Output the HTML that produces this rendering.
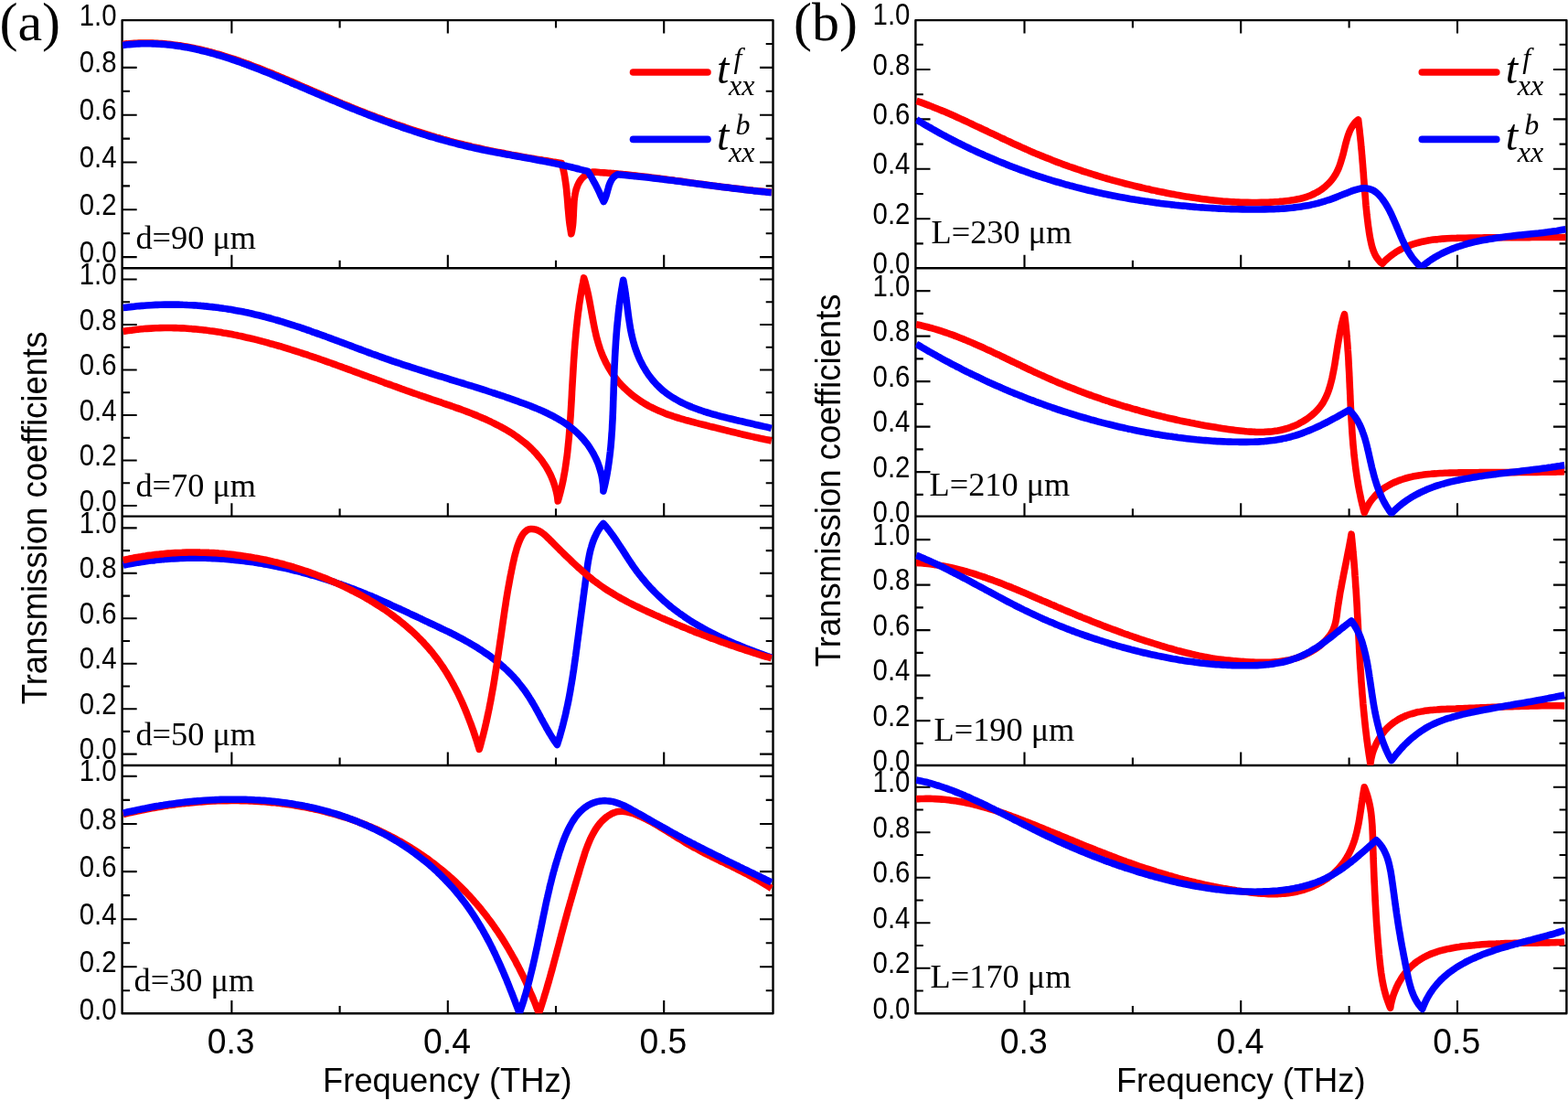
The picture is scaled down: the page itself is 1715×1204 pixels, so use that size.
<!DOCTYPE html>
<html lang="en">
<head>
<meta charset="utf-8">
<title>Transmission coefficients</title>
<style>
html,body{margin:0;padding:0;background:#fff;}
body{width:1715px;height:1204px;overflow:hidden;}
svg{display:block;}
.ax{fill:none;stroke:#000;stroke-width:2.4;stroke-linecap:butt;}
.tk{fill:none;stroke:#000;stroke-width:2.1;stroke-linecap:butt;}
.cv{fill:none;stroke-width:7.6;stroke-linejoin:round;stroke-linecap:butt;}
.r{stroke:#ff0000;}.b{stroke:#0000ff;}
.yt{font-family:"Liberation Sans", sans-serif;font-size:29.4px;text-anchor:end;fill:#000;}
.xt{font-family:"Liberation Sans", sans-serif;font-size:37.3px;text-anchor:middle;fill:#000;}
.ttl{font-family:"Liberation Sans", sans-serif;font-size:36.5px;text-anchor:middle;fill:#000;}
.lab{font-family:"Liberation Serif", serif;font-size:36.3px;fill:#000;}
.tag{font-family:"Liberation Serif", serif;font-size:60px;fill:#000;}
.lg{font-family:"Liberation Serif", serif;font-style:italic;fill:#000;}
</style>
</head>
<body>
<svg width="1715" height="1204" viewBox="0 0 1715 1204">
<rect x="0" y="0" width="1715" height="1204" fill="#fff"/>
<defs>
<clipPath id="ca1"><rect x="133.6" y="22.1" width="711.9" height="271.1"/></clipPath>
<clipPath id="ca2"><rect x="133.6" y="293.2" width="711.9" height="271.4"/></clipPath>
<clipPath id="ca3"><rect x="133.6" y="564.6" width="711.9" height="272.4"/></clipPath>
<clipPath id="ca4"><rect x="133.6" y="837" width="711.9" height="271.2"/></clipPath>
<clipPath id="cb1"><rect x="1001.4" y="22.1" width="712" height="271.1"/></clipPath>
<clipPath id="cb2"><rect x="1001.4" y="293.2" width="712" height="271.4"/></clipPath>
<clipPath id="cb3"><rect x="1001.4" y="564.6" width="712" height="272.4"/></clipPath>
<clipPath id="cb4"><rect x="1001.4" y="837" width="712" height="271.2"/></clipPath>
</defs>
<path class="ax" style="stroke-linejoin:round" d="M133.6 22.1H845.5V1108.3H133.6ZM133.6 293.2H845.5M133.6 564.6H845.5M133.6 837H845.5"/>
<g id="panel-a1">
<path class="tk" d="M133.6 48h8.4M845.5 48h-7.8M133.6 73.9h16.1M845.5 73.9h-14.5M133.6 99.8h8.4M845.5 99.8h-7.8M133.6 125.7h16.1M845.5 125.7h-14.5M133.6 151.6h8.4M845.5 151.6h-7.8M133.6 177.5h16.1M845.5 177.5h-14.5M133.6 203.4h8.4M845.5 203.4h-7.8M133.6 229.3h16.1M845.5 229.3h-14.5M133.6 255.2h8.4M845.5 255.2h-7.8M133.6 281.1h16.1M845.5 281.1h-14.5M253.4 293.2v-14.4M253.4 22.1v14.4M371.6 293.2v-8.4M371.6 22.1v8.4M489.8 293.2v-14.4M489.8 22.1v14.4M608 293.2v-8.4M608 22.1v8.4M726.2 293.2v-14.4M726.2 22.1v14.4"/>
<g clip-path="url(#ca1)">
<path class="cv r" d="M134.1 48.4C135.8 48.2 137.5 48 139.2 47.9C140.9 47.7 142.6 47.6 144.3 47.5C146 47.4 147.7 47.3 149.4 47.2C151 47.1 152.7 47.1 154.4 47C156.1 47 157.8 47 159.4 47C161.1 47 162.8 47 164.4 47C166.1 47.1 167.8 47.1 169.4 47.2C171.1 47.3 172.7 47.4 174.4 47.5C176 47.6 177.7 47.7 179.3 47.8C181 48 182.6 48.1 184.3 48.3C185.9 48.5 187.6 48.7 189.2 48.9C190.8 49.1 192.5 49.3 194.1 49.5C195.7 49.7 197.4 50 199 50.2C200.6 50.5 202.3 50.8 203.9 51.1C205.5 51.4 207.1 51.7 208.7 52C210.4 52.3 212 52.6 213.6 53C215.2 53.3 216.8 53.7 218.4 54C220.1 54.4 221.7 54.8 223.3 55.2C224.9 55.5 226.5 55.9 228.1 56.4C229.7 56.8 231.3 57.2 232.9 57.6C234.5 58.1 236.1 58.5 237.7 59C239.3 59.4 240.9 59.9 242.5 60.4C244.1 60.9 245.6 61.3 247.2 61.8C248.8 62.3 250.4 62.8 252 63.4C253.6 63.9 255.2 64.4 256.8 64.9C258.3 65.5 259.9 66 261.5 66.5C263.1 67.1 264.7 67.6 266.2 68.2C267.8 68.8 269.4 69.3 271 69.9C272.5 70.5 274.1 71.1 275.7 71.7C277.2 72.3 278.8 72.9 280.4 73.5C282 74.1 283.5 74.7 285.1 75.3C286.7 75.9 288.2 76.5 289.8 77.2C291.4 77.8 292.9 78.4 294.5 79.1C296 79.7 297.6 80.3 299.2 81C300.7 81.6 302.3 82.3 303.8 82.9C305.4 83.6 307 84.2 308.5 84.9C310.1 85.5 311.6 86.2 313.2 86.9C314.8 87.5 316.3 88.2 317.9 88.9C319.4 89.5 321 90.2 322.5 90.9C324.1 91.5 325.6 92.2 327.2 92.9C328.7 93.6 330.3 94.2 331.8 94.9C333.4 95.6 334.9 96.3 336.5 96.9C338.1 97.6 339.6 98.3 341.2 99C342.7 99.7 344.3 100.3 345.8 101C347.4 101.7 348.9 102.4 350.5 103C352 103.7 353.6 104.4 355.1 105C356.7 105.7 358.2 106.4 359.8 107C361.3 107.7 362.9 108.4 364.4 109C366 109.7 367.5 110.4 369.1 111C370.6 111.7 372.2 112.3 373.7 113C375.3 113.6 376.8 114.3 378.4 114.9C379.9 115.5 381.5 116.2 383 116.8C384.6 117.4 386.1 118.1 387.7 118.7C389.2 119.3 390.8 119.9 392.3 120.6C393.9 121.2 395.4 121.8 397 122.4C398.5 123 400.1 123.6 401.6 124.2C403.2 124.8 404.8 125.4 406.3 126C407.9 126.6 409.4 127.2 411 127.8C412.5 128.4 414.1 129 415.7 129.5C417.2 130.1 418.8 130.7 420.3 131.3C421.9 131.8 423.5 132.4 425 133C426.6 133.5 428.1 134.1 429.7 134.7C431.3 135.2 432.8 135.8 434.4 136.3C436 136.9 437.5 137.4 439.1 138C440.7 138.5 442.2 139 443.8 139.6C445.4 140.1 446.9 140.6 448.5 141.2C450.1 141.7 451.7 142.2 453.2 142.7C454.8 143.2 456.4 143.7 457.9 144.2C459.5 144.7 461.1 145.2 462.7 145.7C464.3 146.2 465.8 146.7 467.4 147.2C469 147.7 470.6 148.2 472.2 148.7C473.7 149.1 475.3 149.6 476.9 150.1C478.5 150.5 480.1 151 481.7 151.4C483.3 151.9 484.8 152.3 486.4 152.8C488 153.2 489.6 153.7 491.2 154.1C492.8 154.5 494.4 154.9 496 155.4C497.6 155.8 499.2 156.2 500.8 156.6C502.4 157 504 157.4 505.6 157.8C507.2 158.2 508.8 158.6 510.4 159C512 159.4 513.6 159.7 515.2 160.1C516.8 160.5 518.4 160.9 520.1 161.2C521.7 161.6 523.3 161.9 524.9 162.3C526.5 162.7 528.1 163 529.8 163.4C531.4 163.7 533 164.1 534.6 164.4C536.2 164.7 537.9 165.1 539.5 165.4C541.1 165.7 542.8 166.1 544.4 166.4C546 166.7 547.7 167 549.3 167.3C550.9 167.7 552.6 168 554.2 168.3C555.9 168.6 557.5 168.9 559.1 169.2C560.8 169.5 562.4 169.8 564.1 170.1C565.7 170.4 567.4 170.7 569 171C570.7 171.3 572.3 171.6 574 171.9C575.7 172.2 577.3 172.5 579 172.7C580.7 173 582.3 173.3 584 173.6C585.7 173.9 587.3 174.2 589 174.4C590.7 174.7 592.3 175 594 175.3C595.7 175.5 597.4 175.8 599.1 176.1C600.7 176.4 602.4 176.6 604.1 176.9C605.8 177.2 607.5 177.4 609.2 177.7C610.9 178 612.6 178.3 614.3 178.5C614.7 180.1 615.2 181.6 615.6 183.2C616 184.8 616.3 186.3 616.7 187.9C617 189.5 617.3 191.1 617.6 192.7C617.9 194.3 618.1 195.9 618.3 197.5C618.6 199.1 618.8 200.7 619 202.3C619.2 203.9 619.4 205.5 619.6 207.1C619.7 208.8 619.9 210.4 620 212C620.2 213.6 620.3 215.3 620.5 216.9C620.6 218.5 620.7 220.1 620.9 221.8C621 223.4 621.1 225 621.2 226.6C621.4 228.3 621.5 229.9 621.7 231.5C621.8 233.2 622 234.8 622.1 236.4C622.3 238 622.4 239.7 622.6 241.3C622.8 242.9 623 244.5 623.2 246.1C623.5 247.7 623.7 249.3 624 250.9C624.2 252.5 624.5 254.1 624.8 255.7C625.2 254.2 625.6 252.7 625.8 251C626.1 249.4 626.3 247.8 626.5 246.1C626.7 244.4 626.8 242.7 626.9 240.9C627 239.2 627.1 237.4 627.2 235.6C627.3 233.8 627.3 232 627.4 230.2C627.5 228.4 627.6 226.6 627.7 224.8C627.8 223 627.9 221.3 628 219.5C628.2 217.7 628.4 216 628.7 214.3C628.9 212.6 629.3 210.9 629.7 209.2C630 207.6 630.5 206 631.1 204.5C631.6 202.9 632.3 201.5 633 200.1C633.8 198.7 634.6 197.4 635.6 196.1C636.6 194.9 637.7 193.8 638.9 192.8C640.1 191.7 641.5 190.8 643.1 190C644.6 189.2 646.3 188.6 648.1 188C649.8 188.1 651.5 188.2 653.2 188.3C654.8 188.4 656.5 188.6 658.2 188.7C659.9 188.8 661.5 188.9 663.2 189C664.9 189.2 666.6 189.3 668.2 189.4C669.9 189.6 671.6 189.7 673.3 189.9C674.9 190 676.6 190.2 678.3 190.3C680 190.5 681.6 190.6 683.3 190.8C685 191 686.6 191.2 688.3 191.3C690 191.5 691.7 191.7 693.3 191.9C695 192 696.7 192.2 698.3 192.4C700 192.6 701.7 192.8 703.3 193C705 193.2 706.7 193.4 708.4 193.6C710 193.8 711.7 194 713.4 194.2C715 194.4 716.7 194.6 718.4 194.8C720 195 721.7 195.3 723.4 195.5C725.1 195.7 726.7 195.9 728.4 196.1C730.1 196.3 731.7 196.6 733.4 196.8C735.1 197 736.7 197.2 738.4 197.5C740.1 197.7 741.7 197.9 743.4 198.1C745.1 198.4 746.7 198.6 748.4 198.8C750.1 199 751.8 199.3 753.4 199.5C755.1 199.7 756.8 199.9 758.4 200.2C760.1 200.4 761.8 200.6 763.4 200.9C765.1 201.1 766.8 201.3 768.4 201.5C770.1 201.8 771.8 202 773.4 202.2C775.1 202.4 776.8 202.6 778.5 202.9C780.1 203.1 781.8 203.3 783.5 203.5C785.1 203.7 786.8 204 788.5 204.2C790.1 204.4 791.8 204.6 793.5 204.8C795.2 205 796.8 205.2 798.5 205.4C800.2 205.6 801.8 205.8 803.5 206C805.2 206.2 806.9 206.4 808.5 206.6C810.2 206.8 811.9 207 813.6 207.2C815.2 207.4 816.9 207.6 818.6 207.7C820.2 207.9 821.9 208.1 823.6 208.3C825.3 208.4 826.9 208.6 828.6 208.8C830.3 208.9 832 209.1 833.6 209.2C835.3 209.4 837 209.5 838.7 209.7C840.3 209.8 842 210 843.7 210.1"/>
<path class="cv b" d="M134.1 49.4C135.9 49.2 137.6 49 139.3 48.8C141 48.6 142.7 48.5 144.4 48.4C146.1 48.2 147.8 48.1 149.5 48C151.2 47.9 152.8 47.9 154.5 47.8C156.2 47.8 157.9 47.8 159.6 47.7C161.2 47.7 162.9 47.7 164.6 47.8C166.3 47.8 167.9 47.9 169.6 47.9C171.2 48 172.9 48.1 174.6 48.2C176.2 48.3 177.9 48.4 179.5 48.5C181.2 48.7 182.8 48.8 184.5 49C186.1 49.2 187.8 49.4 189.4 49.6C191 49.8 192.7 50 194.3 50.2C195.9 50.5 197.6 50.7 199.2 51C200.8 51.3 202.5 51.5 204.1 51.8C205.7 52.1 207.3 52.4 208.9 52.8C210.6 53.1 212.2 53.4 213.8 53.8C215.4 54.1 217 54.5 218.6 54.9C220.2 55.2 221.8 55.6 223.4 56C225 56.4 226.6 56.9 228.2 57.3C229.8 57.7 231.4 58.1 233 58.6C234.6 59 236.2 59.5 237.8 60C239.4 60.4 241 60.9 242.6 61.4C244.2 61.9 245.7 62.4 247.3 62.9C248.9 63.4 250.5 63.9 252.1 64.4C253.6 65 255.2 65.5 256.8 66C258.4 66.6 259.9 67.1 261.5 67.7C263.1 68.2 264.7 68.8 266.2 69.4C267.8 70 269.4 70.5 270.9 71.1C272.5 71.7 274.1 72.3 275.6 72.9C277.2 73.5 278.8 74.1 280.3 74.7C281.9 75.3 283.5 75.9 285 76.5C286.6 77.2 288.1 77.8 289.7 78.4C291.2 79 292.8 79.7 294.4 80.3C295.9 80.9 297.5 81.6 299 82.2C300.6 82.9 302.1 83.5 303.7 84.2C305.2 84.8 306.8 85.5 308.3 86.1C309.9 86.8 311.5 87.4 313 88.1C314.6 88.7 316.1 89.4 317.7 90.1C319.2 90.7 320.8 91.4 322.3 92.1C323.8 92.7 325.4 93.4 326.9 94C328.5 94.7 330 95.4 331.6 96C333.1 96.7 334.7 97.4 336.2 98C337.8 98.7 339.3 99.4 340.9 100C342.4 100.7 344 101.3 345.5 102C347.1 102.7 348.6 103.3 350.2 104C351.7 104.6 353.3 105.3 354.8 106C356.4 106.6 357.9 107.3 359.5 107.9C361 108.6 362.6 109.2 364.1 109.9C365.7 110.5 367.2 111.2 368.8 111.8C370.3 112.5 371.9 113.1 373.4 113.8C375 114.4 376.5 115 378.1 115.7C379.6 116.3 381.2 117 382.7 117.6C384.3 118.2 385.8 118.8 387.4 119.5C389 120.1 390.5 120.7 392.1 121.4C393.6 122 395.2 122.6 396.8 123.2C398.3 123.8 399.9 124.4 401.4 125C403 125.7 404.6 126.3 406.1 126.9C407.7 127.5 409.3 128.1 410.8 128.7C412.4 129.3 414 129.9 415.5 130.4C417.1 131 418.7 131.6 420.2 132.2C421.8 132.8 423.4 133.4 425 133.9C426.5 134.5 428.1 135.1 429.7 135.6C431.3 136.2 432.8 136.8 434.4 137.3C436 137.9 437.6 138.4 439.1 139C440.7 139.5 442.3 140.1 443.9 140.6C445.5 141.1 447 141.7 448.6 142.2C450.2 142.7 451.8 143.3 453.4 143.8C454.9 144.3 456.5 144.8 458.1 145.3C459.7 145.8 461.3 146.3 462.9 146.8C464.5 147.3 466.1 147.8 467.6 148.3C469.2 148.8 470.8 149.3 472.4 149.7C474 150.2 475.6 150.7 477.2 151.2C478.8 151.6 480.4 152.1 482 152.5C483.6 153 485.2 153.4 486.8 153.9C488.4 154.3 490 154.7 491.6 155.2C493.2 155.6 494.8 156 496.4 156.4C498 156.9 499.6 157.3 501.2 157.7C502.8 158.1 504.4 158.5 506 158.9C507.6 159.3 509.2 159.6 510.8 160C512.4 160.4 514 160.8 515.6 161.1C517.2 161.5 518.8 161.8 520.5 162.2C522.1 162.5 523.7 162.9 525.3 163.2C526.9 163.6 528.5 163.9 530.1 164.2C531.7 164.5 533.4 164.9 535 165.2C536.6 165.5 538.2 165.8 539.8 166.1C541.4 166.5 543.1 166.8 544.7 167.1C546.3 167.4 547.9 167.7 549.6 168C551.2 168.3 552.8 168.6 554.4 168.9C556 169.2 557.7 169.5 559.3 169.8C560.9 170.1 562.6 170.4 564.2 170.7C565.8 171 567.4 171.3 569.1 171.5C570.7 171.8 572.3 172.1 574 172.4C575.6 172.7 577.2 173 578.9 173.3C580.5 173.6 582.1 173.9 583.8 174.3C585.4 174.6 587 174.9 588.7 175.2C590.3 175.5 592 175.8 593.6 176.1C595.2 176.4 596.9 176.8 598.5 177.1C600.2 177.4 601.8 177.8 603.5 178.1C605.1 178.4 606.8 178.8 608.4 179.1C610 179.5 611.7 179.8 613.3 180.2C615 180.5 616.6 180.9 618.3 181.3C619.9 181.7 621.6 182 623.2 182.4C624.9 182.8 626.5 183.2 628.2 183.6C629.9 184 631.5 184.5 633.2 184.9C634.8 185.3 636.5 185.7 638.1 186.2C639.8 186.6 641.5 187.1 643.1 187.5C644.1 189 645 190.6 645.9 192.1C646.8 193.6 647.7 195.2 648.5 196.7C649.4 198.3 650.2 199.8 651.1 201.4C651.9 203 652.7 204.5 653.5 206.1C654.3 207.7 655 209.3 655.8 210.9C656.5 212.5 657.3 214.2 658 215.8C658.7 217.4 659.5 219 660.2 220.6C661 219.3 661.6 217.8 662.2 216.3C662.8 214.7 663.3 213.1 663.7 211.5C664.2 209.8 664.6 208.2 665.1 206.5C665.5 204.9 666 203.3 666.5 201.8C667.1 200.2 667.7 198.7 668.5 197.4C669.3 196 670.2 194.7 671.3 193.6C672.4 192.5 673.7 191.6 675.2 190.8C676.9 190.9 678.5 191.1 680.2 191.2C681.8 191.4 683.5 191.6 685.1 191.7C686.8 191.9 688.5 192 690.1 192.2C691.8 192.4 693.4 192.5 695.1 192.7C696.7 192.9 698.4 193.1 700 193.2C701.7 193.4 703.3 193.6 705 193.8C706.6 194 708.3 194.2 709.9 194.3C711.6 194.5 713.3 194.7 714.9 194.9C716.6 195.1 718.2 195.3 719.9 195.5C721.5 195.7 723.2 195.9 724.8 196.1C726.5 196.3 728.1 196.5 729.8 196.7C731.4 196.9 733.1 197.1 734.7 197.3C736.4 197.6 738 197.8 739.7 198C741.3 198.2 743 198.4 744.6 198.6C746.3 198.8 747.9 199 749.6 199.2C751.2 199.5 752.9 199.7 754.5 199.9C756.2 200.1 757.8 200.3 759.5 200.5C761.1 200.8 762.8 201 764.4 201.2C766.1 201.4 767.7 201.6 769.4 201.8C771 202 772.7 202.3 774.3 202.5C776 202.7 777.6 202.9 779.3 203.1C780.9 203.3 782.6 203.5 784.2 203.8C785.9 204 787.5 204.2 789.2 204.4C790.8 204.6 792.5 204.8 794.1 205C795.8 205.2 797.4 205.4 799.1 205.6C800.7 205.8 802.4 206 804 206.2C805.7 206.4 807.3 206.6 809 206.8C810.6 207 812.3 207.2 813.9 207.4C815.6 207.6 817.2 207.8 818.9 208C820.5 208.2 822.2 208.4 823.8 208.6C825.5 208.7 827.2 208.9 828.8 209.1C830.5 209.3 832.1 209.5 833.8 209.6C835.4 209.8 837.1 210 838.7 210.1C840.4 210.3 842 210.5 843.7 210.6"/>
</g>
<text class="yt" transform="translate(127.6 27.65) scale(1 1.1)">1.0</text>
<text class="yt" transform="translate(127.6 79.45) scale(1 1.1)">0.8</text>
<text class="yt" transform="translate(127.6 131.25) scale(1 1.1)">0.6</text>
<text class="yt" transform="translate(127.6 183.05) scale(1 1.1)">0.4</text>
<text class="yt" transform="translate(127.6 234.85) scale(1 1.1)">0.2</text>
<text class="yt" transform="translate(127.6 286.65) scale(1 1.1)">0.0</text>
<text class="lab" x="148.4" y="271.8">d=90 μm</text>
</g>
<g id="panel-a2">
<path class="tk" d="M133.6 305.5h16.1M845.5 305.5h-14.5M133.6 330.2h8.4M845.5 330.2h-7.8M133.6 355h16.1M845.5 355h-14.5M133.6 379.8h8.4M845.5 379.8h-7.8M133.6 404.5h16.1M845.5 404.5h-14.5M133.6 429.2h8.4M845.5 429.2h-7.8M133.6 454h16.1M845.5 454h-14.5M133.6 478.8h8.4M845.5 478.8h-7.8M133.6 503.5h16.1M845.5 503.5h-14.5M133.6 528.2h8.4M845.5 528.2h-7.8M133.6 553h16.1M845.5 553h-14.5M253.4 564.6v-14.4M371.6 564.6v-8.4M489.8 564.6v-14.4M608 564.6v-8.4M726.2 564.6v-14.4"/>
<g clip-path="url(#ca2)">
<path class="cv r" d="M134.7 362.4C136.4 362.1 138.1 361.9 139.8 361.6C141.5 361.4 143.2 361.1 144.9 360.9C146.6 360.7 148.3 360.5 150 360.3C151.6 360.1 153.3 360 155 359.8C156.7 359.7 158.4 359.5 160 359.4C161.7 359.3 163.4 359.2 165.1 359.1C166.7 359 168.4 358.9 170.1 358.8C171.7 358.7 173.4 358.7 175.1 358.6C176.7 358.6 178.4 358.6 180.1 358.5C181.7 358.5 183.4 358.5 185 358.5C186.7 358.5 188.3 358.6 190 358.6C191.6 358.6 193.3 358.7 194.9 358.7C196.6 358.8 198.2 358.9 199.9 358.9C201.5 359 203.2 359.1 204.8 359.2C206.5 359.3 208.1 359.4 209.7 359.6C211.4 359.7 213 359.8 214.6 360C216.3 360.2 217.9 360.3 219.5 360.5C221.2 360.7 222.8 360.8 224.4 361C226.1 361.2 227.7 361.4 229.3 361.7C230.9 361.9 232.6 362.1 234.2 362.3C235.8 362.6 237.4 362.8 239.1 363.1C240.7 363.3 242.3 363.6 243.9 363.9C245.5 364.1 247.1 364.4 248.8 364.7C250.4 365 252 365.3 253.6 365.6C255.2 365.9 256.8 366.3 258.4 366.6C260 366.9 261.6 367.3 263.2 367.6C264.9 367.9 266.5 368.3 268.1 368.7C269.7 369 271.3 369.4 272.9 369.8C274.5 370.1 276.1 370.5 277.7 370.9C279.3 371.3 280.9 371.7 282.5 372.1C284.1 372.5 285.7 372.9 287.3 373.4C288.9 373.8 290.5 374.2 292 374.6C293.6 375.1 295.2 375.5 296.8 376C298.4 376.4 300 376.9 301.6 377.3C303.2 377.8 304.8 378.2 306.4 378.7C308 379.2 309.5 379.6 311.1 380.1C312.7 380.6 314.3 381.1 315.9 381.6C317.5 382.1 319.1 382.6 320.6 383.1C322.2 383.6 323.8 384.1 325.4 384.6C327 385.1 328.6 385.6 330.1 386.1C331.7 386.7 333.3 387.2 334.9 387.7C336.5 388.2 338 388.8 339.6 389.3C341.2 389.8 342.8 390.4 344.4 390.9C345.9 391.4 347.5 392 349.1 392.5C350.7 393.1 352.3 393.6 353.8 394.2C355.4 394.7 357 395.3 358.6 395.9C360.1 396.4 361.7 397 363.3 397.5C364.9 398.1 366.4 398.7 368 399.2C369.6 399.8 371.2 400.4 372.7 400.9C374.3 401.5 375.9 402.1 377.5 402.7C379 403.2 380.6 403.8 382.2 404.4C383.8 405 385.3 405.5 386.9 406.1C388.5 406.7 390.1 407.3 391.6 407.8C393.2 408.4 394.8 409 396.4 409.6C397.9 410.2 399.5 410.7 401.1 411.3C402.7 411.9 404.2 412.5 405.8 413.1C407.4 413.6 409 414.2 410.5 414.8C412.1 415.4 413.7 415.9 415.2 416.5C416.8 417.1 418.4 417.7 420 418.3C421.5 418.8 423.1 419.4 424.7 420C426.3 420.5 427.8 421.1 429.4 421.7C431 422.3 432.6 422.8 434.1 423.4C435.7 424 437.3 424.5 438.8 425.1C440.4 425.6 442 426.2 443.5 426.8C445.1 427.3 446.7 427.9 448.3 428.4C449.8 429 451.4 429.5 453 430.1C454.5 430.6 456.1 431.2 457.7 431.7C459.2 432.3 460.8 432.8 462.4 433.4C463.9 433.9 465.5 434.4 467 435C468.6 435.5 470.2 436 471.7 436.6C473.3 437.1 474.8 437.6 476.4 438.1C478 438.7 479.5 439.2 481.1 439.7C482.6 440.2 484.2 440.8 485.7 441.3C487.3 441.8 488.8 442.4 490.4 442.9C491.9 443.4 493.5 444 495 444.5C496.6 445 498.1 445.6 499.7 446.1C501.2 446.7 502.8 447.2 504.3 447.8C505.9 448.4 507.4 448.9 508.9 449.5C510.5 450.1 512 450.7 513.6 451.3C515.1 451.9 516.6 452.5 518.2 453.1C519.7 453.7 521.2 454.3 522.8 455C524.3 455.6 525.8 456.3 527.3 456.9C528.9 457.6 530.4 458.3 531.9 458.9C533.4 459.6 534.9 460.3 536.5 461C538 461.8 539.5 462.5 541 463.2C542.4 464 543.9 464.7 545.4 465.5C546.9 466.3 548.3 467.1 549.8 467.9C551.3 468.7 552.7 469.5 554.1 470.3C555.6 471.2 557 472.1 558.4 472.9C559.8 473.8 561.2 474.7 562.5 475.6C563.9 476.5 565.3 477.5 566.6 478.4C567.9 479.4 569.2 480.4 570.5 481.4C571.8 482.4 573.1 483.4 574.4 484.4C575.6 485.5 576.8 486.5 578.1 487.6C579.3 488.7 580.4 489.8 581.6 491C582.8 492.1 583.9 493.3 585 494.4C586.1 495.6 587.2 496.8 588.2 498.1C589.3 499.3 590.3 500.5 591.3 501.8C592.3 503.1 593.3 504.4 594.2 505.8C595.1 507.1 596 508.4 596.9 509.8C597.8 511.2 598.6 512.6 599.4 514C600.2 515.5 600.9 516.9 601.7 518.4C602.4 519.9 603.1 521.4 603.7 523C604.3 524.5 605 526 605.5 527.6C606.1 529.2 606.6 530.8 607.1 532.5C607.6 534.1 608 535.8 608.4 537.5C608.8 539.2 609.2 540.9 609.5 542.6C609.8 544.4 610 546.2 610.2 548C610.7 546.4 611.2 544.8 611.6 543.1C612.1 541.5 612.5 539.9 612.9 538.3C613.3 536.7 613.7 535.1 614.1 533.4C614.5 531.8 614.9 530.2 615.2 528.6C615.6 526.9 615.9 525.3 616.2 523.7C616.5 522.1 616.8 520.4 617.1 518.8C617.4 517.2 617.7 515.5 618 513.9C618.2 512.2 618.5 510.6 618.7 509C619 507.3 619.2 505.7 619.4 504C619.7 502.4 619.9 500.7 620.1 499.1C620.3 497.4 620.5 495.8 620.7 494.1C620.9 492.5 621 490.8 621.2 489.1C621.4 487.5 621.5 485.8 621.7 484.2C621.9 482.5 622 480.8 622.2 479.2C622.3 477.5 622.5 475.8 622.6 474.2C622.7 472.5 622.9 470.8 623 469.2C623.1 467.5 623.3 465.8 623.4 464.2C623.5 462.5 623.6 460.8 623.7 459.2C623.9 457.5 624 455.8 624.1 454.1C624.2 452.5 624.3 450.8 624.4 449.1C624.5 447.4 624.6 445.7 624.7 444.1C624.8 442.4 624.9 440.7 625 439C625.1 437.4 625.2 435.7 625.3 434C625.4 432.3 625.5 430.6 625.5 429C625.6 427.3 625.7 425.6 625.8 423.9C625.9 422.2 626 420.6 626.1 418.9C626.2 417.2 626.3 415.5 626.4 413.8C626.5 412.1 626.6 410.5 626.7 408.8C626.8 407.1 626.9 405.4 627 403.7C627.1 402.1 627.2 400.4 627.3 398.7C627.4 397 627.5 395.3 627.6 393.7C627.7 392 627.9 390.3 628 388.6C628.1 386.9 628.2 385.3 628.3 383.6C628.5 381.9 628.6 380.2 628.7 378.5C628.9 376.9 629 375.2 629.1 373.5C629.3 371.8 629.4 370.2 629.6 368.5C629.7 366.8 629.9 365.2 630 363.5C630.2 361.8 630.4 360.1 630.5 358.5C630.7 356.8 630.9 355.1 631.1 353.5C631.2 351.8 631.4 350.1 631.6 348.5C631.8 346.8 632 345.1 632.2 343.5C632.4 341.8 632.6 340.2 632.9 338.5C633.1 336.8 633.3 335.2 633.5 333.5C633.8 331.9 634 330.2 634.3 328.6C634.5 326.9 634.8 325.3 635 323.6C635.3 322 635.6 320.3 635.9 318.7C636.1 317 636.4 315.4 636.7 313.8C637 312.1 637.3 310.5 637.7 308.8C638 307.2 638.3 305.6 638.6 303.9C639.1 305.5 639.6 307.1 640.1 308.7C640.5 310.3 640.9 311.9 641.3 313.5C641.7 315.1 642.1 316.8 642.5 318.4C642.9 320 643.2 321.7 643.6 323.3C643.9 324.9 644.2 326.6 644.6 328.2C644.9 329.9 645.2 331.5 645.5 333.2C645.8 334.8 646.1 336.5 646.4 338.1C646.7 339.8 647 341.4 647.3 343.1C647.6 344.7 647.9 346.4 648.2 348C648.5 349.6 648.8 351.3 649.1 352.9C649.4 354.6 649.7 356.2 650.1 357.8C650.4 359.5 650.7 361.1 651.1 362.7C651.5 364.3 651.8 365.9 652.2 367.6C652.6 369.2 653.1 370.8 653.5 372.3C653.9 373.9 654.4 375.5 654.9 377.1C655.4 378.7 655.9 380.2 656.4 381.8C657 383.3 657.5 384.8 658.1 386.4C658.7 387.9 659.4 389.4 660 390.9C660.7 392.4 661.4 393.9 662.1 395.3C662.8 396.8 663.6 398.3 664.4 399.7C665.1 401.1 666 402.5 666.8 403.9C667.6 405.3 668.5 406.7 669.4 408.1C670.3 409.4 671.3 410.8 672.3 412.1C673.2 413.4 674.2 414.7 675.3 416C676.3 417.3 677.4 418.5 678.5 419.7C679.6 421 680.8 422.2 681.9 423.4C683.1 424.5 684.3 425.7 685.5 426.8C686.8 428 688 429.1 689.3 430.1C690.6 431.2 691.9 432.3 693.2 433.3C694.5 434.3 695.9 435.3 697.2 436.2C698.6 437.2 699.9 438.1 701.3 439C702.7 439.9 704.1 440.8 705.5 441.6C707 442.5 708.4 443.3 709.8 444.1C711.3 444.8 712.7 445.6 714.2 446.3C715.7 447 717.2 447.7 718.7 448.4C720.1 449.1 721.6 449.7 723.2 450.3C724.7 451 726.2 451.6 727.7 452.2C729.3 452.8 730.8 453.3 732.4 453.9C733.9 454.4 735.5 455 737 455.5C738.6 456 740.2 456.5 741.8 457C743.4 457.5 745 457.9 746.5 458.4C748.1 458.9 749.8 459.3 751.4 459.8C753 460.2 754.6 460.7 756.2 461.1C757.8 461.5 759.5 461.9 761.1 462.4C762.7 462.8 764.3 463.2 766 463.6C767.6 464 769.3 464.4 770.9 464.8C772.5 465.2 774.2 465.6 775.8 466.1C777.5 466.5 779.1 466.9 780.8 467.3C782.4 467.7 784.1 468.1 785.7 468.5C787.4 468.9 789 469.4 790.7 469.8C792.3 470.2 794 470.6 795.6 471C797.3 471.4 798.9 471.8 800.6 472.2C802.2 472.6 803.9 473 805.5 473.4C807.1 473.8 808.8 474.2 810.4 474.6C812 475 813.7 475.4 815.3 475.8C816.9 476.1 818.5 476.5 820.1 476.9C821.8 477.3 823.4 477.6 825 478C826.6 478.3 828.2 478.7 829.8 479C831.3 479.4 832.9 479.7 834.5 480C836.1 480.4 837.6 480.7 839.2 481C840.8 481.3 842.3 481.6 843.8 481.9"/>
<path class="cv b" d="M134.7 336.6C136.4 336.4 138.1 336.2 139.8 335.9C141.5 335.7 143.2 335.5 144.9 335.4C146.6 335.2 148.3 335 150 334.8C151.7 334.7 153.4 334.5 155.1 334.4C156.8 334.3 158.4 334.1 160.1 334C161.8 333.9 163.5 333.8 165.2 333.7C166.8 333.6 168.5 333.5 170.2 333.4C171.9 333.4 173.5 333.3 175.2 333.2C176.9 333.2 178.5 333.2 180.2 333.1C181.9 333.1 183.5 333.1 185.2 333.1C186.9 333.1 188.5 333.1 190.2 333.1C191.8 333.1 193.5 333.1 195.2 333.1C196.8 333.2 198.5 333.2 200.1 333.3C201.8 333.3 203.4 333.4 205.1 333.5C206.7 333.5 208.4 333.6 210 333.7C211.6 333.8 213.3 333.9 214.9 334C216.6 334.2 218.2 334.3 219.8 334.4C221.5 334.6 223.1 334.7 224.8 334.9C226.4 335 228 335.2 229.6 335.4C231.3 335.6 232.9 335.7 234.5 335.9C236.2 336.1 237.8 336.3 239.4 336.6C241 336.8 242.7 337 244.3 337.3C245.9 337.5 247.5 337.7 249.1 338C250.8 338.3 252.4 338.5 254 338.8C255.6 339.1 257.2 339.4 258.8 339.7C260.5 340 262.1 340.3 263.7 340.6C265.3 340.9 266.9 341.2 268.5 341.6C270.1 341.9 271.7 342.2 273.3 342.6C274.9 342.9 276.6 343.3 278.2 343.7C279.8 344 281.4 344.4 283 344.8C284.6 345.2 286.2 345.6 287.8 346C289.4 346.4 291 346.9 292.6 347.3C294.2 347.7 295.8 348.1 297.4 348.6C299 349 300.6 349.5 302.1 350C303.7 350.4 305.3 350.9 306.9 351.4C308.5 351.8 310.1 352.3 311.7 352.8C313.3 353.3 314.9 353.8 316.5 354.3C318.1 354.8 319.6 355.3 321.2 355.8C322.8 356.4 324.4 356.9 326 357.4C327.6 357.9 329.2 358.5 330.8 359C332.3 359.5 333.9 360.1 335.5 360.6C337.1 361.2 338.7 361.7 340.3 362.3C341.8 362.8 343.4 363.4 345 364C346.6 364.5 348.2 365.1 349.7 365.7C351.3 366.2 352.9 366.8 354.5 367.4C356.1 368 357.6 368.5 359.2 369.1C360.8 369.7 362.4 370.3 363.9 370.9C365.5 371.4 367.1 372 368.7 372.6C370.3 373.2 371.8 373.8 373.4 374.4C375 375 376.6 375.6 378.1 376.1C379.7 376.7 381.3 377.3 382.9 377.9C384.4 378.5 386 379.1 387.6 379.7C389.2 380.3 390.7 380.9 392.3 381.5C393.9 382 395.5 382.6 397 383.2C398.6 383.8 400.2 384.4 401.7 385C403.3 385.5 404.9 386.1 406.5 386.7C408 387.3 409.6 387.8 411.2 388.4C412.8 389 414.3 389.5 415.9 390.1C417.5 390.7 419.1 391.2 420.6 391.8C422.2 392.3 423.8 392.9 425.4 393.4C426.9 394 428.5 394.5 430.1 395.1C431.7 395.6 433.2 396.2 434.8 396.7C436.4 397.2 438 397.7 439.5 398.3C441.1 398.8 442.7 399.3 444.3 399.8C445.8 400.3 447.4 400.9 449 401.4C450.6 401.9 452.1 402.4 453.7 402.9C455.3 403.4 456.9 403.9 458.4 404.4C460 404.9 461.6 405.4 463.2 405.9C464.8 406.4 466.3 406.9 467.9 407.4C469.5 407.9 471.1 408.3 472.6 408.8C474.2 409.3 475.8 409.8 477.4 410.3C479 410.8 480.5 411.3 482.1 411.7C483.7 412.2 485.3 412.7 486.8 413.2C488.4 413.7 490 414.2 491.6 414.7C493.2 415.1 494.7 415.6 496.3 416.1C497.9 416.6 499.5 417.1 501.1 417.6C502.6 418 504.2 418.5 505.8 419C507.4 419.5 509 420 510.5 420.5C512.1 421 513.7 421.5 515.3 421.9C516.9 422.4 518.5 422.9 520 423.4C521.6 423.9 523.2 424.4 524.8 424.9C526.4 425.4 527.9 425.9 529.5 426.4C531.1 426.9 532.7 427.4 534.3 428C535.9 428.5 537.4 429 539 429.5C540.6 430 542.2 430.5 543.8 431.1C545.4 431.6 546.9 432.1 548.5 432.7C550.1 433.2 551.7 433.7 553.3 434.3C554.9 434.8 556.4 435.3 558 435.9C559.6 436.4 561.2 437 562.8 437.6C564.4 438.1 566 438.7 567.5 439.3C569.1 439.8 570.7 440.4 572.3 441C573.9 441.6 575.5 442.2 577 442.8C578.6 443.4 580.2 444 581.7 444.6C583.3 445.2 584.9 445.8 586.4 446.5C588 447.1 589.5 447.8 591.1 448.5C592.6 449.1 594.1 449.8 595.6 450.5C597.1 451.2 598.6 451.9 600.1 452.7C601.6 453.4 603.1 454.1 604.6 454.9C606 455.7 607.5 456.5 608.9 457.3C610.3 458.1 611.7 458.9 613.1 459.8C614.5 460.6 615.9 461.5 617.3 462.4C618.6 463.3 619.9 464.2 621.3 465.2C622.6 466.1 623.9 467.1 625.1 468.1C626.4 469.1 627.6 470.1 628.9 471.2C630.1 472.3 631.3 473.3 632.4 474.5C633.6 475.6 634.7 476.7 635.8 477.9C636.9 479.1 638 480.3 639 481.5C640.1 482.8 641.1 484.1 642.1 485.3C643.1 486.6 644 488 644.9 489.3C645.8 490.7 646.7 492 647.5 493.5C648.4 494.9 649.2 496.3 649.9 497.7C650.7 499.2 651.4 500.7 652.1 502.2C652.8 503.7 653.4 505.2 654.1 506.8C654.7 508.3 655.2 509.9 655.7 511.5C656.2 513.1 656.7 514.7 657.1 516.4C657.6 518 658 519.7 658.3 521.4C658.6 523 658.9 524.8 659.1 526.5C659.4 528.2 659.6 530 659.7 531.7C659.8 533.5 659.9 535.3 659.9 537.1C660.3 535.5 660.7 533.9 661.1 532.3C661.5 530.7 661.8 529.1 662.2 527.5C662.5 525.9 662.8 524.3 663.2 522.7C663.5 521.1 663.8 519.5 664.1 517.9C664.3 516.3 664.6 514.7 664.9 513.1C665.1 511.5 665.4 509.8 665.6 508.2C665.9 506.6 666.1 505 666.3 503.4C666.5 501.7 666.7 500.1 666.9 498.5C667.1 496.9 667.3 495.3 667.5 493.6C667.6 492 667.8 490.4 668 488.7C668.1 487.1 668.3 485.5 668.4 483.9C668.5 482.2 668.7 480.6 668.8 479C668.9 477.3 669 475.7 669.1 474C669.3 472.4 669.4 470.8 669.5 469.1C669.6 467.5 669.6 465.8 669.7 464.2C669.8 462.6 669.9 460.9 670 459.3C670.1 457.6 670.1 456 670.2 454.3C670.3 452.7 670.3 451 670.4 449.4C670.5 447.7 670.5 446.1 670.6 444.4C670.6 442.8 670.7 441.1 670.7 439.5C670.8 437.8 670.9 436.2 670.9 434.5C671 432.9 671 431.2 671.1 429.6C671.1 427.9 671.2 426.3 671.2 424.6C671.3 423 671.3 421.3 671.4 419.6C671.4 418 671.5 416.3 671.6 414.7C671.6 413 671.7 411.4 671.7 409.7C671.8 408.1 671.9 406.4 671.9 404.8C672 403.1 672.1 401.4 672.1 399.8C672.2 398.1 672.3 396.5 672.4 394.8C672.5 393.2 672.5 391.5 672.6 389.9C672.7 388.2 672.8 386.6 672.9 384.9C673 383.3 673.1 381.6 673.2 379.9C673.3 378.3 673.4 376.6 673.5 375C673.6 373.3 673.7 371.7 673.9 370C674 368.4 674.1 366.7 674.2 365.1C674.4 363.4 674.5 361.8 674.6 360.2C674.8 358.5 674.9 356.9 675.1 355.2C675.2 353.6 675.4 351.9 675.6 350.3C675.7 348.6 675.9 347 676.1 345.4C676.2 343.7 676.4 342.1 676.6 340.5C676.8 338.8 677 337.2 677.2 335.5C677.4 333.9 677.6 332.3 677.8 330.6C678.1 329 678.3 327.4 678.5 325.8C678.7 324.1 679 322.5 679.2 320.9C679.5 319.3 679.7 317.6 680 316C680.3 314.4 680.6 312.8 680.8 311.1C681.1 309.5 681.4 307.9 681.7 306.3C682 307.9 682.3 309.5 682.6 311.1C682.9 312.7 683.2 314.4 683.4 316C683.7 317.6 683.9 319.3 684.2 320.9C684.4 322.6 684.6 324.2 684.8 325.9C685.1 327.6 685.3 329.2 685.5 330.9C685.7 332.6 685.9 334.2 686.1 335.9C686.3 337.6 686.6 339.3 686.8 340.9C687 342.6 687.2 344.3 687.4 346C687.7 347.7 687.9 349.3 688.2 351C688.4 352.7 688.7 354.3 689 356C689.2 357.7 689.5 359.3 689.8 361C690.2 362.6 690.5 364.3 690.8 365.9C691.2 367.5 691.6 369.2 692 370.8C692.4 372.4 692.8 374 693.3 375.6C693.7 377.2 694.2 378.8 694.7 380.3C695.2 381.9 695.8 383.5 696.4 385C696.9 386.6 697.6 388.1 698.2 389.6C698.8 391.1 699.5 392.6 700.2 394.1C700.9 395.5 701.6 397 702.4 398.4C703.1 399.9 703.9 401.3 704.8 402.7C705.6 404.1 706.4 405.5 707.3 406.8C708.2 408.2 709.1 409.5 710 410.8C711 412.1 712 413.4 713 414.6C714 415.9 715 417.1 716.1 418.3C717.2 419.5 718.3 420.6 719.4 421.8C720.5 422.9 721.7 424 722.9 425.1C724.1 426.2 725.3 427.2 726.6 428.2C727.8 429.2 729.1 430.2 730.4 431.1C731.8 432.1 733.1 433 734.5 433.9C735.9 434.8 737.3 435.6 738.7 436.4C740.1 437.3 741.6 438.1 743 438.8C744.5 439.6 746 440.4 747.5 441.1C749 441.8 750.5 442.5 752.1 443.2C753.6 443.9 755.2 444.5 756.8 445.2C758.3 445.8 759.9 446.4 761.5 447C763.1 447.6 764.7 448.2 766.3 448.7C767.9 449.3 769.6 449.8 771.2 450.3C772.8 450.8 774.4 451.3 776.1 451.8C777.7 452.3 779.4 452.8 781 453.3C782.6 453.7 784.3 454.2 785.9 454.6C787.5 455.1 789.2 455.5 790.8 455.9C792.4 456.3 794.1 456.7 795.7 457.1C797.3 457.5 799 457.9 800.6 458.3C802.2 458.7 803.8 459.1 805.5 459.5C807.1 459.8 808.7 460.2 810.3 460.6C812 460.9 813.6 461.3 815.2 461.7C816.8 462 818.4 462.4 820 462.8C821.6 463.1 823.2 463.5 824.8 463.9C826.4 464.2 828 464.6 829.6 465C831.2 465.3 832.8 465.7 834.4 466.1C836 466.5 837.6 466.8 839.1 467.2C840.7 467.6 842.3 468 843.8 468.4"/>
</g>
<text class="yt" transform="translate(127.6 311.05) scale(1 1.1)">1.0</text>
<text class="yt" transform="translate(127.6 360.55) scale(1 1.1)">0.8</text>
<text class="yt" transform="translate(127.6 410.05) scale(1 1.1)">0.6</text>
<text class="yt" transform="translate(127.6 459.55) scale(1 1.1)">0.4</text>
<text class="yt" transform="translate(127.6 509.05) scale(1 1.1)">0.2</text>
<text class="yt" transform="translate(127.6 558.55) scale(1 1.1)">0.0</text>
<text class="lab" x="148.4" y="542.7">d=70 μm</text>
</g>
<g id="panel-a3">
<path class="tk" d="M133.6 577.4h16.1M845.5 577.4h-14.5M133.6 602.1h8.4M845.5 602.1h-7.8M133.6 626.9h16.1M845.5 626.9h-14.5M133.6 651.6h8.4M845.5 651.6h-7.8M133.6 676.3h16.1M845.5 676.3h-14.5M133.6 701h8.4M845.5 701h-7.8M133.6 725.8h16.1M845.5 725.8h-14.5M133.6 750.5h8.4M845.5 750.5h-7.8M133.6 775.2h16.1M845.5 775.2h-14.5M133.6 799.9h8.4M845.5 799.9h-7.8M133.6 824.6h16.1M845.5 824.6h-14.5M253.4 837v-14.4M371.6 837v-8.4M489.8 837v-14.4M608 837v-8.4M726.2 837v-14.4"/>
<g clip-path="url(#ca3)">
<path class="cv b" d="M134.7 618.1C136.4 617.7 138.1 617.4 139.7 617.1C141.4 616.8 143.1 616.4 144.7 616.2C146.4 615.9 148.1 615.6 149.8 615.3C151.4 615 153.1 614.8 154.8 614.5C156.4 614.3 158.1 614 159.8 613.8C161.4 613.6 163.1 613.4 164.8 613.1C166.5 612.9 168.1 612.7 169.8 612.6C171.5 612.4 173.1 612.2 174.8 612C176.5 611.9 178.1 611.7 179.8 611.6C181.5 611.4 183.1 611.3 184.8 611.2C186.5 611.1 188.1 611 189.8 610.9C191.5 610.8 193.2 610.7 194.8 610.6C196.5 610.5 198.2 610.5 199.8 610.4C201.5 610.3 203.2 610.3 204.8 610.3C206.5 610.2 208.1 610.2 209.8 610.2C211.5 610.2 213.1 610.2 214.8 610.2C216.5 610.2 218.1 610.2 219.8 610.2C221.5 610.2 223.1 610.3 224.8 610.3C226.4 610.4 228.1 610.4 229.8 610.5C231.4 610.6 233.1 610.6 234.7 610.7C236.4 610.8 238.1 610.9 239.7 611C241.4 611.1 243 611.2 244.7 611.3C246.4 611.5 248 611.6 249.7 611.7C251.3 611.9 253 612 254.6 612.2C256.3 612.3 257.9 612.5 259.6 612.7C261.2 612.9 262.9 613.1 264.5 613.3C266.2 613.5 267.8 613.7 269.5 613.9C271.1 614.1 272.8 614.3 274.4 614.6C276.1 614.8 277.7 615 279.4 615.3C281 615.5 282.6 615.8 284.3 616.1C285.9 616.3 287.6 616.6 289.2 616.9C290.8 617.2 292.5 617.5 294.1 617.8C295.8 618.1 297.4 618.4 299 618.7C300.7 619 302.3 619.4 303.9 619.7C305.6 620.1 307.2 620.4 308.8 620.8C310.5 621.1 312.1 621.5 313.7 621.8C315.3 622.2 317 622.6 318.6 623C320.2 623.4 321.8 623.8 323.5 624.2C325.1 624.6 326.7 625 328.3 625.4C329.9 625.8 331.5 626.3 333.2 626.7C334.8 627.1 336.4 627.6 338 628C339.6 628.5 341.2 629 342.8 629.4C344.4 629.9 346.1 630.4 347.7 630.8C349.3 631.3 350.9 631.8 352.5 632.3C354.1 632.8 355.7 633.3 357.3 633.8C358.9 634.3 360.5 634.9 362.1 635.4C363.7 635.9 365.3 636.5 366.8 637C368.4 637.5 370 638.1 371.6 638.7C373.2 639.2 374.8 639.8 376.4 640.3C378 640.9 379.5 641.5 381.1 642.1C382.7 642.7 384.3 643.3 385.9 643.9C387.4 644.5 389 645.1 390.6 645.7C392.2 646.3 393.7 646.9 395.3 647.5C396.9 648.2 398.4 648.8 400 649.4C401.6 650.1 403.1 650.7 404.7 651.4C406.2 652 407.8 652.7 409.4 653.4C410.9 654 412.5 654.7 414 655.4C415.6 656 417.1 656.7 418.7 657.4C420.2 658.1 421.8 658.8 423.3 659.5C424.8 660.2 426.4 660.9 427.9 661.6C429.5 662.3 431 663 432.5 663.7C434.1 664.4 435.6 665.1 437.1 665.8C438.6 666.5 440.2 667.2 441.7 667.9C443.2 668.6 444.7 669.3 446.3 670C447.8 670.8 449.3 671.5 450.8 672.2C452.3 672.9 453.8 673.6 455.3 674.3C456.8 675 458.4 675.7 459.9 676.4C461.4 677.2 462.9 677.9 464.4 678.6C465.9 679.3 467.3 680 468.8 680.7C470.3 681.4 471.8 682.1 473.3 682.8C474.8 683.5 476.3 684.2 477.8 684.9C479.2 685.6 480.7 686.3 482.2 687C483.7 687.7 485.1 688.4 486.6 689.1C488.1 689.8 489.5 690.5 491 691.2C492.5 692 493.9 692.7 495.4 693.4C496.9 694.2 498.3 694.9 499.8 695.6C501.2 696.4 502.7 697.2 504.1 697.9C505.6 698.7 507 699.5 508.4 700.3C509.9 701.1 511.3 701.9 512.8 702.7C514.2 703.5 515.6 704.4 517 705.2C518.5 706.1 519.9 706.9 521.3 707.8C522.7 708.7 524.2 709.6 525.6 710.5C527 711.4 528.4 712.3 529.8 713.3C531.2 714.3 532.6 715.2 534 716.2C535.4 717.2 536.8 718.2 538.2 719.3C539.6 720.3 540.9 721.3 542.3 722.4C543.6 723.5 545 724.5 546.3 725.6C547.6 726.7 548.9 727.9 550.2 729C551.5 730.1 552.7 731.3 554 732.4C555.2 733.6 556.4 734.8 557.6 736C558.8 737.2 560 738.4 561.2 739.6C562.3 740.8 563.4 742.1 564.5 743.3C565.6 744.6 566.7 745.9 567.7 747.2C568.8 748.4 569.8 749.7 570.8 751.1C571.8 752.4 572.8 753.7 573.8 755C574.8 756.4 575.7 757.7 576.6 759.1C577.5 760.5 578.4 761.9 579.3 763.3C580.2 764.6 581.1 766.1 581.9 767.5C582.7 768.9 583.6 770.3 584.4 771.7C585.2 773.2 586 774.6 586.8 776C587.6 777.5 588.4 778.9 589.2 780.4C590 781.8 590.8 783.3 591.5 784.7C592.3 786.2 593.1 787.6 593.9 789.1C594.7 790.5 595.5 792 596.3 793.4C597.1 794.8 597.9 796.3 598.7 797.7C599.5 799.1 600.4 800.6 601.2 802C602.1 803.4 602.9 804.8 603.8 806.2C604.7 807.6 605.6 809 606.5 810.4C607.4 811.7 608.4 813.1 609.4 814.4C609.9 812.8 610.4 811.2 610.9 809.6C611.4 808 611.9 806.4 612.4 804.8C612.8 803.2 613.3 801.6 613.7 800C614.2 798.4 614.6 796.8 615.1 795.1C615.5 793.5 615.9 791.9 616.3 790.3C616.7 788.7 617.1 787.1 617.5 785.5C617.9 783.8 618.3 782.2 618.7 780.6C619 779 619.4 777.4 619.7 775.7C620.1 774.1 620.4 772.5 620.8 770.9C621.1 769.3 621.4 767.6 621.8 766C622.1 764.4 622.4 762.7 622.7 761.1C623 759.5 623.3 757.9 623.6 756.2C623.9 754.6 624.2 753 624.4 751.3C624.7 749.7 625 748.1 625.3 746.4C625.5 744.8 625.8 743.1 626.1 741.5C626.3 739.9 626.6 738.2 626.8 736.6C627.1 734.9 627.3 733.3 627.6 731.7C627.8 730 628 728.4 628.3 726.7C628.5 725.1 628.7 723.4 629 721.8C629.2 720.1 629.4 718.5 629.7 716.8C629.9 715.2 630.1 713.5 630.3 711.9C630.6 710.2 630.8 708.6 631 706.9C631.2 705.2 631.4 703.6 631.6 701.9C631.9 700.3 632.1 698.6 632.3 696.9C632.5 695.3 632.7 693.6 633 691.9C633.2 690.3 633.4 688.6 633.6 686.9C633.8 685.3 634 683.6 634.3 681.9C634.5 680.3 634.7 678.6 634.9 676.9C635.2 675.3 635.4 673.6 635.6 671.9C635.8 670.3 636 668.6 636.3 666.9C636.5 665.2 636.7 663.6 636.9 661.9C637.1 660.2 637.4 658.6 637.6 656.9C637.8 655.2 638 653.6 638.2 651.9C638.5 650.2 638.7 648.6 638.9 646.9C639.1 645.2 639.3 643.6 639.6 641.9C639.8 640.2 640 638.6 640.2 636.9C640.4 635.3 640.6 633.6 640.9 631.9C641.1 630.3 641.3 628.6 641.5 627C641.7 625.3 641.9 623.7 642.1 622C642.4 620.4 642.6 618.8 642.8 617.1C643.1 615.5 643.3 613.9 643.6 612.3C643.9 610.7 644.2 609.1 644.5 607.5C644.8 605.9 645.2 604.3 645.5 602.7C645.9 601.2 646.3 599.6 646.8 598.1C647.2 596.5 647.7 595 648.2 593.5C648.7 592 649.3 590.5 649.9 589C650.5 587.5 651.2 586.1 651.9 584.7C652.6 583.2 653.4 581.8 654.2 580.4C655 579 655.9 577.7 656.9 576.3C657.8 575 658.9 573.7 659.9 572.4C661 573.7 662.1 575 663.2 576.3C664.2 577.6 665.3 578.9 666.3 580.2C667.3 581.5 668.3 582.9 669.3 584.2C670.3 585.6 671.2 587 672.2 588.3C673.1 589.7 674.1 591.1 675 592.5C675.9 593.9 676.8 595.3 677.7 596.6C678.7 598 679.6 599.4 680.5 600.8C681.4 602.2 682.3 603.6 683.2 605C684.1 606.4 685 607.8 685.9 609.2C686.8 610.6 687.7 612 688.6 613.4C689.6 614.8 690.5 616.2 691.4 617.5C692.4 618.9 693.3 620.3 694.3 621.6C695.3 623 696.3 624.3 697.3 625.7C698.3 627 699.3 628.3 700.3 629.6C701.4 630.9 702.4 632.2 703.5 633.5C704.6 634.8 705.6 636.1 706.7 637.4C707.8 638.6 709 639.9 710.1 641.1C711.2 642.4 712.4 643.6 713.5 644.8C714.7 646 715.8 647.2 717 648.4C718.2 649.6 719.4 650.8 720.6 651.9C721.9 653.1 723.1 654.2 724.3 655.4C725.6 656.5 726.8 657.6 728.1 658.7C729.4 659.8 730.6 660.9 731.9 662C733.2 663.1 734.5 664.1 735.9 665.2C737.2 666.2 738.5 667.2 739.9 668.3C741.2 669.3 742.6 670.3 743.9 671.3C745.3 672.2 746.7 673.2 748.1 674.1C749.5 675.1 750.9 676 752.3 677C753.7 677.9 755.1 678.8 756.5 679.7C757.9 680.6 759.4 681.5 760.8 682.3C762.3 683.2 763.7 684.1 765.2 684.9C766.7 685.7 768.1 686.6 769.6 687.4C771.1 688.2 772.6 689 774.1 689.8C775.6 690.6 777.1 691.4 778.6 692.1C780.1 692.9 781.6 693.7 783.1 694.4C784.6 695.2 786.2 695.9 787.7 696.6C789.2 697.3 790.8 698.1 792.3 698.8C793.8 699.5 795.4 700.2 796.9 700.9C798.5 701.5 800 702.2 801.6 702.9C803.1 703.6 804.7 704.2 806.2 704.9C807.8 705.5 809.4 706.2 810.9 706.8C812.5 707.4 814.1 708.1 815.6 708.7C817.2 709.3 818.8 709.9 820.3 710.5C821.9 711.1 823.5 711.7 825 712.3C826.6 712.9 828.2 713.5 829.8 714.1C831.3 714.6 832.9 715.2 834.5 715.8C836 716.4 837.6 716.9 839.2 717.5C840.7 718 842.3 718.6 843.8 719.1"/>
<path class="cv r" d="M134.7 612.6C136.4 612.3 138 611.9 139.6 611.6C141.3 611.2 142.9 610.9 144.5 610.6C146.2 610.2 147.8 609.9 149.4 609.6C151.1 609.3 152.7 609 154.4 608.8C156 608.5 157.6 608.2 159.3 608C160.9 607.7 162.6 607.5 164.2 607.3C165.9 607.1 167.5 606.8 169.2 606.6C170.8 606.4 172.5 606.2 174.1 606.1C175.8 605.9 177.4 605.7 179.1 605.6C180.7 605.4 182.4 605.3 184 605.1C185.7 605 187.3 604.9 189 604.8C190.6 604.7 192.3 604.6 193.9 604.5C195.6 604.4 197.2 604.3 198.9 604.3C200.6 604.2 202.2 604.1 203.9 604.1C205.5 604.1 207.2 604 208.8 604C210.5 604 212.1 604 213.8 604C215.5 604 217.1 604 218.8 604.1C220.4 604.1 222.1 604.1 223.7 604.2C225.4 604.2 227 604.3 228.7 604.4C230.3 604.4 232 604.5 233.7 604.6C235.3 604.7 237 604.8 238.6 604.9C240.3 605.1 241.9 605.2 243.6 605.3C245.2 605.5 246.9 605.6 248.5 605.8C250.2 605.9 251.8 606.1 253.4 606.3C255.1 606.5 256.7 606.7 258.4 606.9C260 607.1 261.7 607.3 263.3 607.5C264.9 607.8 266.6 608 268.2 608.3C269.9 608.5 271.5 608.8 273.1 609C274.8 609.3 276.4 609.6 278 609.9C279.7 610.2 281.3 610.5 282.9 610.8C284.5 611.1 286.2 611.4 287.8 611.8C289.4 612.1 291 612.4 292.6 612.8C294.3 613.1 295.9 613.5 297.5 613.9C299.1 614.3 300.7 614.7 302.3 615C303.9 615.4 305.6 615.9 307.2 616.3C308.8 616.7 310.4 617.1 312 617.6C313.6 618 315.2 618.4 316.8 618.9C318.3 619.4 319.9 619.8 321.5 620.3C323.1 620.8 324.7 621.3 326.3 621.8C327.9 622.3 329.4 622.8 331 623.3C332.6 623.8 334.2 624.4 335.7 624.9C337.3 625.5 338.9 626 340.4 626.6C342 627.1 343.6 627.7 345.1 628.3C346.7 628.9 348.2 629.5 349.8 630.1C351.3 630.7 352.9 631.3 354.4 631.9C356 632.5 357.5 633.1 359 633.8C360.6 634.4 362.1 635.1 363.6 635.7C365.1 636.4 366.7 637.1 368.2 637.7C369.7 638.4 371.2 639.1 372.7 639.8C374.2 640.5 375.7 641.2 377.2 641.9C378.7 642.7 380.2 643.4 381.7 644.1C383.2 644.9 384.7 645.6 386.2 646.4C387.7 647.1 389.1 647.9 390.6 648.7C392.1 649.5 393.6 650.2 395 651C396.5 651.9 397.9 652.7 399.4 653.5C400.8 654.3 402.3 655.1 403.7 656C405.1 656.8 406.5 657.7 408 658.5C409.4 659.4 410.8 660.3 412.2 661.2C413.6 662.1 415 663 416.4 663.9C417.8 664.8 419.2 665.7 420.6 666.6C421.9 667.6 423.3 668.5 424.7 669.5C426 670.4 427.4 671.4 428.7 672.4C430.1 673.4 431.4 674.4 432.7 675.4C434 676.4 435.4 677.4 436.7 678.4C438 679.4 439.3 680.5 440.5 681.5C441.8 682.6 443.1 683.6 444.4 684.7C445.6 685.8 446.9 686.9 448.1 688C449.4 689.1 450.6 690.2 451.8 691.3C453 692.4 454.2 693.6 455.4 694.7C456.6 695.9 457.8 697 458.9 698.2C460.1 699.4 461.3 700.6 462.4 701.8C463.5 702.9 464.6 704.2 465.7 705.4C466.8 706.6 467.9 707.8 469 709.1C470.1 710.3 471.1 711.6 472.2 712.8C473.2 714.1 474.2 715.4 475.2 716.7C476.3 718 477.2 719.3 478.2 720.6C479.2 721.9 480.1 723.2 481.1 724.6C482 725.9 483 727.3 483.9 728.6C484.8 730 485.7 731.3 486.6 732.7C487.5 734.1 488.3 735.5 489.2 736.9C490 738.3 490.9 739.7 491.7 741.1C492.5 742.5 493.3 744 494.1 745.4C494.9 746.8 495.7 748.3 496.5 749.7C497.3 751.2 498 752.6 498.8 754.1C499.5 755.6 500.3 757.1 501 758.5C501.7 760 502.4 761.5 503.1 763C503.8 764.5 504.5 766 505.2 767.5C505.9 769 506.5 770.6 507.2 772.1C507.9 773.6 508.5 775.1 509.1 776.7C509.8 778.2 510.4 779.8 511 781.3C511.6 782.9 512.2 784.4 512.8 786C513.4 787.5 514 789.1 514.6 790.7C515.2 792.2 515.8 793.8 516.3 795.4C516.9 797 517.5 798.5 518 800.1C518.6 801.7 519.1 803.3 519.6 804.9C520.2 806.5 520.7 808.1 521.2 809.7C521.7 811.3 522.2 812.9 522.7 814.5C523.2 816.1 523.8 817.7 524.2 819.3C524.7 817.7 525.2 816.1 525.6 814.5C526 812.9 526.5 811.3 526.9 809.7C527.3 808.1 527.8 806.5 528.2 804.9C528.6 803.3 529 801.7 529.4 800C529.8 798.4 530.2 796.8 530.6 795.2C530.9 793.5 531.3 791.9 531.7 790.3C532.1 788.7 532.4 787 532.8 785.4C533.1 783.7 533.5 782.1 533.8 780.5C534.2 778.8 534.5 777.2 534.9 775.5C535.2 773.9 535.5 772.3 535.8 770.6C536.2 769 536.5 767.3 536.8 765.7C537.1 764 537.4 762.4 537.7 760.7C538 759.1 538.3 757.4 538.6 755.7C538.9 754.1 539.2 752.4 539.5 750.8C539.8 749.1 540 747.5 540.3 745.8C540.6 744.1 540.9 742.5 541.1 740.8C541.4 739.2 541.7 737.5 541.9 735.8C542.2 734.2 542.5 732.5 542.7 730.8C543 729.2 543.2 727.5 543.5 725.9C543.7 724.2 544 722.5 544.2 720.9C544.5 719.2 544.7 717.6 545 715.9C545.2 714.2 545.5 712.6 545.7 710.9C546 709.3 546.2 707.6 546.4 705.9C546.7 704.3 546.9 702.6 547.1 701C547.4 699.3 547.6 697.7 547.9 696C548.1 694.4 548.3 692.7 548.6 691.1C548.8 689.4 549 687.8 549.3 686.1C549.5 684.5 549.7 682.9 550 681.2C550.2 679.6 550.4 677.9 550.7 676.3C550.9 674.7 551.2 673 551.4 671.4C551.6 669.8 551.9 668.1 552.1 666.5C552.4 664.9 552.6 663.2 552.9 661.6C553.1 660 553.4 658.3 553.6 656.7C553.9 655 554.1 653.4 554.4 651.8C554.7 650.1 555 648.5 555.2 646.9C555.5 645.2 555.8 643.6 556.1 641.9C556.4 640.3 556.7 638.6 557 637C557.3 635.3 557.6 633.7 557.9 632C558.2 630.4 558.5 628.7 558.9 627C559.2 625.4 559.5 623.7 559.9 622C560.2 620.3 560.6 618.7 560.9 617C561.3 615.3 561.7 613.6 562.1 611.9C562.4 610.2 562.8 608.5 563.3 606.8C563.7 605.1 564.2 603.4 564.7 601.7C565.1 600 565.7 598.3 566.3 596.6C566.8 594.9 567.5 593.2 568.2 591.5C568.9 589.8 569.6 588.2 570.5 586.6C571.3 585.1 572.2 583.7 573.3 582.5C574.3 581.3 575.4 580.4 576.5 579.7C577.7 579.1 579 578.7 580.3 578.5C581.6 578.4 583 578.4 584.3 578.7C585.7 578.9 587 579.4 588.4 580C589.7 580.5 591 581.3 592.2 582.1C593.5 583 594.7 583.9 595.8 584.9C597 585.9 598.1 587 599.3 588.2C600.4 589.3 601.6 590.4 602.7 591.6C603.9 592.7 605 593.9 606.2 595.1C607.3 596.2 608.5 597.4 609.7 598.6C610.9 599.8 612.1 601 613.3 602.2C614.5 603.3 615.7 604.5 616.9 605.7C618.1 606.9 619.3 608.1 620.6 609.3C621.8 610.5 623.1 611.7 624.3 612.9C625.6 614.1 626.8 615.3 628.1 616.5C629.3 617.6 630.6 618.8 631.9 620C633.2 621.1 634.5 622.3 635.8 623.4C637.1 624.6 638.4 625.7 639.7 626.8C641 628 642.3 629.1 643.6 630.2C645 631.3 646.3 632.3 647.6 633.4C649 634.5 650.3 635.5 651.7 636.5C653 637.5 654.4 638.5 655.7 639.5C657.1 640.5 658.5 641.5 659.9 642.4C661.2 643.4 662.6 644.3 664 645.2C665.4 646.1 666.8 647 668.2 647.8C669.6 648.7 671 649.6 672.4 650.4C673.8 651.3 675.3 652.1 676.7 652.9C678.1 653.7 679.6 654.5 681 655.3C682.4 656.1 683.9 656.9 685.3 657.6C686.8 658.4 688.2 659.2 689.7 659.9C691.1 660.6 692.6 661.4 694.1 662.1C695.6 662.8 697 663.6 698.5 664.3C700 665 701.5 665.7 703 666.4C704.5 667.1 705.9 667.8 707.4 668.5C708.9 669.2 710.5 669.9 712 670.5C713.5 671.2 715 671.9 716.5 672.6C718 673.3 719.5 673.9 721.1 674.6C722.6 675.3 724.1 676 725.6 676.6C727.2 677.3 728.7 678 730.2 678.6C731.8 679.3 733.3 680 734.9 680.6C736.4 681.3 738 681.9 739.5 682.6C741.1 683.2 742.6 683.9 744.2 684.5C745.7 685.2 747.3 685.8 748.9 686.4C750.4 687.1 752 687.7 753.6 688.4C755.1 689 756.7 689.6 758.3 690.2C759.8 690.9 761.4 691.5 763 692.1C764.6 692.7 766.2 693.3 767.7 693.9C769.3 694.6 770.9 695.2 772.5 695.8C774.1 696.4 775.6 697 777.2 697.6C778.8 698.2 780.4 698.7 782 699.3C783.6 699.9 785.2 700.5 786.8 701.1C788.3 701.7 789.9 702.2 791.5 702.8C793.1 703.4 794.7 703.9 796.3 704.5C797.9 705.1 799.5 705.6 801.1 706.2C802.7 706.7 804.2 707.3 805.8 707.8C807.4 708.3 809 708.9 810.6 709.4C812.2 709.9 813.8 710.5 815.4 711C817 711.5 818.6 712 820.1 712.5C821.7 713.1 823.3 713.6 824.9 714.1C826.5 714.6 828.1 715.1 829.6 715.6C831.2 716.1 832.8 716.5 834.4 717C836 717.5 837.5 718 839.1 718.4C840.7 718.9 842.3 719.4 843.8 719.8"/>
</g>
<text class="yt" transform="translate(127.6 582.95) scale(1 1.1)">1.0</text>
<text class="yt" transform="translate(127.6 632.40) scale(1 1.1)">0.8</text>
<text class="yt" transform="translate(127.6 681.85) scale(1 1.1)">0.6</text>
<text class="yt" transform="translate(127.6 731.30) scale(1 1.1)">0.4</text>
<text class="yt" transform="translate(127.6 780.75) scale(1 1.1)">0.2</text>
<text class="yt" transform="translate(127.6 830.20) scale(1 1.1)">0.0</text>
<text class="lab" x="148.4" y="815.1">d=50 μm</text>
</g>
<g id="panel-a4">
<path class="tk" d="M133.6 848.9h16.1M845.5 848.9h-14.5M133.6 874.9h8.4M845.5 874.9h-7.8M133.6 901h16.1M845.5 901h-14.5M133.6 927h8.4M845.5 927h-7.8M133.6 953.1h16.1M845.5 953.1h-14.5M133.6 979.1h8.4M845.5 979.1h-7.8M133.6 1005.2h16.1M845.5 1005.2h-14.5M133.6 1031.2h8.4M845.5 1031.2h-7.8M133.6 1057.3h16.1M845.5 1057.3h-14.5M133.6 1083.3h8.4M845.5 1083.3h-7.8M253.4 1108.3v-14.4M371.6 1108.3v-8.4M489.8 1108.3v-14.4M608 1108.3v-8.4M726.2 1108.3v-14.4"/>
<g clip-path="url(#ca4)">
<path class="cv r" d="M134.7 890.6C136.3 890.2 137.9 889.8 139.5 889.4C141.1 889 142.7 888.7 144.3 888.3C145.9 887.9 147.5 887.6 149.1 887.2C150.7 886.9 152.3 886.5 153.9 886.2C155.5 885.9 157.2 885.5 158.8 885.2C160.4 884.9 162 884.6 163.7 884.3C165.3 883.9 166.9 883.6 168.5 883.4C170.2 883.1 171.8 882.8 173.4 882.5C175.1 882.2 176.7 882 178.3 881.7C180 881.4 181.6 881.2 183.3 880.9C184.9 880.7 186.6 880.4 188.2 880.2C189.9 880 191.5 879.8 193.2 879.6C194.8 879.3 196.5 879.1 198.1 878.9C199.8 878.7 201.4 878.5 203.1 878.4C204.8 878.2 206.4 878 208.1 877.9C209.7 877.7 211.4 877.5 213.1 877.4C214.7 877.2 216.4 877.1 218.1 877C219.7 876.8 221.4 876.7 223.1 876.6C224.7 876.5 226.4 876.4 228.1 876.3C229.7 876.2 231.4 876.1 233.1 876C234.8 876 236.4 875.9 238.1 875.8C239.8 875.8 241.4 875.7 243.1 875.7C244.8 875.6 246.5 875.6 248.1 875.6C249.8 875.5 251.5 875.5 253.2 875.5C254.8 875.5 256.5 875.5 258.2 875.5C259.9 875.5 261.5 875.6 263.2 875.6C264.9 875.6 266.6 875.7 268.2 875.7C269.9 875.8 271.6 875.8 273.2 875.9C274.9 876 276.6 876 278.3 876.1C279.9 876.2 281.6 876.3 283.3 876.4C284.9 876.5 286.6 876.6 288.3 876.8C289.9 876.9 291.6 877 293.3 877.2C294.9 877.3 296.6 877.5 298.3 877.6C299.9 877.8 301.6 878 303.2 878.1C304.9 878.3 306.6 878.5 308.2 878.7C309.9 878.9 311.5 879.2 313.2 879.4C314.8 879.6 316.5 879.8 318.1 880.1C319.8 880.3 321.4 880.6 323.1 880.9C324.7 881.1 326.4 881.4 328 881.7C329.6 882 331.3 882.3 332.9 882.6C334.5 882.9 336.2 883.2 337.8 883.5C339.4 883.9 341.1 884.2 342.7 884.5C344.3 884.9 345.9 885.3 347.6 885.6C349.2 886 350.8 886.4 352.4 886.8C354 887.2 355.6 887.6 357.2 888C358.9 888.4 360.5 888.8 362.1 889.3C363.7 889.7 365.3 890.1 366.9 890.6C368.5 891.1 370 891.5 371.6 892C373.2 892.5 374.8 893 376.4 893.5C378 894 379.5 894.5 381.1 895C382.7 895.6 384.2 896.1 385.8 896.6C387.4 897.2 388.9 897.8 390.5 898.3C392 898.9 393.6 899.5 395.1 900.1C396.7 900.7 398.2 901.3 399.8 901.9C401.3 902.5 402.8 903.2 404.4 903.8C405.9 904.4 407.4 905.1 409 905.8C410.5 906.4 412 907.1 413.5 907.8C415 908.5 416.5 909.2 418 909.9C419.5 910.6 421 911.3 422.5 912.1C424 912.8 425.5 913.5 426.9 914.3C428.4 915.1 429.9 915.8 431.4 916.6C432.8 917.4 434.3 918.2 435.7 919C437.2 919.8 438.6 920.6 440.1 921.4C441.5 922.3 442.9 923.1 444.4 924C445.8 924.8 447.2 925.7 448.6 926.5C450 927.4 451.4 928.3 452.8 929.2C454.2 930.1 455.6 931 457 931.9C458.4 932.8 459.8 933.7 461.1 934.7C462.5 935.6 463.9 936.5 465.2 937.5C466.6 938.5 467.9 939.4 469.3 940.4C470.6 941.4 471.9 942.4 473.2 943.4C474.6 944.4 475.9 945.4 477.2 946.4C478.5 947.4 479.8 948.4 481 949.5C482.3 950.5 483.6 951.6 484.9 952.6C486.1 953.7 487.4 954.7 488.7 955.8C489.9 956.9 491.1 958 492.4 959.1C493.6 960.2 494.8 961.3 496.1 962.4C497.3 963.5 498.5 964.7 499.7 965.8C500.9 966.9 502.1 968.1 503.2 969.2C504.4 970.4 505.6 971.6 506.7 972.7C507.9 973.9 509 975.1 510.2 976.3C511.3 977.5 512.5 978.7 513.6 979.9C514.7 981.1 515.8 982.3 516.9 983.5C518 984.8 519.1 986 520.2 987.3C521.3 988.5 522.3 989.8 523.4 991C524.5 992.3 525.5 993.6 526.6 994.9C527.6 996.1 528.6 997.4 529.7 998.7C530.7 1000 531.7 1001.3 532.7 1002.6C533.7 1004 534.7 1005.3 535.7 1006.6C536.7 1008 537.6 1009.3 538.6 1010.6C539.6 1012 540.5 1013.3 541.5 1014.7C542.4 1016.1 543.4 1017.4 544.3 1018.8C545.2 1020.2 546.1 1021.6 547.1 1023C548 1024.3 548.9 1025.7 549.8 1027.1C550.7 1028.5 551.5 1030 552.4 1031.4C553.3 1032.8 554.1 1034.2 555 1035.6C555.9 1037.1 556.7 1038.5 557.5 1040C558.4 1041.4 559.2 1042.8 560 1044.3C560.8 1045.7 561.7 1047.2 562.5 1048.7C563.3 1050.1 564.1 1051.6 564.8 1053.1C565.6 1054.6 566.4 1056 567.2 1057.5C567.9 1059 568.7 1060.5 569.4 1062C570.2 1063.5 570.9 1065 571.7 1066.5C572.4 1068 573.1 1069.5 573.8 1071C574.6 1072.5 575.3 1074.1 576 1075.6C576.7 1077.1 577.3 1078.6 578 1080.2C578.7 1081.7 579.4 1083.2 580 1084.8C580.7 1086.3 581.4 1087.9 582 1089.4C582.7 1090.9 583.3 1092.5 583.9 1094C584.6 1095.6 585.2 1097.2 585.8 1098.7C586.4 1100.3 587 1101.8 587.6 1103.4C588.2 1105 588.8 1106.5 589.4 1108.1C589.9 1106.6 590.5 1105 591 1103.5C591.5 1101.9 592 1100.4 592.5 1098.8C593 1097.2 593.5 1095.7 594 1094.1C594.5 1092.5 595 1090.9 595.4 1089.3C595.9 1087.8 596.4 1086.2 596.9 1084.6C597.4 1083 597.8 1081.4 598.3 1079.8C598.8 1078.2 599.2 1076.6 599.7 1075C600.2 1073.4 600.6 1071.8 601.1 1070.2C601.5 1068.5 602 1066.9 602.4 1065.3C602.9 1063.7 603.3 1062.1 603.8 1060.5C604.2 1058.9 604.7 1057.2 605.1 1055.6C605.5 1054 606 1052.4 606.4 1050.7C606.9 1049.1 607.3 1047.5 607.7 1045.9C608.2 1044.3 608.6 1042.6 609 1041C609.4 1039.4 609.9 1037.8 610.3 1036.2C610.7 1034.5 611.2 1032.9 611.6 1031.3C612 1029.7 612.4 1028.1 612.9 1026.5C613.3 1024.8 613.7 1023.2 614.1 1021.6C614.6 1020 615 1018.4 615.4 1016.8C615.9 1015.2 616.3 1013.6 616.7 1012C617.1 1010.4 617.6 1008.8 618 1007.2C618.4 1005.6 618.9 1004.1 619.3 1002.5C619.7 1000.9 620.2 999.3 620.6 997.7C621 996.2 621.5 994.6 621.9 993C622.3 991.5 622.8 989.9 623.2 988.4C623.7 986.8 624.1 985.2 624.6 983.7C625 982.1 625.5 980.6 625.9 979C626.4 977.4 626.8 975.9 627.3 974.3C627.7 972.7 628.2 971.2 628.6 969.6C629.1 968 629.6 966.4 630 964.9C630.5 963.3 631 961.7 631.4 960.1C631.9 958.5 632.4 956.9 632.9 955.3C633.4 953.7 633.8 952.1 634.3 950.4C634.8 948.8 635.3 947.2 635.8 945.5C636.3 943.9 636.8 942.2 637.3 940.6C637.8 938.9 638.3 937.2 638.9 935.6C639.4 933.9 639.9 932.3 640.5 930.6C641.1 929 641.7 927.3 642.3 925.7C642.9 924.1 643.5 922.5 644.2 920.9C644.9 919.3 645.5 917.8 646.3 916.2C647 914.7 647.8 913.2 648.6 911.7C649.4 910.3 650.2 908.8 651.1 907.4C652 906 652.9 904.7 653.9 903.3C654.8 902 655.9 900.7 656.9 899.5C658 898.3 659.1 897.2 660.3 896.1C661.5 895 662.7 894 663.9 893C665.2 892.1 666.5 891.3 667.8 890.6C669.1 889.8 670.5 889.2 671.9 888.7C673.2 888.2 674.7 887.8 676.1 887.6C677.6 887.4 679 887.3 680.5 887.3C682 887.3 683.5 887.5 685 887.7C686.6 888 688.1 888.3 689.6 888.8C691.2 889.2 692.7 889.7 694.3 890.3C695.8 890.9 697.4 891.5 698.9 892.2C700.5 892.9 702 893.6 703.5 894.3C705.1 895.1 706.6 895.8 708.1 896.6C709.6 897.4 711.1 898.2 712.6 899C714.1 899.8 715.5 900.7 717 901.5C718.5 902.3 719.9 903.2 721.4 904.1C722.9 904.9 724.3 905.8 725.8 906.7C727.2 907.6 728.7 908.5 730.1 909.4C731.6 910.3 733 911.2 734.4 912.1C735.9 913 737.3 913.9 738.8 914.8C740.2 915.7 741.6 916.6 743.1 917.4C744.5 918.3 745.9 919.2 747.4 920.1C748.8 920.9 750.3 921.8 751.7 922.6C753.2 923.5 754.6 924.3 756.1 925.1C757.5 925.9 759 926.7 760.4 927.5C761.9 928.3 763.4 929.1 764.8 929.9C766.3 930.6 767.7 931.4 769.2 932.2C770.7 932.9 772.1 933.7 773.6 934.4C775.1 935.2 776.6 935.9 778 936.6C779.5 937.4 781 938.1 782.4 938.8C783.9 939.5 785.4 940.2 786.9 941C788.3 941.7 789.8 942.4 791.3 943.1C792.8 943.8 794.3 944.6 795.7 945.3C797.2 946 798.7 946.7 800.2 947.4C801.6 948.2 803.1 948.9 804.6 949.6C806 950.3 807.5 951.1 809 951.8C810.5 952.6 811.9 953.3 813.4 954.1C814.9 954.8 816.3 955.6 817.8 956.4C819.3 957.1 820.7 957.9 822.2 958.7C823.6 959.5 825.1 960.3 826.6 961.1C828 961.9 829.5 962.7 830.9 963.6C832.4 964.4 833.8 965.3 835.2 966.1C836.7 967 838.1 967.9 839.6 968.8C841 969.7 842.4 970.6 843.8 971.5"/>
<path class="cv b" d="M134.7 889.2C136.3 888.8 137.9 888.4 139.5 888C141.1 887.7 142.7 887.3 144.3 887C145.9 886.6 147.5 886.2 149.2 885.9C150.8 885.6 152.4 885.2 154 884.9C155.6 884.6 157.2 884.2 158.9 883.9C160.5 883.6 162.1 883.3 163.8 883C165.4 882.7 167 882.4 168.7 882.1C170.3 881.8 171.9 881.5 173.6 881.3C175.2 881 176.9 880.7 178.5 880.5C180.1 880.2 181.8 879.9 183.4 879.7C185.1 879.5 186.7 879.2 188.4 879C190 878.8 191.7 878.5 193.4 878.3C195 878.1 196.7 877.9 198.3 877.7C200 877.5 201.7 877.3 203.3 877.1C205 876.9 206.7 876.8 208.3 876.6C210 876.4 211.7 876.3 213.3 876.1C215 876 216.7 875.8 218.3 875.7C220 875.6 221.7 875.4 223.4 875.3C225 875.2 226.7 875.1 228.4 875C230 874.9 231.7 874.8 233.4 874.7C235.1 874.6 236.7 874.6 238.4 874.5C240.1 874.4 241.8 874.4 243.5 874.3C245.1 874.3 246.8 874.3 248.5 874.2C250.2 874.2 251.8 874.2 253.5 874.2C255.2 874.2 256.9 874.2 258.5 874.2C260.2 874.2 261.9 874.2 263.6 874.2C265.3 874.3 266.9 874.3 268.6 874.3C270.3 874.4 272 874.5 273.6 874.5C275.3 874.6 277 874.7 278.6 874.8C280.3 874.8 282 874.9 283.7 875C285.3 875.2 287 875.3 288.7 875.4C290.3 875.5 292 875.7 293.7 875.8C295.3 876 297 876.1 298.7 876.3C300.3 876.5 302 876.6 303.6 876.8C305.3 877 307 877.2 308.6 877.4C310.3 877.7 311.9 877.9 313.6 878.1C315.2 878.3 316.9 878.6 318.5 878.8C320.2 879.1 321.8 879.4 323.4 879.7C325.1 879.9 326.7 880.2 328.4 880.5C330 880.8 331.6 881.1 333.3 881.5C334.9 881.8 336.5 882.1 338.2 882.5C339.8 882.8 341.4 883.2 343 883.5C344.7 883.9 346.3 884.3 347.9 884.7C349.5 885.1 351.1 885.5 352.7 885.9C354.3 886.3 355.9 886.8 357.5 887.2C359.1 887.6 360.7 888.1 362.3 888.6C363.9 889 365.5 889.5 367.1 890C368.7 890.5 370.3 891 371.9 891.5C373.4 892 375 892.5 376.6 893.1C378.2 893.6 379.7 894.2 381.3 894.8C382.9 895.3 384.4 895.9 386 896.5C387.5 897.1 389.1 897.7 390.6 898.3C392.2 898.9 393.7 899.6 395.2 900.2C396.8 900.8 398.3 901.5 399.8 902.2C401.4 902.8 402.9 903.5 404.4 904.2C405.9 904.9 407.4 905.6 408.9 906.4C410.4 907.1 411.9 907.8 413.4 908.6C414.9 909.3 416.4 910.1 417.9 910.9C419.4 911.6 420.9 912.4 422.3 913.2C423.8 914 425.3 914.8 426.7 915.7C428.2 916.5 429.6 917.3 431.1 918.2C432.5 919 433.9 919.9 435.4 920.8C436.8 921.7 438.2 922.6 439.6 923.5C441 924.4 442.4 925.3 443.8 926.2C445.2 927.1 446.6 928.1 447.9 929C449.3 930 450.7 930.9 452 931.9C453.4 932.9 454.7 933.9 456.1 934.9C457.4 935.9 458.7 936.9 460 937.9C461.3 938.9 462.6 940 463.9 941C465.2 942 466.5 943.1 467.8 944.2C469 945.2 470.3 946.3 471.5 947.4C472.8 948.5 474 949.6 475.2 950.7C476.4 951.8 477.7 952.9 478.9 954.1C480.1 955.2 481.2 956.4 482.4 957.5C483.6 958.7 484.8 959.8 485.9 961C487.1 962.2 488.2 963.4 489.3 964.6C490.5 965.8 491.6 967 492.7 968.2C493.8 969.4 494.9 970.7 496 971.9C497.1 973.2 498.2 974.4 499.2 975.7C500.3 976.9 501.3 978.2 502.4 979.5C503.4 980.8 504.4 982.1 505.4 983.4C506.4 984.7 507.4 986 508.4 987.3C509.4 988.6 510.4 990 511.4 991.3C512.3 992.6 513.3 994 514.2 995.3C515.1 996.7 516.1 998.1 517 999.5C517.9 1000.8 518.8 1002.2 519.7 1003.6C520.6 1005 521.5 1006.4 522.3 1007.8C523.2 1009.2 524.1 1010.7 524.9 1012.1C525.8 1013.5 526.6 1014.9 527.5 1016.4C528.3 1017.8 529.1 1019.3 529.9 1020.7C530.7 1022.2 531.5 1023.6 532.3 1025.1C533.1 1026.6 533.9 1028.1 534.7 1029.5C535.4 1031 536.2 1032.5 537 1034C537.7 1035.5 538.5 1037 539.2 1038.5C539.9 1040 540.7 1041.5 541.4 1043C542.1 1044.5 542.8 1046 543.5 1047.6C544.2 1049.1 544.9 1050.6 545.6 1052.1C546.3 1053.7 547 1055.2 547.7 1056.7C548.4 1058.3 549 1059.8 549.7 1061.3C550.4 1062.9 551 1064.4 551.7 1066C552.3 1067.5 553 1069.1 553.6 1070.6C554.3 1072.2 554.9 1073.7 555.5 1075.3C556.2 1076.9 556.8 1078.4 557.4 1080C558 1081.5 558.6 1083.1 559.3 1084.7C559.9 1086.2 560.5 1087.8 561.1 1089.3C561.7 1090.9 562.3 1092.5 562.9 1094C563.5 1095.6 564 1097.2 564.6 1098.7C565.2 1100.3 565.8 1101.9 566.4 1103.4C567 1105 567.5 1106.5 568.1 1108.1C568.7 1106.6 569.2 1105 569.7 1103.5C570.3 1101.9 570.8 1100.3 571.3 1098.8C571.8 1097.2 572.3 1095.6 572.8 1094C573.3 1092.4 573.7 1090.8 574.2 1089.2C574.7 1087.6 575.2 1086 575.6 1084.4C576.1 1082.8 576.5 1081.2 577 1079.6C577.4 1078 577.8 1076.4 578.3 1074.7C578.7 1073.1 579.1 1071.5 579.5 1069.8C579.9 1068.2 580.3 1066.6 580.7 1064.9C581.2 1063.3 581.5 1061.6 581.9 1060C582.3 1058.3 582.7 1056.7 583.1 1055C583.5 1053.4 583.8 1051.7 584.2 1050.1C584.6 1048.4 585 1046.8 585.3 1045.1C585.7 1043.5 586 1041.8 586.4 1040.1C586.8 1038.5 587.1 1036.8 587.5 1035.2C587.8 1033.5 588.2 1031.9 588.5 1030.2C588.8 1028.5 589.2 1026.9 589.5 1025.2C589.9 1023.6 590.2 1021.9 590.5 1020.3C590.9 1018.6 591.2 1017 591.6 1015.3C591.9 1013.7 592.2 1012.1 592.6 1010.4C592.9 1008.8 593.2 1007.1 593.6 1005.5C593.9 1003.9 594.2 1002.2 594.6 1000.6C594.9 999 595.2 997.4 595.6 995.8C595.9 994.1 596.3 992.5 596.6 990.9C596.9 989.3 597.3 987.7 597.6 986.1C598 984.5 598.3 982.9 598.7 981.3C599 979.8 599.4 978.2 599.8 976.6C600.1 975 600.5 973.4 600.9 971.8C601.2 970.2 601.6 968.6 602 967.1C602.4 965.5 602.8 963.9 603.2 962.3C603.6 960.7 604 959.1 604.4 957.5C604.8 955.9 605.3 954.3 605.7 952.7C606.2 951.1 606.6 949.5 607.1 947.8C607.5 946.2 608 944.6 608.5 943C609 941.3 609.4 939.7 610 938.1C610.5 936.4 611 934.7 611.5 933.1C612.1 931.4 612.6 929.7 613.2 928.1C613.7 926.4 614.3 924.7 614.9 923C615.5 921.3 616.1 919.7 616.8 918C617.4 916.3 618.1 914.7 618.8 913.1C619.5 911.4 620.2 909.8 620.9 908.3C621.7 906.7 622.5 905.1 623.3 903.6C624.1 902.1 624.9 900.6 625.8 899.1C626.6 897.7 627.6 896.3 628.5 895C629.4 893.6 630.4 892.3 631.4 891.1C632.5 889.8 633.5 888.6 634.6 887.5C635.7 886.4 636.9 885.4 638.1 884.4C639.3 883.4 640.5 882.5 641.8 881.7C643.1 880.8 644.4 880.1 645.8 879.4C647.1 878.7 648.5 878.2 650 877.7C651.4 877.2 652.9 876.7 654.3 876.4C655.8 876.1 657.3 875.9 658.9 875.8C660.4 875.6 661.9 875.6 663.5 875.7C665 875.7 666.6 875.9 668.2 876.2C669.8 876.4 671.3 876.8 672.9 877.3C674.5 877.8 676.1 878.3 677.7 879C679.3 879.6 680.9 880.3 682.4 881C684 881.8 685.6 882.6 687.2 883.4C688.8 884.2 690.3 885.1 691.9 886C693.4 886.8 695 887.7 696.5 888.6C698.1 889.4 699.6 890.3 701.1 891.1C702.6 892 704.1 892.9 705.6 893.7C707.1 894.6 708.6 895.4 710.1 896.2C711.6 897.1 713 897.9 714.5 898.8C716 899.6 717.4 900.4 718.9 901.2C720.4 902.1 721.8 902.9 723.3 903.7C724.7 904.5 726.2 905.3 727.6 906.1C729.1 907 730.5 907.8 731.9 908.6C733.4 909.4 734.8 910.2 736.3 911C737.7 911.8 739.2 912.6 740.6 913.4C742.1 914.1 743.5 914.9 745 915.7C746.4 916.5 747.9 917.3 749.4 918.1C750.8 918.8 752.3 919.6 753.8 920.4C755.3 921.2 756.7 921.9 758.2 922.7C759.7 923.5 761.2 924.2 762.6 925C764.1 925.7 765.6 926.5 767.1 927.3C768.6 928 770.1 928.8 771.6 929.5C773.1 930.3 774.6 931 776.1 931.8C777.6 932.5 779.1 933.3 780.6 934C782.1 934.8 783.6 935.5 785.1 936.3C786.6 937 788.1 937.7 789.6 938.5C791.1 939.2 792.6 940 794.1 940.7C795.6 941.4 797.1 942.2 798.6 942.9C800.1 943.7 801.7 944.4 803.2 945.1C804.7 945.9 806.2 946.6 807.7 947.3C809.2 948.1 810.7 948.8 812.2 949.5C813.7 950.3 815.3 951 816.8 951.7C818.3 952.4 819.8 953.2 821.3 953.9C822.8 954.6 824.3 955.4 825.8 956.1C827.3 956.8 828.8 957.6 830.3 958.3C831.8 959 833.4 959.8 834.9 960.5C836.4 961.2 837.9 962 839.4 962.7C840.9 963.4 842.4 964.2 843.8 964.9"/>
</g>
<text class="yt" transform="translate(127.6 854.45) scale(1 1.1)">1.0</text>
<text class="yt" transform="translate(127.6 906.55) scale(1 1.1)">0.8</text>
<text class="yt" transform="translate(127.6 958.65) scale(1 1.1)">0.6</text>
<text class="yt" transform="translate(127.6 1010.75) scale(1 1.1)">0.4</text>
<text class="yt" transform="translate(127.6 1062.85) scale(1 1.1)">0.2</text>
<text class="yt" transform="translate(127.6 1114.95) scale(1 1.1)">0.0</text>
<text class="lab" x="146.6" y="1084.3">d=30 μm</text>
</g>
<text class="xt" transform="translate(252.6 1151.6) scale(1 1.045)">0.3</text>
<text class="xt" transform="translate(489 1151.6) scale(1 1.045)">0.4</text>
<text class="xt" transform="translate(725.4 1151.6) scale(1 1.045)">0.5</text>
<text class="ttl" style="font-size:36.35px" transform="translate(489.4 1194.3) scale(1 1.035)">Frequency (THz)</text>
<text class="ttl" transform="translate(51.2 566.40) rotate(-90) scale(1 1.045)">Transmission coefficients</text>
<text class="tag" x="-0.5" y="44">(a)</text>
<path class="cv r" style="stroke-linecap:round" d="M692.5 79H774"/>
<text class="lg" x="784" y="91" font-size="48">t</text>
<text class="lg" x="802.5" y="73.5" font-size="32">f</text>
<text class="lg" x="797" y="104" font-size="32">xx</text>
<path class="cv b" style="stroke-linecap:round" d="M692.5 152.4H774"/>
<text class="lg" x="784" y="164.4" font-size="48">t</text>
<text class="lg" x="804.5" y="146.9" font-size="32">b</text>
<text class="lg" x="797" y="177.4" font-size="32">xx</text>
<path class="ax" style="stroke-linejoin:round" d="M1001.4 22.1H1713.4V1108.3H1001.4ZM1001.4 293.2H1713.4M1001.4 564.6H1713.4M1001.4 837H1713.4"/>
<g id="panel-b1">
<path class="tk" d="M1001.4 48.8h8.4M1713.4 48.8h-7.8M1001.4 76h16.1M1713.4 76h-14.5M1001.4 103.2h8.4M1713.4 103.2h-7.8M1001.4 130.4h16.1M1713.4 130.4h-14.5M1001.4 157.6h8.4M1713.4 157.6h-7.8M1001.4 184.8h16.1M1713.4 184.8h-14.5M1001.4 212h8.4M1713.4 212h-7.8M1001.4 239.2h16.1M1713.4 239.2h-14.5M1001.4 266.4h8.4M1713.4 266.4h-7.8M1120.5 293.2v-14.4M1120.5 22.1v14.4M1238.9 293.2v-8.4M1238.9 22.1v8.4M1357.2 293.2v-14.4M1357.2 22.1v14.4M1475.6 293.2v-8.4M1475.6 22.1v8.4M1594 293.2v-14.4M1594 22.1v14.4"/>
<g clip-path="url(#cb1)">
<path class="cv r" d="M1002.4 110.3C1003.9 110.8 1005.5 111.4 1007 111.9C1008.6 112.5 1010.1 113 1011.6 113.6C1013.2 114.2 1014.7 114.8 1016.2 115.4C1017.8 115.9 1019.3 116.5 1020.8 117.2C1022.4 117.8 1023.9 118.4 1025.4 119C1026.9 119.6 1028.5 120.3 1030 120.9C1031.5 121.5 1033.1 122.2 1034.6 122.8C1036.1 123.5 1037.7 124.2 1039.2 124.8C1040.7 125.5 1042.3 126.2 1043.8 126.8C1045.3 127.5 1046.8 128.2 1048.4 128.9C1049.9 129.6 1051.4 130.3 1053 131C1054.5 131.7 1056 132.4 1057.6 133.1C1059.1 133.8 1060.6 134.5 1062.2 135.2C1063.7 135.9 1065.2 136.7 1066.7 137.4C1068.3 138.1 1069.8 138.8 1071.3 139.5C1072.9 140.3 1074.4 141 1075.9 141.7C1077.5 142.4 1079 143.2 1080.5 143.9C1082.1 144.6 1083.6 145.3 1085.1 146.1C1086.7 146.8 1088.2 147.5 1089.7 148.2C1091.3 149 1092.8 149.7 1094.3 150.4C1095.9 151.1 1097.4 151.9 1099 152.6C1100.5 153.3 1102 154 1103.6 154.7C1105.1 155.5 1106.6 156.2 1108.2 156.9C1109.7 157.6 1111.3 158.3 1112.8 159C1114.3 159.7 1115.9 160.4 1117.4 161.1C1119 161.8 1120.5 162.5 1122 163.1C1123.6 163.8 1125.1 164.5 1126.7 165.2C1128.2 165.8 1129.8 166.5 1131.3 167.2C1132.9 167.8 1134.4 168.5 1136 169.1C1137.5 169.8 1139.1 170.4 1140.6 171C1142.2 171.7 1143.7 172.3 1145.3 172.9C1146.8 173.5 1148.4 174.2 1149.9 174.8C1151.5 175.4 1153 176 1154.6 176.6C1156.1 177.2 1157.7 177.7 1159.3 178.3C1160.8 178.9 1162.4 179.5 1163.9 180.1C1165.5 180.6 1167.1 181.2 1168.6 181.8C1170.2 182.3 1171.8 182.9 1173.3 183.4C1174.9 184 1176.5 184.5 1178 185C1179.6 185.6 1181.2 186.1 1182.7 186.6C1184.3 187.2 1185.9 187.7 1187.5 188.2C1189 188.7 1190.6 189.2 1192.2 189.7C1193.8 190.2 1195.4 190.7 1196.9 191.2C1198.5 191.7 1200.1 192.2 1201.7 192.6C1203.3 193.1 1204.9 193.6 1206.5 194.1C1208 194.5 1209.6 195 1211.2 195.5C1212.8 195.9 1214.4 196.4 1216 196.8C1217.6 197.3 1219.2 197.7 1220.8 198.1C1222.4 198.6 1224 199 1225.6 199.4C1227.2 199.9 1228.8 200.3 1230.4 200.7C1232 201.1 1233.6 201.5 1235.2 201.9C1236.9 202.3 1238.5 202.7 1240.1 203.1C1241.7 203.5 1243.3 203.9 1244.9 204.3C1246.5 204.7 1248.2 205.1 1249.8 205.4C1251.4 205.8 1253 206.2 1254.7 206.6C1256.3 206.9 1257.9 207.3 1259.6 207.7C1261.2 208 1262.8 208.4 1264.5 208.7C1266.1 209.1 1267.7 209.4 1269.4 209.7C1271 210.1 1272.7 210.4 1274.3 210.7C1276 211.1 1277.6 211.4 1279.3 211.7C1280.9 212 1282.6 212.3 1284.2 212.6C1285.9 213 1287.5 213.3 1289.2 213.5C1290.8 213.8 1292.5 214.1 1294.1 214.4C1295.8 214.7 1297.5 215 1299.1 215.2C1300.8 215.5 1302.4 215.8 1304.1 216C1305.8 216.3 1307.4 216.5 1309.1 216.7C1310.8 217 1312.4 217.2 1314.1 217.4C1315.8 217.7 1317.5 217.9 1319.1 218.1C1320.8 218.3 1322.5 218.5 1324.1 218.7C1325.8 218.9 1327.5 219.1 1329.2 219.2C1330.8 219.4 1332.5 219.6 1334.2 219.7C1335.9 219.9 1337.5 220 1339.2 220.2C1340.9 220.3 1342.6 220.4 1344.3 220.5C1345.9 220.6 1347.6 220.8 1349.3 220.9C1351 221 1352.7 221 1354.3 221.1C1356 221.2 1357.7 221.3 1359.4 221.3C1361.1 221.4 1362.7 221.4 1364.4 221.4C1366.1 221.5 1367.8 221.5 1369.4 221.5C1371.1 221.5 1372.8 221.5 1374.5 221.5C1376.2 221.5 1377.8 221.5 1379.5 221.4C1381.2 221.4 1382.9 221.4 1384.5 221.3C1386.2 221.2 1387.9 221.2 1389.6 221.1C1391.3 221 1392.9 220.9 1394.6 220.8C1396.3 220.7 1397.9 220.6 1399.6 220.4C1401.3 220.3 1403 220.2 1404.6 220C1406.3 219.8 1408 219.6 1409.6 219.4C1411.3 219.2 1412.9 219 1414.6 218.7C1416.2 218.5 1417.9 218.2 1419.5 217.8C1421.1 217.5 1422.7 217.1 1424.3 216.7C1425.9 216.3 1427.5 215.8 1429 215.3C1430.6 214.8 1432.1 214.2 1433.7 213.6C1435.2 212.9 1436.7 212.2 1438.1 211.5C1439.6 210.7 1441.1 209.9 1442.5 209.1C1443.9 208.2 1445.2 207.3 1446.6 206.3C1447.9 205.3 1449.2 204.3 1450.4 203.2C1451.7 202.1 1452.9 201 1454 199.8C1455.1 198.6 1456.2 197.3 1457.2 196C1458.2 194.7 1459.2 193.3 1460 191.9C1460.9 190.5 1461.7 189.1 1462.4 187.6C1463.2 186.1 1463.9 184.5 1464.5 183C1465.1 181.4 1465.7 179.8 1466.2 178.2C1466.7 176.5 1467.2 174.9 1467.7 173.2C1468.2 171.6 1468.6 169.9 1469.1 168.3C1469.5 166.6 1469.9 164.9 1470.3 163.3C1470.7 161.6 1471.1 160 1471.5 158.3C1472 156.7 1472.4 155.1 1472.8 153.6C1473.3 152 1473.7 150.4 1474.2 148.9C1474.7 147.4 1475.3 146 1475.8 144.6C1476.4 143.2 1477 141.8 1477.7 140.5C1478.4 139.2 1479.1 138 1479.9 136.9C1480.7 135.7 1481.6 134.6 1482.5 133.6C1483.4 132.6 1484.5 131.7 1485.6 130.9C1485.8 132.5 1486 134.2 1486.2 135.9C1486.4 137.5 1486.6 139.2 1486.8 140.8C1487 142.5 1487.2 144.1 1487.3 145.8C1487.5 147.4 1487.7 149 1487.9 150.7C1488 152.3 1488.2 154 1488.4 155.6C1488.5 157.2 1488.7 158.9 1488.8 160.5C1489 162.2 1489.1 163.8 1489.3 165.4C1489.4 167.1 1489.5 168.7 1489.7 170.3C1489.8 172 1490 173.6 1490.1 175.2C1490.2 176.9 1490.4 178.5 1490.5 180.1C1490.6 181.8 1490.7 183.4 1490.9 185C1491 186.7 1491.1 188.3 1491.3 189.9C1491.4 191.6 1491.5 193.2 1491.6 194.9C1491.8 196.5 1491.9 198.1 1492 199.8C1492.1 201.4 1492.3 203.1 1492.4 204.7C1492.5 206.4 1492.7 208 1492.8 209.7C1492.9 211.3 1493.1 213 1493.2 214.6C1493.3 216.3 1493.5 218 1493.6 219.6C1493.7 221.3 1493.9 223 1494 224.6C1494.2 226.3 1494.3 228 1494.5 229.6C1494.7 231.3 1494.8 233 1495 234.6C1495.2 236.3 1495.4 238 1495.6 239.6C1495.8 241.3 1496 242.9 1496.2 244.6C1496.4 246.3 1496.6 247.9 1496.9 249.6C1497.1 251.2 1497.3 252.8 1497.6 254.5C1497.9 256.1 1498.1 257.8 1498.4 259.4C1498.7 261 1499 262.6 1499.4 264.2C1499.7 265.8 1500.1 267.4 1500.5 268.9C1500.9 270.5 1501.4 272 1501.9 273.5C1502.4 274.9 1503 276.4 1503.6 277.7C1504.3 279.1 1505 280.4 1505.8 281.7C1506.6 282.9 1507.6 284.1 1508.6 285.2C1509.6 286.4 1510.7 287.4 1511.9 288.3C1513.1 287 1514.3 285.8 1515.5 284.6C1516.7 283.5 1518 282.3 1519.2 281.3C1520.5 280.2 1521.8 279.2 1523.1 278.3C1524.4 277.3 1525.8 276.4 1527.1 275.5C1528.5 274.7 1529.9 273.9 1531.3 273.1C1532.7 272.3 1534.1 271.6 1535.6 270.9C1537 270.3 1538.5 269.6 1539.9 269.1C1541.4 268.5 1542.9 267.9 1544.4 267.4C1545.9 266.9 1547.5 266.4 1549 266C1550.5 265.5 1552.1 265.1 1553.7 264.7C1555.2 264.4 1556.8 264 1558.4 263.7C1560 263.4 1561.6 263.1 1563.2 262.8C1564.8 262.6 1566.5 262.4 1568.1 262.1C1569.7 261.9 1571.4 261.7 1573 261.6C1574.7 261.4 1576.3 261.3 1578 261.1C1579.6 261 1581.3 260.9 1583 260.8C1584.6 260.7 1586.3 260.6 1588 260.5C1589.7 260.5 1591.4 260.4 1593.1 260.4C1594.7 260.3 1596.4 260.3 1598.1 260.2C1599.8 260.2 1601.5 260.2 1603.2 260.2C1604.9 260.1 1606.5 260.1 1608.2 260.1C1609.9 260.1 1611.6 260 1613.3 260C1614.9 260 1616.6 260 1618.3 260C1619.9 260 1621.6 259.9 1623.3 259.9C1624.9 259.9 1626.6 259.9 1628.3 259.9C1629.9 259.9 1631.6 259.8 1633.3 259.8C1634.9 259.8 1636.6 259.8 1638.2 259.8C1639.9 259.8 1641.5 259.7 1643.2 259.7C1644.8 259.7 1646.5 259.7 1648.2 259.7C1649.8 259.7 1651.5 259.7 1653.1 259.7C1654.8 259.7 1656.4 259.6 1658 259.6C1659.7 259.6 1661.3 259.6 1663 259.6C1664.6 259.6 1666.3 259.6 1667.9 259.6C1669.6 259.6 1671.2 259.6 1672.9 259.6C1674.5 259.6 1676.2 259.5 1677.8 259.5C1679.5 259.5 1681.1 259.5 1682.8 259.5C1684.4 259.5 1686 259.5 1687.7 259.5C1689.3 259.5 1691 259.5 1692.6 259.5C1694.3 259.5 1695.9 259.5 1697.6 259.5C1699.2 259.5 1700.9 259.5 1702.6 259.5C1704.2 259.5 1705.9 259.5 1707.5 259.5C1709.2 259.5 1710.8 259.5 1712.5 259.5"/>
<path class="cv b" d="M1002.4 130.9C1003.8 131.7 1005.3 132.6 1006.7 133.4C1008.1 134.3 1009.5 135.1 1011 136C1012.4 136.8 1013.8 137.7 1015.3 138.5C1016.7 139.3 1018.2 140.1 1019.6 141C1021 141.8 1022.5 142.6 1023.9 143.4C1025.4 144.2 1026.8 145 1028.3 145.8C1029.8 146.6 1031.2 147.4 1032.7 148.2C1034.2 149 1035.6 149.7 1037.1 150.5C1038.6 151.3 1040 152.1 1041.5 152.8C1043 153.6 1044.5 154.4 1045.9 155.1C1047.4 155.9 1048.9 156.6 1050.4 157.3C1051.9 158.1 1053.4 158.8 1054.9 159.6C1056.4 160.3 1057.9 161 1059.4 161.7C1060.9 162.4 1062.4 163.2 1063.9 163.9C1065.4 164.6 1066.9 165.3 1068.4 166C1069.9 166.7 1071.4 167.4 1072.9 168C1074.4 168.7 1076 169.4 1077.5 170.1C1079 170.8 1080.5 171.4 1082.1 172.1C1083.6 172.7 1085.1 173.4 1086.6 174C1088.2 174.7 1089.7 175.3 1091.2 176C1092.8 176.6 1094.3 177.3 1095.9 177.9C1097.4 178.5 1098.9 179.1 1100.5 179.7C1102 180.4 1103.6 181 1105.1 181.6C1106.7 182.2 1108.2 182.8 1109.8 183.4C1111.4 183.9 1112.9 184.5 1114.5 185.1C1116 185.7 1117.6 186.3 1119.2 186.8C1120.7 187.4 1122.3 188 1123.9 188.5C1125.4 189.1 1127 189.6 1128.6 190.2C1130.1 190.7 1131.7 191.2 1133.3 191.8C1134.9 192.3 1136.4 192.8 1138 193.3C1139.6 193.8 1141.2 194.4 1142.8 194.9C1144.3 195.4 1145.9 195.9 1147.5 196.4C1149.1 196.9 1150.7 197.3 1152.3 197.8C1153.9 198.3 1155.5 198.8 1157.1 199.2C1158.7 199.7 1160.3 200.2 1161.9 200.6C1163.5 201.1 1165.1 201.5 1166.7 202C1168.3 202.4 1169.9 202.9 1171.5 203.3C1173.1 203.7 1174.7 204.2 1176.3 204.6C1177.9 205 1179.5 205.4 1181.1 205.8C1182.7 206.2 1184.3 206.6 1186 207C1187.6 207.4 1189.2 207.8 1190.8 208.2C1192.4 208.6 1194 208.9 1195.7 209.3C1197.3 209.7 1198.9 210.1 1200.5 210.4C1202.1 210.8 1203.8 211.1 1205.4 211.5C1207 211.8 1208.6 212.2 1210.3 212.5C1211.9 212.9 1213.5 213.2 1215.2 213.5C1216.8 213.8 1218.4 214.2 1220.1 214.5C1221.7 214.8 1223.3 215.1 1225 215.4C1226.6 215.7 1228.2 216 1229.9 216.3C1231.5 216.6 1233.1 216.9 1234.8 217.2C1236.4 217.5 1238 217.7 1239.7 218C1241.3 218.3 1243 218.6 1244.6 218.8C1246.2 219.1 1247.9 219.3 1249.5 219.6C1251.2 219.8 1252.8 220.1 1254.5 220.3C1256.1 220.6 1257.8 220.8 1259.4 221C1261 221.3 1262.7 221.5 1264.3 221.7C1266 221.9 1267.6 222.2 1269.3 222.4C1270.9 222.6 1272.6 222.8 1274.2 223C1275.9 223.2 1277.5 223.4 1279.2 223.6C1280.8 223.8 1282.5 223.9 1284.1 224.1C1285.8 224.3 1287.4 224.5 1289.1 224.6C1290.8 224.8 1292.4 225 1294.1 225.1C1295.7 225.3 1297.4 225.5 1299 225.6C1300.7 225.8 1302.3 225.9 1304 226.1C1305.6 226.2 1307.3 226.3 1308.9 226.5C1310.6 226.6 1312.3 226.7 1313.9 226.9C1315.6 227 1317.2 227.1 1318.9 227.2C1320.5 227.3 1322.2 227.4 1323.9 227.5C1325.5 227.6 1327.2 227.7 1328.8 227.8C1330.5 227.9 1332.1 228 1333.8 228.1C1335.4 228.2 1337.1 228.2 1338.8 228.3C1340.4 228.4 1342.1 228.5 1343.7 228.5C1345.4 228.6 1347 228.6 1348.7 228.7C1350.4 228.7 1352 228.8 1353.7 228.8C1355.3 228.9 1357 228.9 1358.6 228.9C1360.3 229 1362 229 1363.6 229C1365.3 229 1366.9 229 1368.6 229C1370.2 229 1371.9 229 1373.6 229C1375.2 229 1376.9 229 1378.5 229C1380.2 229 1381.8 229 1383.5 228.9C1385.1 228.9 1386.8 228.9 1388.5 228.8C1390.1 228.8 1391.8 228.7 1393.4 228.7C1395.1 228.6 1396.7 228.5 1398.4 228.4C1400 228.3 1401.7 228.2 1403.3 228.1C1405 228 1406.6 227.9 1408.3 227.7C1410 227.6 1411.6 227.4 1413.3 227.2C1414.9 227.1 1416.6 226.9 1418.2 226.6C1419.9 226.4 1421.5 226.2 1423.2 225.9C1424.8 225.7 1426.5 225.4 1428.1 225.1C1429.8 224.8 1431.4 224.5 1433.1 224.2C1434.7 223.8 1436.4 223.5 1438 223.1C1439.6 222.7 1441.3 222.3 1442.9 221.8C1444.6 221.4 1446.2 220.9 1447.9 220.4C1449.5 219.9 1451.2 219.4 1452.8 218.8C1454.4 218.3 1456.1 217.7 1457.7 217.1C1459.4 216.5 1461 215.9 1462.6 215.2C1464.3 214.6 1465.9 213.9 1467.5 213.3C1469.1 212.7 1470.7 212 1472.3 211.4C1473.9 210.7 1475.4 210.1 1477 209.5C1478.5 208.9 1480.1 208.4 1481.6 207.9C1483.1 207.4 1484.6 207 1486.1 206.6C1487.5 206.3 1489 206 1490.4 205.9C1491.8 205.8 1493.2 205.8 1494.5 205.9C1495.9 206.1 1497.2 206.3 1498.5 206.8C1499.8 207.2 1501 207.7 1502.3 208.4C1503.5 209.1 1504.7 210 1505.8 210.9C1507 211.9 1508.1 213 1509.2 214.2C1510.3 215.4 1511.3 216.7 1512.3 218.1C1513.3 219.4 1514.3 220.9 1515.2 222.3C1516.1 223.8 1517 225.3 1517.9 226.8C1518.7 228.3 1519.5 229.9 1520.3 231.4C1521.1 232.9 1521.9 234.5 1522.6 236.1C1523.3 237.6 1524 239.2 1524.7 240.8C1525.4 242.3 1526.1 243.9 1526.7 245.5C1527.4 247.1 1528.1 248.6 1528.7 250.2C1529.4 251.8 1530 253.3 1530.7 254.9C1531.3 256.4 1532 258 1532.6 259.5C1533.3 261.1 1534 262.6 1534.7 264.1C1535.4 265.6 1536.1 267.1 1536.9 268.6C1537.6 270 1538.4 271.5 1539.2 272.9C1540 274.4 1540.8 275.8 1541.7 277.1C1542.6 278.5 1543.5 279.9 1544.4 281.2C1545.4 282.5 1546.4 283.8 1547.5 285C1548.5 286.3 1549.6 287.5 1550.8 288.7C1552 289.9 1553.2 291 1554.5 292.1C1555.9 291 1557.2 289.9 1558.6 288.9C1559.9 287.8 1561.3 286.8 1562.7 285.8C1564.1 284.9 1565.5 283.9 1566.9 283C1568.3 282.1 1569.7 281.2 1571.2 280.4C1572.6 279.6 1574.1 278.8 1575.5 278C1577 277.2 1578.5 276.5 1580 275.8C1581.5 275.1 1583 274.4 1584.5 273.7C1586 273.1 1587.5 272.5 1589 271.9C1590.6 271.3 1592.1 270.7 1593.7 270.1C1595.2 269.6 1596.8 269.1 1598.4 268.6C1599.9 268.1 1601.5 267.6 1603.1 267.1C1604.7 266.7 1606.3 266.2 1607.9 265.8C1609.5 265.4 1611.1 265 1612.8 264.6C1614.4 264.3 1616 263.9 1617.6 263.6C1619.3 263.2 1620.9 262.9 1622.6 262.6C1624.2 262.3 1625.9 262 1627.5 261.7C1629.2 261.4 1630.8 261.1 1632.5 260.9C1634.1 260.6 1635.8 260.4 1637.5 260.1C1639.2 259.9 1640.8 259.7 1642.5 259.4C1644.2 259.2 1645.9 259 1647.5 258.8C1649.2 258.6 1650.9 258.4 1652.6 258.2C1654.3 258 1656 257.8 1657.6 257.6C1659.3 257.5 1661 257.3 1662.7 257.1C1664.4 256.9 1666.1 256.8 1667.8 256.6C1669.4 256.4 1671.1 256.2 1672.8 256C1674.5 255.9 1676.2 255.7 1677.9 255.5C1679.5 255.3 1681.2 255.1 1682.9 255C1684.5 254.8 1686.2 254.6 1687.9 254.4C1689.5 254.2 1691.2 254 1692.9 253.8C1694.5 253.5 1696.2 253.3 1697.8 253.1C1699.5 252.9 1701.1 252.6 1702.8 252.4C1704.4 252.1 1706 251.9 1707.6 251.6C1709.3 251.3 1710.9 251 1712.5 250.7"/>
</g>
<text class="yt" transform="translate(995.4 27.15) scale(1 1.1)">1.0</text>
<text class="yt" transform="translate(995.4 81.55) scale(1 1.1)">0.8</text>
<text class="yt" transform="translate(995.4 135.95) scale(1 1.1)">0.6</text>
<text class="yt" transform="translate(995.4 190.35) scale(1 1.1)">0.4</text>
<text class="yt" transform="translate(995.4 244.75) scale(1 1.1)">0.2</text>
<text class="yt" transform="translate(995.4 299.15) scale(1 1.1)">0.0</text>
<text class="lab" x="1018.5" y="266.4">L=230 μm</text>
</g>
<g id="panel-b2">
<path class="tk" d="M1001.4 318.1h16.1M1713.4 318.1h-14.5M1001.4 342.9h8.4M1713.4 342.9h-7.8M1001.4 367.6h16.1M1713.4 367.6h-14.5M1001.4 392.4h8.4M1713.4 392.4h-7.8M1001.4 417.1h16.1M1713.4 417.1h-14.5M1001.4 441.9h8.4M1713.4 441.9h-7.8M1001.4 466.6h16.1M1713.4 466.6h-14.5M1001.4 491.4h8.4M1713.4 491.4h-7.8M1001.4 516.1h16.1M1713.4 516.1h-14.5M1001.4 540.9h8.4M1713.4 540.9h-7.8M1120.5 564.6v-14.4M1238.9 564.6v-8.4M1357.2 564.6v-14.4M1475.6 564.6v-8.4M1594 564.6v-14.4"/>
<g clip-path="url(#cb2)">
<path class="cv r" d="M1002.1 354.8C1003.7 355.1 1005.3 355.5 1006.9 355.8C1008.5 356.2 1010.1 356.6 1011.7 357C1013.3 357.3 1014.9 357.8 1016.5 358.2C1018.1 358.6 1019.7 359 1021.2 359.5C1022.8 360 1024.4 360.4 1026 360.9C1027.6 361.4 1029.1 361.9 1030.7 362.4C1032.3 362.9 1033.9 363.5 1035.4 364C1037 364.5 1038.6 365.1 1040.1 365.7C1041.7 366.2 1043.3 366.8 1044.8 367.4C1046.4 368 1047.9 368.6 1049.5 369.2C1051 369.8 1052.6 370.4 1054.2 371.1C1055.7 371.7 1057.3 372.3 1058.8 373C1060.4 373.6 1061.9 374.3 1063.4 374.9C1065 375.6 1066.5 376.3 1068.1 377C1069.6 377.6 1071.2 378.3 1072.7 379C1074.2 379.7 1075.8 380.4 1077.3 381.1C1078.9 381.8 1080.4 382.5 1081.9 383.2C1083.5 384 1085 384.7 1086.5 385.4C1088.1 386.1 1089.6 386.8 1091.1 387.6C1092.7 388.3 1094.2 389 1095.7 389.8C1097.2 390.5 1098.8 391.2 1100.3 392C1101.8 392.7 1103.4 393.4 1104.9 394.2C1106.4 394.9 1107.9 395.6 1109.5 396.4C1111 397.1 1112.5 397.8 1114 398.6C1115.6 399.3 1117.1 400 1118.6 400.8C1120.1 401.5 1121.7 402.2 1123.2 403C1124.7 403.7 1126.2 404.4 1127.8 405.1C1129.3 405.8 1130.8 406.5 1132.3 407.3C1133.9 408 1135.4 408.7 1136.9 409.4C1138.4 410.1 1140 410.8 1141.5 411.4C1143 412.1 1144.5 412.8 1146.1 413.5C1147.6 414.1 1149.1 414.8 1150.6 415.5C1152.2 416.1 1153.7 416.8 1155.2 417.4C1156.8 418.1 1158.3 418.7 1159.8 419.4C1161.3 420 1162.9 420.6 1164.4 421.3C1165.9 421.9 1167.5 422.5 1169 423.1C1170.5 423.7 1172.1 424.3 1173.6 424.9C1175.2 425.5 1176.7 426.1 1178.2 426.7C1179.8 427.3 1181.3 427.9 1182.9 428.5C1184.4 429.1 1186 429.6 1187.5 430.2C1189 430.8 1190.6 431.3 1192.1 431.9C1193.7 432.5 1195.2 433 1196.8 433.6C1198.4 434.1 1199.9 434.6 1201.5 435.2C1203 435.7 1204.6 436.3 1206.1 436.8C1207.7 437.3 1209.3 437.8 1210.8 438.3C1212.4 438.9 1214 439.4 1215.5 439.9C1217.1 440.4 1218.7 440.9 1220.2 441.4C1221.8 441.9 1223.4 442.4 1225 442.9C1226.6 443.3 1228.1 443.8 1229.7 444.3C1231.3 444.8 1232.9 445.2 1234.5 445.7C1236.1 446.2 1237.7 446.6 1239.3 447.1C1240.9 447.5 1242.5 448 1244.1 448.4C1245.7 448.9 1247.3 449.3 1248.9 449.8C1250.5 450.2 1252.1 450.6 1253.7 451.1C1255.3 451.5 1257 451.9 1258.6 452.4C1260.2 452.8 1261.8 453.2 1263.4 453.6C1265.1 454 1266.7 454.4 1268.3 454.8C1270 455.2 1271.6 455.6 1273.3 456C1274.9 456.4 1276.6 456.8 1278.2 457.2C1279.9 457.6 1281.5 457.9 1283.2 458.3C1284.8 458.7 1286.5 459.1 1288.1 459.4C1289.8 459.8 1291.5 460.2 1293.1 460.5C1294.8 460.9 1296.5 461.2 1298.1 461.6C1299.8 461.9 1301.5 462.2 1303.1 462.6C1304.8 462.9 1306.5 463.2 1308.2 463.6C1309.8 463.9 1311.5 464.2 1313.2 464.5C1314.9 464.8 1316.5 465.1 1318.2 465.4C1319.9 465.7 1321.6 466 1323.2 466.3C1324.9 466.6 1326.6 466.9 1328.3 467.1C1329.9 467.4 1331.6 467.7 1333.3 467.9C1335 468.2 1336.6 468.5 1338.3 468.7C1340 469 1341.6 469.2 1343.3 469.4C1345 469.7 1346.7 469.9 1348.3 470.1C1350 470.3 1351.6 470.5 1353.3 470.7C1355 470.9 1356.6 471.1 1358.3 471.3C1359.9 471.5 1361.6 471.6 1363.2 471.8C1364.9 471.9 1366.5 472 1368.2 472.1C1369.8 472.2 1371.5 472.3 1373.1 472.4C1374.7 472.4 1376.4 472.5 1378 472.5C1379.6 472.5 1381.3 472.4 1382.9 472.4C1384.5 472.3 1386.1 472.3 1387.7 472.1C1389.3 472 1390.9 471.9 1392.5 471.7C1394.1 471.5 1395.7 471.2 1397.3 471C1398.9 470.7 1400.5 470.4 1402.1 470C1403.6 469.7 1405.2 469.2 1406.8 468.8C1408.3 468.3 1409.9 467.8 1411.4 467.3C1413 466.7 1414.5 466.1 1416.1 465.5C1417.6 464.8 1419.1 464.1 1420.7 463.3C1422.2 462.6 1423.7 461.7 1425.1 460.9C1426.6 460 1428.1 459.1 1429.5 458.1C1430.9 457.2 1432.2 456.2 1433.6 455.1C1434.9 454.1 1436.2 453 1437.4 451.8C1438.7 450.7 1439.8 449.5 1441 448.3C1442.1 447.1 1443.1 445.8 1444.1 444.5C1445.1 443.2 1446 441.9 1446.9 440.6C1447.7 439.2 1448.5 437.8 1449.2 436.4C1449.9 435 1450.6 433.6 1451.2 432.1C1451.9 430.6 1452.5 429.1 1453 427.6C1453.5 426.1 1454 424.5 1454.5 423C1455 421.4 1455.4 419.8 1455.8 418.2C1456.2 416.6 1456.6 415 1457 413.3C1457.3 411.7 1457.7 410.1 1458 408.4C1458.3 406.7 1458.7 405.1 1459 403.4C1459.3 401.7 1459.6 400 1459.9 398.3C1460.2 396.6 1460.4 394.9 1460.7 393.2C1461 391.5 1461.3 389.8 1461.5 388C1461.8 386.3 1462.1 384.6 1462.3 382.9C1462.6 381.2 1462.9 379.5 1463.1 377.8C1463.4 376.1 1463.7 374.4 1464 372.7C1464.3 371 1464.6 369.3 1464.9 367.6C1465.2 366 1465.5 364.3 1465.8 362.7C1466.1 361 1466.5 359.4 1466.8 357.7C1467.2 356.1 1467.5 354.5 1467.9 352.9C1468.3 351.4 1468.7 349.8 1469.1 348.3C1469.6 346.7 1470 345.2 1470.5 343.7C1470.7 345.3 1470.9 347 1471.1 348.6C1471.3 350.2 1471.5 351.9 1471.7 353.5C1471.9 355.1 1472 356.8 1472.2 358.4C1472.4 360 1472.5 361.7 1472.7 363.3C1472.8 365 1473 366.6 1473.1 368.2C1473.3 369.9 1473.4 371.5 1473.5 373.2C1473.7 374.8 1473.8 376.5 1473.9 378.1C1474 379.8 1474.1 381.4 1474.2 383.1C1474.4 384.7 1474.5 386.4 1474.6 388C1474.7 389.7 1474.8 391.3 1474.9 393C1475 394.6 1475.1 396.3 1475.1 397.9C1475.2 399.6 1475.3 401.2 1475.4 402.9C1475.5 404.6 1475.6 406.2 1475.7 407.9C1475.7 409.5 1475.8 411.2 1475.9 412.8C1476 414.5 1476 416.2 1476.1 417.8C1476.2 419.5 1476.3 421.1 1476.3 422.8C1476.4 424.5 1476.5 426.1 1476.6 427.8C1476.6 429.4 1476.7 431.1 1476.8 432.8C1476.9 434.4 1476.9 436.1 1477 437.7C1477.1 439.4 1477.2 441.1 1477.2 442.7C1477.3 444.4 1477.4 446.1 1477.5 447.7C1477.6 449.4 1477.7 451 1477.7 452.7C1477.8 454.4 1477.9 456 1478 457.7C1478.1 459.3 1478.2 461 1478.3 462.6C1478.4 464.3 1478.5 466 1478.6 467.6C1478.7 469.3 1478.8 470.9 1478.9 472.6C1479 474.2 1479.2 475.9 1479.3 477.5C1479.4 479.2 1479.5 480.9 1479.7 482.5C1479.8 484.2 1479.9 485.8 1480.1 487.5C1480.2 489.1 1480.4 490.8 1480.6 492.4C1480.7 494.1 1480.9 495.7 1481 497.4C1481.2 499 1481.4 500.6 1481.6 502.3C1481.8 503.9 1482 505.6 1482.2 507.2C1482.4 508.9 1482.6 510.5 1482.8 512.1C1483 513.8 1483.2 515.4 1483.5 517C1483.7 518.7 1483.9 520.3 1484.2 521.9C1484.4 523.6 1484.7 525.2 1485 526.8C1485.2 528.5 1485.5 530.1 1485.8 531.7C1486.1 533.3 1486.4 535 1486.7 536.6C1487 538.2 1487.4 539.8 1487.7 541.4C1488 543.1 1488.4 544.7 1488.7 546.3C1489.1 547.9 1489.5 549.5 1489.8 551.1C1490.2 552.7 1490.6 554.3 1491 555.9C1491.4 557.5 1491.8 559.1 1492.3 560.7C1493 559 1493.7 557.4 1494.6 555.8C1495.4 554.2 1496.2 552.7 1497.1 551.2C1498.1 549.7 1499 548.3 1500 547C1501 545.7 1502.1 544.4 1503.2 543.2C1504.2 542 1505.4 540.8 1506.5 539.7C1507.7 538.6 1508.9 537.5 1510.2 536.5C1511.4 535.5 1512.7 534.6 1514 533.7C1515.3 532.8 1516.6 532 1518 531.2C1519.4 530.4 1520.8 529.6 1522.2 528.9C1523.6 528.2 1525.1 527.5 1526.6 526.9C1528 526.3 1529.5 525.7 1531.1 525.1C1532.6 524.6 1534.1 524.1 1535.7 523.6C1537.2 523.1 1538.8 522.7 1540.4 522.3C1542 521.9 1543.6 521.5 1545.2 521.1C1546.8 520.8 1548.4 520.5 1550.1 520.2C1551.7 519.9 1553.3 519.6 1555 519.4C1556.7 519.2 1558.3 519 1560 518.8C1561.7 518.6 1563.4 518.4 1565 518.3C1566.7 518.1 1568.4 518 1570.1 517.9C1571.8 517.7 1573.5 517.6 1575.2 517.5C1576.9 517.5 1578.7 517.4 1580.4 517.3C1582.1 517.2 1583.8 517.2 1585.5 517.1C1587.2 517.1 1588.9 517.1 1590.6 517C1592.3 517 1594 516.9 1595.7 516.9C1597.4 516.9 1599.1 516.9 1600.8 516.8C1602.5 516.8 1604.2 516.8 1605.9 516.8C1607.6 516.7 1609.3 516.7 1611 516.7C1612.7 516.7 1614.4 516.7 1616.1 516.7C1617.7 516.7 1619.4 516.6 1621.1 516.6C1622.8 516.6 1624.5 516.6 1626.1 516.6C1627.8 516.6 1629.5 516.6 1631.1 516.6C1632.8 516.6 1634.5 516.6 1636.2 516.6C1637.8 516.6 1639.5 516.6 1641.2 516.6C1642.8 516.6 1644.5 516.6 1646.2 516.6C1647.8 516.6 1649.5 516.6 1651.2 516.6C1652.8 516.6 1654.5 516.6 1656.2 516.6C1657.8 516.6 1659.5 516.6 1661.1 516.5C1662.8 516.5 1664.5 516.5 1666.1 516.5C1667.8 516.5 1669.5 516.5 1671.1 516.5C1672.8 516.5 1674.4 516.5 1676.1 516.5C1677.8 516.4 1679.4 516.4 1681.1 516.4C1682.8 516.4 1684.4 516.4 1686.1 516.3C1687.8 516.3 1689.4 516.3 1691.1 516.3C1692.8 516.2 1694.4 516.2 1696.1 516.2C1697.8 516.1 1699.5 516.1 1701.1 516.1C1702.8 516 1704.5 516 1706.2 515.9C1707.8 515.9 1709.5 515.8 1711.2 515.8"/>
<path class="cv b" d="M1002.1 376.1C1003.5 377 1005 377.8 1006.4 378.7C1007.9 379.5 1009.3 380.4 1010.8 381.2C1012.2 382.1 1013.7 382.9 1015.1 383.8C1016.6 384.6 1018 385.4 1019.5 386.2C1021 387.1 1022.4 387.9 1023.9 388.7C1025.3 389.5 1026.8 390.3 1028.3 391.1C1029.7 392 1031.2 392.8 1032.7 393.6C1034.1 394.3 1035.6 395.1 1037.1 395.9C1038.6 396.7 1040 397.5 1041.5 398.3C1043 399.1 1044.5 399.8 1046 400.6C1047.4 401.4 1048.9 402.1 1050.4 402.9C1051.9 403.7 1053.4 404.4 1054.9 405.2C1056.4 405.9 1057.9 406.7 1059.4 407.4C1060.9 408.1 1062.4 408.9 1063.9 409.6C1065.3 410.3 1066.9 411.1 1068.4 411.8C1069.9 412.5 1071.4 413.2 1072.9 413.9C1074.4 414.7 1075.9 415.4 1077.4 416.1C1078.9 416.8 1080.4 417.5 1081.9 418.2C1083.5 418.9 1085 419.5 1086.5 420.2C1088 420.9 1089.5 421.6 1091.1 422.3C1092.6 422.9 1094.1 423.6 1095.6 424.3C1097.2 424.9 1098.7 425.6 1100.2 426.2C1101.8 426.9 1103.3 427.5 1104.8 428.2C1106.4 428.8 1107.9 429.5 1109.4 430.1C1111 430.7 1112.5 431.4 1114.1 432C1115.6 432.6 1117.2 433.2 1118.7 433.8C1120.3 434.4 1121.8 435.1 1123.4 435.7C1124.9 436.3 1126.5 436.9 1128 437.5C1129.6 438 1131.1 438.6 1132.7 439.2C1134.3 439.8 1135.8 440.4 1137.4 440.9C1139 441.5 1140.5 442.1 1142.1 442.6C1143.7 443.2 1145.2 443.8 1146.8 444.3C1148.4 444.9 1150 445.4 1151.5 446C1153.1 446.5 1154.7 447 1156.3 447.6C1157.8 448.1 1159.4 448.6 1161 449.1C1162.6 449.7 1164.2 450.2 1165.8 450.7C1167.4 451.2 1169 451.7 1170.5 452.2C1172.1 452.7 1173.7 453.2 1175.3 453.7C1176.9 454.2 1178.5 454.6 1180.1 455.1C1181.7 455.6 1183.3 456.1 1184.9 456.5C1186.5 457 1188.2 457.5 1189.8 457.9C1191.4 458.4 1193 458.8 1194.6 459.3C1196.2 459.7 1197.8 460.2 1199.4 460.6C1201.1 461 1202.7 461.4 1204.3 461.9C1205.9 462.3 1207.5 462.7 1209.2 463.1C1210.8 463.5 1212.4 463.9 1214 464.3C1215.7 464.7 1217.3 465.1 1218.9 465.5C1220.6 465.9 1222.2 466.3 1223.8 466.7C1225.5 467.1 1227.1 467.4 1228.8 467.8C1230.4 468.2 1232.1 468.5 1233.7 468.9C1235.3 469.2 1237 469.6 1238.6 469.9C1240.3 470.3 1241.9 470.6 1243.6 471C1245.2 471.3 1246.9 471.6 1248.6 471.9C1250.2 472.3 1251.9 472.6 1253.5 472.9C1255.2 473.2 1256.8 473.5 1258.5 473.8C1260.2 474.1 1261.8 474.4 1263.5 474.7C1265.2 475 1266.8 475.2 1268.5 475.5C1270.1 475.8 1271.8 476 1273.5 476.3C1275.1 476.6 1276.8 476.8 1278.5 477.1C1280.2 477.3 1281.8 477.5 1283.5 477.8C1285.2 478 1286.8 478.2 1288.5 478.5C1290.2 478.7 1291.8 478.9 1293.5 479.1C1295.2 479.3 1296.9 479.5 1298.5 479.7C1300.2 479.9 1301.9 480.1 1303.5 480.2C1305.2 480.4 1306.9 480.6 1308.5 480.8C1310.2 480.9 1311.9 481.1 1313.5 481.2C1315.2 481.4 1316.9 481.5 1318.6 481.6C1320.2 481.8 1321.9 481.9 1323.6 482C1325.2 482.1 1326.9 482.3 1328.5 482.4C1330.2 482.5 1331.9 482.6 1333.5 482.6C1335.2 482.7 1336.9 482.8 1338.5 482.9C1340.2 483 1341.8 483 1343.5 483.1C1345.1 483.1 1346.8 483.2 1348.5 483.2C1350.1 483.3 1351.8 483.3 1353.4 483.3C1355.1 483.3 1356.7 483.4 1358.4 483.4C1360 483.4 1361.6 483.4 1363.3 483.4C1364.9 483.3 1366.6 483.3 1368.2 483.3C1369.8 483.2 1371.5 483.2 1373.1 483.1C1374.7 483.1 1376.4 483 1378 482.9C1379.6 482.8 1381.3 482.7 1382.9 482.6C1384.5 482.4 1386.1 482.3 1387.7 482.1C1389.4 481.9 1391 481.7 1392.6 481.5C1394.2 481.3 1395.8 481 1397.4 480.8C1399 480.5 1400.6 480.2 1402.2 479.9C1403.8 479.6 1405.4 479.2 1407 478.9C1408.6 478.5 1410.2 478.1 1411.8 477.7C1413.3 477.2 1414.9 476.8 1416.5 476.3C1418.1 475.8 1419.7 475.3 1421.2 474.8C1422.8 474.3 1424.4 473.7 1425.9 473.1C1427.5 472.6 1429 472 1430.6 471.3C1432.1 470.7 1433.7 470.1 1435.2 469.4C1436.8 468.7 1438.3 468 1439.9 467.3C1441.4 466.6 1442.9 465.9 1444.4 465.2C1446 464.4 1447.5 463.7 1449 462.9C1450.5 462.1 1452 461.4 1453.5 460.6C1455 459.8 1456.5 459 1458 458.2C1459.5 457.4 1461 456.6 1462.5 455.8C1464 454.9 1465.5 454.1 1466.9 453.3C1468.4 452.5 1469.9 451.6 1471.3 450.8C1472.8 450 1474.3 449.1 1475.7 448.3C1476.9 449.5 1478 450.7 1479 451.9C1480.1 453.2 1481.1 454.4 1482 455.7C1482.9 457 1483.8 458.4 1484.6 459.8C1485.4 461.1 1486.1 462.5 1486.9 463.9C1487.6 465.4 1488.2 466.8 1488.9 468.3C1489.5 469.8 1490.1 471.2 1490.6 472.8C1491.2 474.3 1491.7 475.8 1492.2 477.4C1492.7 478.9 1493.2 480.5 1493.6 482.1C1494 483.6 1494.5 485.2 1494.9 486.8C1495.3 488.4 1495.7 490.1 1496 491.7C1496.4 493.3 1496.8 494.9 1497.2 496.6C1497.5 498.2 1497.9 499.8 1498.3 501.5C1498.6 503.1 1499 504.8 1499.4 506.4C1499.8 508.1 1500.2 509.7 1500.5 511.3C1500.9 513 1501.4 514.6 1501.8 516.2C1502.2 517.9 1502.6 519.5 1503.1 521.1C1503.5 522.7 1504 524.3 1504.5 525.9C1505 527.5 1505.5 529.1 1506 530.7C1506.6 532.3 1507.1 533.8 1507.7 535.4C1508.3 536.9 1508.9 538.5 1509.6 540C1510.2 541.5 1510.9 543 1511.6 544.5C1512.3 546 1513 547.5 1513.8 548.9C1514.6 550.4 1515.4 551.8 1516.2 553.2C1517.1 554.7 1518 556 1518.9 557.4C1519.9 558.8 1520.8 560.1 1521.9 561.4C1523.1 560.2 1524.3 559 1525.6 557.8C1526.8 556.6 1528.1 555.4 1529.4 554.3C1530.6 553.2 1531.9 552.2 1533.3 551.1C1534.6 550.1 1535.9 549.1 1537.3 548.1C1538.6 547.2 1540 546.3 1541.4 545.4C1542.8 544.5 1544.2 543.6 1545.6 542.8C1547 542 1548.4 541.2 1549.9 540.4C1551.3 539.6 1552.8 538.9 1554.2 538.2C1555.7 537.5 1557.2 536.8 1558.7 536.2C1560.2 535.5 1561.7 534.9 1563.2 534.3C1564.7 533.7 1566.2 533.1 1567.8 532.5C1569.3 532 1570.9 531.5 1572.4 530.9C1574 530.4 1575.6 530 1577.1 529.5C1578.7 529 1580.3 528.6 1581.9 528.1C1583.5 527.7 1585.1 527.3 1586.7 526.9C1588.3 526.5 1589.9 526.1 1591.6 525.8C1593.2 525.4 1594.8 525.1 1596.5 524.7C1598.1 524.4 1599.7 524.1 1601.4 523.8C1603 523.4 1604.7 523.1 1606.4 522.9C1608 522.6 1609.7 522.3 1611.3 522C1613 521.7 1614.7 521.5 1616.3 521.2C1618 521 1619.7 520.7 1621.4 520.5C1623 520.2 1624.7 520 1626.4 519.8C1628.1 519.5 1629.8 519.3 1631.4 519.1C1633.1 518.9 1634.8 518.6 1636.5 518.4C1638.2 518.2 1639.9 518 1641.6 517.8C1643.2 517.6 1644.9 517.4 1646.6 517.2C1648.3 517 1650 516.8 1651.7 516.6C1653.4 516.4 1655 516.2 1656.7 516C1658.4 515.8 1660.1 515.6 1661.8 515.4C1663.5 515.2 1665.1 515 1666.8 514.8C1668.5 514.6 1670.2 514.4 1671.8 514.2C1673.5 514 1675.2 513.8 1676.8 513.6C1678.5 513.4 1680.2 513.2 1681.8 513C1683.5 512.8 1685.1 512.5 1686.8 512.3C1688.4 512.1 1690.1 511.9 1691.7 511.7C1693.4 511.4 1695 511.2 1696.7 511C1698.3 510.7 1699.9 510.5 1701.5 510.2C1703.2 510 1704.8 509.7 1706.4 509.5C1708 509.2 1709.6 508.9 1711.2 508.7"/>
</g>
<text class="yt" transform="translate(995.4 323.65) scale(1 1.1)">1.0</text>
<text class="yt" transform="translate(995.4 373.15) scale(1 1.1)">0.8</text>
<text class="yt" transform="translate(995.4 422.65) scale(1 1.1)">0.6</text>
<text class="yt" transform="translate(995.4 472.15) scale(1 1.1)">0.4</text>
<text class="yt" transform="translate(995.4 521.65) scale(1 1.1)">0.2</text>
<text class="yt" transform="translate(995.4 571.15) scale(1 1.1)">0.0</text>
<text class="lab" x="1016.5" y="541.6">L=210 μm</text>
</g>
<g id="panel-b3">
<path class="tk" d="M1001.4 590.1h16.1M1713.4 590.1h-14.5M1001.4 614.9h8.4M1713.4 614.9h-7.8M1001.4 639.6h16.1M1713.4 639.6h-14.5M1001.4 664.4h8.4M1713.4 664.4h-7.8M1001.4 689.1h16.1M1713.4 689.1h-14.5M1001.4 713.9h8.4M1713.4 713.9h-7.8M1001.4 738.6h16.1M1713.4 738.6h-14.5M1001.4 763.4h8.4M1713.4 763.4h-7.8M1001.4 788.1h16.1M1713.4 788.1h-14.5M1001.4 812.9h8.4M1713.4 812.9h-7.8M1120.5 837v-14.4M1238.9 837v-8.4M1357.2 837v-14.4M1475.6 837v-8.4M1594 837v-14.4"/>
<g clip-path="url(#cb3)">
<path class="cv r" d="M1002.1 615.5C1003.8 615.5 1005.4 615.7 1007.1 615.8C1008.8 615.9 1010.4 616.1 1012.1 616.2C1013.8 616.4 1015.4 616.6 1017.1 616.8C1018.7 617 1020.3 617.2 1022 617.4C1023.6 617.7 1025.3 617.9 1026.9 618.2C1028.5 618.5 1030.2 618.8 1031.8 619.1C1033.4 619.4 1035 619.7 1036.7 620C1038.3 620.4 1039.9 620.7 1041.5 621.1C1043.1 621.4 1044.7 621.8 1046.3 622.2C1047.9 622.6 1049.5 623 1051.1 623.4C1052.7 623.9 1054.3 624.3 1055.9 624.7C1057.5 625.2 1059.1 625.6 1060.7 626.1C1062.3 626.6 1063.9 627.1 1065.4 627.5C1067 628 1068.6 628.5 1070.2 629.1C1071.8 629.6 1073.3 630.1 1074.9 630.6C1076.5 631.2 1078 631.7 1079.6 632.3C1081.2 632.8 1082.7 633.4 1084.3 633.9C1085.9 634.5 1087.4 635.1 1089 635.7C1090.5 636.2 1092.1 636.8 1093.7 637.4C1095.2 638 1096.8 638.6 1098.3 639.2C1099.9 639.9 1101.4 640.5 1103 641.1C1104.5 641.7 1106 642.3 1107.6 643C1109.1 643.6 1110.7 644.2 1112.2 644.9C1113.8 645.5 1115.3 646.2 1116.8 646.8C1118.4 647.5 1119.9 648.1 1121.5 648.8C1123 649.4 1124.5 650.1 1126.1 650.7C1127.6 651.4 1129.1 652 1130.7 652.7C1132.2 653.4 1133.7 654 1135.3 654.7C1136.8 655.3 1138.3 656 1139.8 656.7C1141.4 657.3 1142.9 658 1144.4 658.6C1146 659.3 1147.5 660 1149 660.6C1150.5 661.3 1152.1 661.9 1153.6 662.6C1155.1 663.2 1156.6 663.9 1158.2 664.5C1159.7 665.2 1161.2 665.8 1162.8 666.5C1164.3 667.1 1165.8 667.8 1167.3 668.4C1168.9 669 1170.4 669.7 1171.9 670.3C1173.4 670.9 1175 671.6 1176.5 672.2C1178 672.8 1179.6 673.5 1181.1 674.1C1182.6 674.7 1184.1 675.4 1185.7 676C1187.2 676.6 1188.7 677.2 1190.3 677.8C1191.8 678.4 1193.3 679.1 1194.9 679.7C1196.4 680.3 1197.9 680.9 1199.5 681.5C1201 682.1 1202.6 682.7 1204.1 683.3C1205.6 683.9 1207.2 684.5 1208.7 685.1C1210.3 685.7 1211.8 686.3 1213.3 686.8C1214.9 687.4 1216.4 688 1218 688.6C1219.5 689.2 1221.1 689.7 1222.6 690.3C1224.2 690.9 1225.7 691.4 1227.3 692C1228.8 692.6 1230.4 693.1 1232 693.7C1233.5 694.2 1235.1 694.8 1236.6 695.3C1238.2 695.9 1239.8 696.4 1241.3 697C1242.9 697.5 1244.5 698 1246 698.6C1247.6 699.1 1249.2 699.6 1250.8 700.1C1252.3 700.7 1253.9 701.2 1255.5 701.7C1257.1 702.2 1258.7 702.7 1260.3 703.2C1261.8 703.7 1263.4 704.2 1265 704.7C1266.6 705.2 1268.2 705.7 1269.8 706.2C1271.4 706.6 1273 707.1 1274.6 707.6C1276.2 708.1 1277.9 708.5 1279.5 709C1281.1 709.4 1282.7 709.9 1284.3 710.4C1285.9 710.8 1287.6 711.3 1289.2 711.7C1290.8 712.1 1292.4 712.6 1294.1 713C1295.7 713.4 1297.3 713.8 1299 714.2C1300.6 714.6 1302.3 715 1303.9 715.4C1305.5 715.8 1307.2 716.2 1308.8 716.6C1310.5 716.9 1312.1 717.3 1313.8 717.6C1315.4 718 1317.1 718.3 1318.7 718.6C1320.4 718.9 1322 719.2 1323.7 719.5C1325.4 719.8 1327 720 1328.7 720.3C1330.3 720.5 1332 720.8 1333.6 721C1335.3 721.2 1337 721.4 1338.6 721.6C1340.3 721.8 1341.9 722 1343.6 722.1C1345.2 722.3 1346.9 722.4 1348.5 722.6C1350.2 722.7 1351.9 722.9 1353.5 723C1355.2 723.1 1356.8 723.2 1358.5 723.4C1360.1 723.5 1361.8 723.6 1363.4 723.7C1365.1 723.8 1366.7 723.9 1368.3 724C1370 724.1 1371.6 724.1 1373.3 724.2C1374.9 724.3 1376.5 724.3 1378.2 724.3C1379.8 724.4 1381.4 724.4 1383 724.4C1384.7 724.4 1386.3 724.4 1387.9 724.3C1389.5 724.3 1391.1 724.2 1392.7 724.1C1394.3 724 1396 723.8 1397.6 723.7C1399.2 723.5 1400.8 723.3 1402.3 723.1C1403.9 722.9 1405.5 722.6 1407.1 722.3C1408.7 722 1410.3 721.7 1411.8 721.3C1413.4 720.9 1415 720.5 1416.5 720C1418.1 719.6 1419.6 719.1 1421.2 718.5C1422.7 718 1424.3 717.3 1425.8 716.7C1427.4 716 1428.9 715.3 1430.4 714.5C1431.9 713.8 1433.4 712.9 1434.9 712.1C1436.4 711.2 1437.9 710.3 1439.3 709.3C1440.7 708.3 1442.1 707.3 1443.5 706.3C1444.8 705.2 1446.1 704.1 1447.3 702.9C1448.6 701.8 1449.8 700.6 1450.9 699.3C1452 698.1 1453.1 696.8 1454 695.5C1455 694.2 1455.9 692.8 1456.7 691.4C1457.5 690 1458.2 688.6 1458.7 687.1C1459.3 685.7 1459.8 684.2 1460.2 682.7C1460.7 681.1 1461 679.6 1461.3 678C1461.6 676.4 1461.8 674.9 1462.1 673.2C1462.3 671.6 1462.5 670 1462.7 668.3C1462.9 666.7 1463.1 665 1463.4 663.4C1463.6 661.7 1463.9 660 1464.2 658.3C1464.4 656.6 1464.7 655 1465 653.3C1465.3 651.6 1465.5 649.9 1465.8 648.2C1466.1 646.5 1466.4 644.8 1466.8 643.2C1467.1 641.5 1467.4 639.8 1467.7 638.1C1468 636.4 1468.3 634.8 1468.7 633.1C1469 631.4 1469.3 629.7 1469.6 628.1C1470 626.4 1470.3 624.7 1470.6 623.1C1471 621.4 1471.3 619.8 1471.6 618.1C1472 616.5 1472.3 614.8 1472.6 613.2C1472.9 611.5 1473.3 609.9 1473.6 608.3C1473.9 606.6 1474.2 605 1474.5 603.4C1474.9 601.8 1475.2 600.1 1475.5 598.5C1475.8 596.9 1476.1 595.3 1476.4 593.7C1476.7 592.1 1477 590.5 1477.3 588.9C1477.5 587.4 1477.8 585.8 1478.1 584.2C1478.3 585.9 1478.4 587.6 1478.6 589.2C1478.8 590.9 1478.9 592.6 1479.1 594.2C1479.3 595.9 1479.4 597.6 1479.6 599.2C1479.7 600.9 1479.9 602.6 1480 604.3C1480.2 605.9 1480.3 607.6 1480.5 609.3C1480.6 610.9 1480.8 612.6 1480.9 614.3C1481 616 1481.2 617.6 1481.3 619.3C1481.4 621 1481.6 622.7 1481.7 624.3C1481.8 626 1481.9 627.7 1482 629.4C1482.2 631 1482.3 632.7 1482.4 634.4C1482.5 636.1 1482.6 637.7 1482.7 639.4C1482.8 641.1 1482.9 642.8 1483.1 644.4C1483.2 646.1 1483.3 647.8 1483.4 649.5C1483.5 651.1 1483.6 652.8 1483.7 654.5C1483.8 656.2 1483.9 657.8 1484 659.5C1484.1 661.2 1484.2 662.9 1484.3 664.5C1484.4 666.2 1484.4 667.9 1484.5 669.6C1484.6 671.3 1484.7 672.9 1484.8 674.6C1484.9 676.3 1485 678 1485.1 679.6C1485.2 681.3 1485.3 683 1485.4 684.7C1485.5 686.4 1485.5 688 1485.6 689.7C1485.7 691.4 1485.8 693.1 1485.9 694.7C1486 696.4 1486.1 698.1 1486.2 699.8C1486.3 701.5 1486.4 703.1 1486.5 704.8C1486.6 706.5 1486.6 708.2 1486.7 709.8C1486.8 711.5 1486.9 713.2 1487 714.9C1487.1 716.5 1487.2 718.2 1487.3 719.9C1487.4 721.6 1487.5 723.3 1487.6 724.9C1487.7 726.6 1487.8 728.3 1487.9 730C1488 731.6 1488.2 733.3 1488.3 735C1488.4 736.7 1488.5 738.3 1488.6 740C1488.7 741.7 1488.8 743.4 1488.9 745C1489.1 746.7 1489.2 748.4 1489.3 750.1C1489.4 751.7 1489.6 753.4 1489.7 755.1C1489.8 756.8 1489.9 758.4 1490.1 760.1C1490.2 761.8 1490.4 763.5 1490.5 765.1C1490.6 766.8 1490.8 768.5 1490.9 770.1C1491.1 771.8 1491.2 773.5 1491.4 775.2C1491.5 776.8 1491.7 778.5 1491.9 780.2C1492 781.8 1492.2 783.5 1492.4 785.2C1492.5 786.8 1492.7 788.5 1492.9 790.2C1493.1 791.9 1493.2 793.5 1493.4 795.2C1493.6 796.9 1493.8 798.5 1494 800.2C1494.2 801.9 1494.4 803.5 1494.6 805.2C1494.8 806.9 1495 808.5 1495.2 810.2C1495.5 811.8 1495.7 813.5 1495.9 815.2C1496.1 816.8 1496.4 818.5 1496.6 820.2C1496.8 821.8 1497.1 823.5 1497.3 825.1C1497.6 826.8 1497.8 828.5 1498.1 830.1C1498.4 831.8 1498.6 833.4 1498.9 835.1C1499.1 833.4 1499.4 831.7 1499.7 830C1500.1 828.3 1500.5 826.6 1500.9 824.9C1501.4 823.3 1501.9 821.6 1502.5 820C1503.1 818.4 1503.7 816.8 1504.4 815.3C1505 813.8 1505.8 812.3 1506.6 810.8C1507.3 809.3 1508.2 807.9 1509.1 806.5C1510 805.1 1510.9 803.8 1511.9 802.5C1512.8 801.2 1513.9 799.9 1514.9 798.7C1516 797.5 1517.1 796.4 1518.2 795.3C1519.4 794.2 1520.6 793.1 1521.8 792.1C1523 791.1 1524.3 790.2 1525.5 789.3C1526.8 788.4 1528.2 787.5 1529.5 786.7C1530.9 786 1532.3 785.2 1533.7 784.5C1535.1 783.9 1536.5 783.2 1538 782.6C1539.5 782.1 1541 781.5 1542.5 781C1544 780.5 1545.5 780.1 1547.1 779.7C1548.7 779.3 1550.2 778.9 1551.8 778.6C1553.4 778.2 1555 777.9 1556.7 777.7C1558.3 777.4 1560 777.2 1561.6 777C1563.3 776.7 1564.9 776.6 1566.6 776.4C1568.3 776.2 1570 776.1 1571.7 776C1573.4 775.8 1575.1 775.7 1576.8 775.6C1578.5 775.5 1580.2 775.4 1581.9 775.4C1583.6 775.3 1585.3 775.2 1587 775.2C1588.7 775.1 1590.4 775 1592.1 775C1593.8 774.9 1595.5 774.9 1597.2 774.8C1598.9 774.7 1600.6 774.7 1602.3 774.6C1603.9 774.5 1605.6 774.5 1607.3 774.4C1609 774.3 1610.6 774.3 1612.3 774.2C1614 774.1 1615.6 774.1 1617.3 774C1618.9 773.9 1620.6 773.9 1622.2 773.8C1623.9 773.7 1625.5 773.7 1627.2 773.6C1628.8 773.5 1630.5 773.5 1632.1 773.4C1633.8 773.3 1635.4 773.3 1637.1 773.2C1638.7 773.1 1640.3 773.1 1642 773C1643.6 773 1645.2 772.9 1646.9 772.8C1648.5 772.8 1650.1 772.7 1651.8 772.7C1653.4 772.6 1655 772.6 1656.7 772.5C1658.3 772.4 1659.9 772.4 1661.6 772.4C1663.2 772.3 1664.9 772.3 1666.5 772.2C1668.1 772.2 1669.8 772.1 1671.4 772.1C1673 772.1 1674.7 772 1676.3 772C1678 772 1679.6 771.9 1681.3 771.9C1682.9 771.9 1684.5 771.9 1686.2 771.8C1687.9 771.8 1689.5 771.8 1691.2 771.8C1692.8 771.8 1694.5 771.8 1696.1 771.8C1697.8 771.8 1699.5 771.8 1701.1 771.8C1702.8 771.8 1704.5 771.8 1706.2 771.8C1707.8 771.9 1709.5 771.9 1711.2 771.9"/>
<path class="cv b" d="M1002.1 607.2C1003.6 607.8 1005.1 608.4 1006.6 609C1008.1 609.6 1009.5 610.3 1011 610.9C1012.5 611.6 1014 612.2 1015.5 612.9C1017 613.6 1018.5 614.2 1019.9 614.9C1021.4 615.6 1022.9 616.3 1024.4 617C1025.9 617.7 1027.4 618.4 1028.9 619.2C1030.3 619.9 1031.8 620.6 1033.3 621.3C1034.8 622.1 1036.3 622.8 1037.8 623.6C1039.2 624.3 1040.7 625.1 1042.2 625.8C1043.7 626.6 1045.2 627.4 1046.7 628.1C1048.1 628.9 1049.6 629.7 1051.1 630.5C1052.6 631.2 1054.1 632 1055.6 632.8C1057 633.6 1058.5 634.4 1060 635.2C1061.5 636 1063 636.8 1064.5 637.6C1065.9 638.4 1067.4 639.2 1068.9 640C1070.4 640.8 1071.9 641.6 1073.4 642.4C1074.9 643.2 1076.4 644 1077.8 644.8C1079.3 645.6 1080.8 646.4 1082.3 647.2C1083.8 648 1085.3 648.8 1086.8 649.6C1088.3 650.4 1089.8 651.2 1091.2 652C1092.7 652.8 1094.2 653.6 1095.7 654.4C1097.2 655.2 1098.7 656 1100.2 656.8C1101.7 657.6 1103.2 658.4 1104.7 659.1C1106.2 659.9 1107.7 660.7 1109.2 661.5C1110.7 662.2 1112.2 663 1113.7 663.8C1115.2 664.5 1116.7 665.3 1118.2 666C1119.7 666.8 1121.2 667.5 1122.7 668.2C1124.2 669 1125.7 669.7 1127.2 670.4C1128.7 671.1 1130.2 671.8 1131.7 672.5C1133.3 673.2 1134.8 673.9 1136.3 674.6C1137.8 675.3 1139.3 676 1140.8 676.7C1142.3 677.4 1143.9 678 1145.4 678.7C1146.9 679.3 1148.4 680 1149.9 680.6C1151.5 681.3 1153 681.9 1154.5 682.6C1156 683.2 1157.6 683.8 1159.1 684.5C1160.6 685.1 1162.2 685.7 1163.7 686.3C1165.2 686.9 1166.8 687.5 1168.3 688.1C1169.8 688.7 1171.4 689.3 1172.9 689.9C1174.4 690.5 1176 691 1177.5 691.6C1179.1 692.2 1180.6 692.8 1182.2 693.3C1183.7 693.9 1185.3 694.4 1186.8 695C1188.4 695.5 1189.9 696 1191.5 696.6C1193 697.1 1194.6 697.6 1196.2 698.2C1197.7 698.7 1199.3 699.2 1200.9 699.7C1202.4 700.2 1204 700.7 1205.6 701.2C1207.1 701.7 1208.7 702.2 1210.3 702.7C1211.9 703.2 1213.4 703.6 1215 704.1C1216.6 704.6 1218.2 705.1 1219.8 705.5C1221.3 706 1222.9 706.4 1224.5 706.9C1226.1 707.3 1227.7 707.8 1229.3 708.2C1230.9 708.6 1232.5 709.1 1234.1 709.5C1235.7 709.9 1237.3 710.4 1238.9 710.8C1240.5 711.2 1242.1 711.6 1243.8 712C1245.4 712.4 1247 712.8 1248.6 713.2C1250.2 713.6 1251.9 714 1253.5 714.3C1255.1 714.7 1256.7 715.1 1258.4 715.5C1260 715.8 1261.6 716.2 1263.3 716.5C1264.9 716.9 1266.5 717.2 1268.2 717.6C1269.8 717.9 1271.4 718.3 1273.1 718.6C1274.7 718.9 1276.4 719.2 1278 719.5C1279.7 719.9 1281.3 720.2 1283 720.5C1284.6 720.7 1286.3 721 1287.9 721.3C1289.6 721.6 1291.2 721.9 1292.9 722.1C1294.6 722.4 1296.2 722.7 1297.9 722.9C1299.5 723.2 1301.2 723.4 1302.9 723.6C1304.5 723.9 1306.2 724.1 1307.8 724.3C1309.5 724.5 1311.2 724.7 1312.8 724.9C1314.5 725.1 1316.2 725.3 1317.8 725.5C1319.5 725.6 1321.2 725.8 1322.9 726C1324.5 726.1 1326.2 726.3 1327.9 726.4C1329.5 726.6 1331.2 726.7 1332.9 726.8C1334.6 726.9 1336.2 727 1337.9 727.1C1339.6 727.2 1341.2 727.3 1342.9 727.4C1344.6 727.5 1346.3 727.5 1347.9 727.6C1349.6 727.7 1351.3 727.7 1353 727.7C1354.6 727.8 1356.3 727.8 1358 727.8C1359.7 727.8 1361.3 727.8 1363 727.8C1364.7 727.8 1366.3 727.8 1368 727.8C1369.7 727.7 1371.4 727.7 1373 727.6C1374.7 727.6 1376.4 727.5 1378 727.4C1379.7 727.3 1381.3 727.2 1383 727C1384.7 726.9 1386.3 726.7 1388 726.6C1389.6 726.4 1391.2 726.2 1392.9 725.9C1394.5 725.7 1396.1 725.4 1397.7 725.1C1399.4 724.8 1401 724.5 1402.6 724.2C1404.2 723.8 1405.8 723.4 1407.3 723C1408.9 722.6 1410.5 722.1 1412 721.6C1413.6 721.1 1415.1 720.6 1416.7 720C1418.2 719.5 1419.7 718.9 1421.2 718.2C1422.7 717.6 1424.2 716.9 1425.7 716.2C1427.1 715.5 1428.6 714.8 1430 714C1431.5 713.3 1432.9 712.5 1434.3 711.6C1435.7 710.8 1437.1 709.9 1438.5 709.1C1439.9 708.2 1441.3 707.3 1442.7 706.3C1444 705.4 1445.4 704.5 1446.7 703.5C1448.1 702.5 1449.4 701.5 1450.7 700.5C1452.1 699.5 1453.4 698.5 1454.7 697.5C1456 696.5 1457.3 695.4 1458.6 694.4C1459.9 693.4 1461.2 692.3 1462.5 691.3C1463.8 690.2 1465.1 689.2 1466.4 688.1C1467.7 687.1 1469 686.1 1470.3 685C1471.6 684 1472.9 682.9 1474.2 681.9C1475.5 680.9 1476.8 679.9 1478.1 678.9C1479.1 680.3 1480.1 681.7 1481 683.1C1481.9 684.5 1482.7 685.9 1483.5 687.4C1484.3 688.8 1485 690.3 1485.7 691.7C1486.4 693.2 1487.1 694.7 1487.7 696.2C1488.3 697.7 1488.8 699.2 1489.4 700.7C1489.9 702.3 1490.4 703.8 1490.8 705.4C1491.3 706.9 1491.7 708.5 1492.1 710.1C1492.5 711.6 1492.9 713.2 1493.3 714.8C1493.7 716.4 1494 718 1494.3 719.6C1494.7 721.3 1495 722.9 1495.3 724.5C1495.6 726.1 1495.9 727.8 1496.1 729.4C1496.4 731.1 1496.7 732.7 1497 734.4C1497.2 736 1497.5 737.7 1497.7 739.4C1498 741 1498.2 742.7 1498.5 744.4C1498.7 746 1499 747.7 1499.2 749.4C1499.5 751.1 1499.7 752.8 1500 754.4C1500.2 756.1 1500.4 757.8 1500.7 759.5C1501 761.2 1501.2 762.9 1501.5 764.5C1501.8 766.2 1502 767.9 1502.3 769.6C1502.6 771.3 1502.9 772.9 1503.2 774.6C1503.5 776.3 1503.8 777.9 1504.1 779.6C1504.5 781.3 1504.8 782.9 1505.2 784.6C1505.5 786.2 1505.9 787.9 1506.3 789.5C1506.7 791.2 1507.1 792.8 1507.5 794.4C1507.9 796.1 1508.3 797.7 1508.8 799.3C1509.2 800.9 1509.7 802.5 1510.2 804.1C1510.7 805.7 1511.2 807.3 1511.8 808.9C1512.3 810.5 1512.9 812 1513.5 813.6C1514.1 815.1 1514.7 816.7 1515.3 818.2C1516 819.7 1516.6 821.2 1517.3 822.7C1518 824.2 1518.7 825.7 1519.5 827.2C1520.3 828.7 1521 830.1 1521.9 831.6C1522.8 830.3 1523.8 829 1524.9 827.7C1525.9 826.4 1526.9 825.1 1528 823.8C1529.1 822.5 1530.2 821.3 1531.3 820C1532.4 818.8 1533.5 817.5 1534.7 816.3C1535.8 815.1 1537 813.9 1538.2 812.8C1539.4 811.6 1540.6 810.5 1541.8 809.3C1543 808.2 1544.3 807.1 1545.6 806.1C1546.8 805 1548.1 804 1549.4 803C1550.8 802 1552.1 801 1553.4 800.1C1554.8 799.1 1556.2 798.2 1557.5 797.4C1558.9 796.5 1560.3 795.7 1561.8 794.9C1563.2 794.1 1564.6 793.3 1566.1 792.6C1567.5 791.9 1569 791.2 1570.5 790.6C1572 789.9 1573.5 789.3 1575 788.7C1576.6 788.1 1578.1 787.5 1579.6 787C1581.2 786.4 1582.7 785.9 1584.3 785.4C1585.9 785 1587.4 784.5 1589 784C1590.6 783.6 1592.2 783.1 1593.8 782.7C1595.4 782.3 1597 781.9 1598.6 781.5C1600.2 781.1 1601.8 780.8 1603.5 780.4C1605.1 780 1606.7 779.7 1608.3 779.3C1610 779 1611.6 778.6 1613.2 778.3C1614.9 778 1616.5 777.6 1618.1 777.3C1619.8 777 1621.4 776.6 1623 776.3C1624.7 776 1626.3 775.7 1627.9 775.4C1629.6 775.1 1631.2 774.8 1632.8 774.5C1634.5 774.2 1636.1 773.9 1637.8 773.6C1639.4 773.3 1641 773 1642.7 772.7C1644.3 772.4 1646 772.1 1647.6 771.8C1649.3 771.5 1650.9 771.2 1652.5 771C1654.2 770.7 1655.8 770.4 1657.5 770.1C1659.1 769.8 1660.7 769.5 1662.4 769.2C1664 769 1665.7 768.7 1667.3 768.4C1668.9 768.1 1670.6 767.8 1672.2 767.5C1673.9 767.2 1675.5 767 1677.1 766.7C1678.8 766.4 1680.4 766.1 1682 765.8C1683.7 765.5 1685.3 765.2 1686.9 764.9C1688.6 764.6 1690.2 764.3 1691.8 764C1693.4 763.7 1695.1 763.4 1696.7 763C1698.3 762.7 1699.9 762.4 1701.5 762.1C1703.2 761.8 1704.8 761.4 1706.4 761.1C1708 760.8 1709.6 760.4 1711.2 760.1"/>
</g>
<text class="yt" transform="translate(995.4 595.65) scale(1 1.1)">1.0</text>
<text class="yt" transform="translate(995.4 645.15) scale(1 1.1)">0.8</text>
<text class="yt" transform="translate(995.4 694.65) scale(1 1.1)">0.6</text>
<text class="yt" transform="translate(995.4 744.15) scale(1 1.1)">0.4</text>
<text class="yt" transform="translate(995.4 793.65) scale(1 1.1)">0.2</text>
<text class="yt" transform="translate(995.4 843.15) scale(1 1.1)">0.0</text>
<text class="lab" x="1021.5" y="810.4">L=190 μm</text>
</g>
<g id="panel-b4">
<path class="tk" d="M1001.4 860.8h16.1M1713.4 860.8h-14.5M1001.4 885.5h8.4M1713.4 885.5h-7.8M1001.4 910.3h16.1M1713.4 910.3h-14.5M1001.4 935h8.4M1713.4 935h-7.8M1001.4 959.8h16.1M1713.4 959.8h-14.5M1001.4 984.5h8.4M1713.4 984.5h-7.8M1001.4 1009.3h16.1M1713.4 1009.3h-14.5M1001.4 1034h8.4M1713.4 1034h-7.8M1001.4 1058.8h16.1M1713.4 1058.8h-14.5M1001.4 1083.5h8.4M1713.4 1083.5h-7.8M1120.5 1108.3v-14.4M1238.9 1108.3v-8.4M1357.2 1108.3v-14.4M1475.6 1108.3v-8.4M1594 1108.3v-14.4"/>
<g clip-path="url(#cb4)">
<path class="cv r" d="M1002.1 873.8C1003.8 873.7 1005.5 873.6 1007.2 873.5C1009 873.5 1010.7 873.4 1012.4 873.4C1014.1 873.4 1015.8 873.4 1017.5 873.4C1019.1 873.5 1020.8 873.5 1022.5 873.6C1024.2 873.7 1025.9 873.8 1027.5 873.9C1029.2 874 1030.9 874.2 1032.5 874.3C1034.2 874.5 1035.9 874.6 1037.5 874.8C1039.2 875 1040.8 875.3 1042.5 875.5C1044.1 875.7 1045.8 876 1047.4 876.2C1049.1 876.5 1050.7 876.8 1052.3 877.1C1054 877.4 1055.6 877.7 1057.2 878.1C1058.8 878.4 1060.5 878.8 1062.1 879.1C1063.7 879.5 1065.3 879.9 1066.9 880.3C1068.5 880.7 1070.1 881.1 1071.7 881.5C1073.4 881.9 1075 882.3 1076.6 882.8C1078.2 883.2 1079.7 883.7 1081.3 884.2C1082.9 884.6 1084.5 885.1 1086.1 885.6C1087.7 886.1 1089.3 886.6 1090.9 887.1C1092.5 887.7 1094 888.2 1095.6 888.7C1097.2 889.2 1098.8 889.8 1100.3 890.3C1101.9 890.9 1103.5 891.5 1105.1 892C1106.6 892.6 1108.2 893.2 1109.8 893.7C1111.3 894.3 1112.9 894.9 1114.4 895.5C1116 896.1 1117.6 896.7 1119.1 897.3C1120.7 897.9 1122.2 898.5 1123.8 899.1C1125.4 899.7 1126.9 900.4 1128.5 901C1130 901.6 1131.6 902.2 1133.1 902.8C1134.7 903.5 1136.2 904.1 1137.8 904.7C1139.3 905.4 1140.8 906 1142.4 906.6C1143.9 907.3 1145.5 907.9 1147 908.5C1148.6 909.2 1150.1 909.8 1151.7 910.4C1153.2 911.1 1154.7 911.7 1156.3 912.3C1157.8 913 1159.4 913.6 1160.9 914.2C1162.5 914.9 1164 915.5 1165.5 916.1C1167.1 916.8 1168.6 917.4 1170.2 918C1171.7 918.7 1173.2 919.3 1174.8 919.9C1176.3 920.6 1177.9 921.2 1179.4 921.8C1180.9 922.4 1182.5 923.1 1184 923.7C1185.6 924.3 1187.1 924.9 1188.6 925.6C1190.2 926.2 1191.7 926.8 1193.3 927.4C1194.8 928 1196.4 928.7 1197.9 929.3C1199.5 929.9 1201 930.5 1202.6 931.1C1204.1 931.7 1205.7 932.3 1207.2 932.9C1208.8 933.5 1210.3 934.1 1211.9 934.7C1213.4 935.3 1215 935.9 1216.5 936.5C1218.1 937.1 1219.6 937.7 1221.2 938.3C1222.7 938.9 1224.3 939.4 1225.9 940C1227.4 940.6 1229 941.2 1230.6 941.7C1232.1 942.3 1233.7 942.9 1235.3 943.4C1236.8 944 1238.4 944.6 1240 945.1C1241.5 945.7 1243.1 946.2 1244.7 946.8C1246.3 947.3 1247.9 947.8 1249.4 948.4C1251 948.9 1252.6 949.4 1254.2 950C1255.8 950.5 1257.4 951 1259 951.5C1260.6 952 1262.2 952.5 1263.8 953C1265.4 953.6 1267 954.1 1268.6 954.5C1270.2 955 1271.8 955.5 1273.4 956C1275 956.5 1276.6 957 1278.2 957.4C1279.9 957.9 1281.5 958.4 1283.1 958.8C1284.7 959.3 1286.4 959.7 1288 960.2C1289.6 960.6 1291.3 961 1292.9 961.5C1294.5 961.9 1296.2 962.3 1297.8 962.7C1299.5 963.1 1301.1 963.6 1302.8 964C1304.4 964.4 1306.1 964.7 1307.7 965.1C1309.4 965.5 1311 965.9 1312.7 966.3C1314.3 966.7 1316 967 1317.7 967.4C1319.3 967.7 1321 968.1 1322.6 968.4C1324.3 968.8 1326 969.1 1327.6 969.5C1329.3 969.8 1331 970.1 1332.6 970.4C1334.3 970.7 1335.9 971.1 1337.6 971.4C1339.3 971.7 1340.9 971.9 1342.6 972.2C1344.3 972.5 1345.9 972.8 1347.6 973.1C1349.3 973.3 1350.9 973.6 1352.6 973.9C1354.3 974.1 1355.9 974.4 1357.6 974.6C1359.2 974.8 1360.9 975.1 1362.6 975.3C1364.2 975.5 1365.9 975.7 1367.5 975.9C1369.2 976.1 1370.9 976.3 1372.5 976.5C1374.2 976.7 1375.8 976.8 1377.5 977C1379.1 977.1 1380.8 977.2 1382.4 977.3C1384 977.4 1385.7 977.5 1387.3 977.6C1389 977.6 1390.6 977.6 1392.2 977.6C1393.9 977.7 1395.5 977.6 1397.1 977.6C1398.8 977.5 1400.4 977.5 1402 977.3C1403.6 977.2 1405.2 977.1 1406.8 976.9C1408.5 976.8 1410.1 976.6 1411.7 976.3C1413.3 976.1 1414.9 975.8 1416.5 975.5C1418.1 975.1 1419.7 974.8 1421.2 974.4C1422.8 974 1424.4 973.6 1426 973.1C1427.6 972.6 1429.1 972.1 1430.7 971.5C1432.3 970.9 1433.8 970.3 1435.3 969.6C1436.9 969 1438.4 968.3 1439.9 967.5C1441.4 966.8 1442.9 966 1444.3 965.2C1445.8 964.4 1447.2 963.5 1448.6 962.6C1450 961.7 1451.4 960.8 1452.8 959.8C1454.1 958.8 1455.4 957.8 1456.7 956.8C1457.9 955.7 1459.1 954.7 1460.3 953.5C1461.5 952.4 1462.7 951.3 1463.8 950.1C1464.9 948.9 1465.9 947.7 1466.9 946.4C1468 945.2 1468.9 943.9 1469.9 942.6C1470.8 941.2 1471.7 939.9 1472.6 938.5C1473.4 937.1 1474.2 935.7 1475 934.3C1475.8 932.9 1476.5 931.4 1477.2 929.9C1477.9 928.4 1478.5 926.9 1479.1 925.3C1479.8 923.8 1480.3 922.2 1480.9 920.6C1481.4 919 1481.9 917.4 1482.4 915.8C1482.8 914.2 1483.3 912.5 1483.7 910.9C1484.1 909.2 1484.5 907.5 1484.8 905.8C1485.2 904.2 1485.5 902.5 1485.9 900.8C1486.2 899.1 1486.5 897.4 1486.8 895.7C1487.1 894 1487.4 892.3 1487.6 890.5C1487.9 888.8 1488.2 887.1 1488.4 885.4C1488.7 883.7 1488.9 882 1489.1 880.4C1489.4 878.7 1489.6 877 1489.9 875.3C1490.1 873.7 1490.4 872 1490.6 870.4C1490.9 868.7 1491.2 867.1 1491.4 865.5C1491.7 863.9 1492 862.3 1492.3 860.8C1492.9 862.3 1493.6 863.9 1494.1 865.5C1494.7 867.1 1495.2 868.7 1495.7 870.3C1496.2 871.9 1496.6 873.5 1497 875.1C1497.4 876.7 1497.8 878.3 1498.1 879.9C1498.4 881.5 1498.7 883.1 1499 884.7C1499.2 886.4 1499.5 888 1499.7 889.6C1499.9 891.2 1500.1 892.9 1500.2 894.5C1500.4 896.1 1500.5 897.7 1500.6 899.4C1500.8 901 1500.9 902.6 1501 904.3C1501 905.9 1501.1 907.6 1501.2 909.2C1501.2 910.9 1501.3 912.5 1501.4 914.1C1501.4 915.8 1501.5 917.4 1501.5 919.1C1501.5 920.7 1501.6 922.4 1501.6 924.1C1501.7 925.7 1501.7 927.4 1501.8 929C1501.8 930.7 1501.9 932.4 1502 934C1502 935.7 1502.1 937.3 1502.1 939C1502.2 940.7 1502.2 942.3 1502.3 944C1502.4 945.7 1502.4 947.3 1502.5 949C1502.6 950.7 1502.6 952.4 1502.7 954C1502.8 955.7 1502.8 957.4 1502.9 959C1503 960.7 1503.1 962.4 1503.1 964.1C1503.2 965.7 1503.3 967.4 1503.4 969.1C1503.5 970.8 1503.5 972.4 1503.6 974.1C1503.7 975.8 1503.8 977.5 1503.9 979.2C1504 980.8 1504.1 982.5 1504.1 984.2C1504.2 985.9 1504.3 987.5 1504.4 989.2C1504.5 990.9 1504.6 992.6 1504.7 994.2C1504.8 995.9 1504.9 997.6 1505 999.3C1505.1 1000.9 1505.2 1002.6 1505.3 1004.3C1505.4 1005.9 1505.5 1007.6 1505.6 1009.3C1505.7 1011 1505.9 1012.6 1506 1014.3C1506.1 1016 1506.2 1017.6 1506.3 1019.3C1506.5 1021 1506.6 1022.6 1506.7 1024.3C1506.8 1025.9 1507 1027.6 1507.1 1029.3C1507.2 1030.9 1507.4 1032.6 1507.5 1034.2C1507.7 1035.9 1507.8 1037.5 1508 1039.2C1508.1 1040.8 1508.3 1042.5 1508.4 1044.1C1508.6 1045.8 1508.7 1047.4 1508.9 1049.1C1509.1 1050.7 1509.3 1052.4 1509.4 1054C1509.6 1055.6 1509.8 1057.3 1510 1058.9C1510.2 1060.5 1510.4 1062.2 1510.6 1063.8C1510.9 1065.4 1511.1 1067 1511.4 1068.7C1511.6 1070.3 1511.9 1071.9 1512.2 1073.5C1512.5 1075.1 1512.8 1076.7 1513.2 1078.3C1513.5 1080 1513.9 1081.6 1514.3 1083.2C1514.7 1084.8 1515.1 1086.4 1515.6 1088C1516 1089.5 1516.5 1091.1 1517.1 1092.7C1517.6 1094.3 1518.2 1095.9 1518.8 1097.5C1519.4 1099 1520 1100.6 1520.7 1102.2C1520.9 1100.5 1521.2 1098.9 1521.6 1097.2C1521.9 1095.6 1522.3 1093.9 1522.8 1092.3C1523.3 1090.6 1523.8 1089 1524.3 1087.4C1524.9 1085.7 1525.5 1084.1 1526.2 1082.6C1526.8 1081 1527.5 1079.4 1528.3 1077.9C1529 1076.3 1529.8 1074.8 1530.7 1073.4C1531.5 1071.9 1532.4 1070.5 1533.3 1069C1534.3 1067.6 1535.2 1066.3 1536.3 1065C1537.3 1063.6 1538.3 1062.4 1539.4 1061.1C1540.5 1059.9 1541.6 1058.7 1542.8 1057.5C1544 1056.4 1545.2 1055.3 1546.4 1054.3C1547.6 1053.2 1548.9 1052.3 1550.2 1051.3C1551.5 1050.4 1552.9 1049.5 1554.2 1048.7C1555.6 1047.9 1557 1047.1 1558.4 1046.3C1559.8 1045.6 1561.3 1044.9 1562.7 1044.3C1564.2 1043.6 1565.7 1043 1567.2 1042.4C1568.7 1041.9 1570.3 1041.3 1571.8 1040.8C1573.4 1040.3 1575 1039.9 1576.5 1039.4C1578.1 1039 1579.7 1038.6 1581.3 1038.2C1583 1037.9 1584.6 1037.5 1586.2 1037.2C1587.9 1036.9 1589.5 1036.6 1591.1 1036.3C1592.8 1036 1594.5 1035.7 1596.1 1035.5C1597.8 1035.2 1599.4 1035 1601.1 1034.8C1602.8 1034.6 1604.4 1034.4 1606.1 1034.2C1607.8 1034 1609.4 1033.8 1611.1 1033.7C1612.8 1033.5 1614.4 1033.4 1616.1 1033.2C1617.8 1033.1 1619.5 1032.9 1621.1 1032.8C1622.8 1032.7 1624.5 1032.6 1626.2 1032.5C1627.9 1032.4 1629.5 1032.3 1631.2 1032.2C1632.9 1032.1 1634.6 1032 1636.2 1032C1637.9 1031.9 1639.6 1031.8 1641.3 1031.8C1643 1031.7 1644.6 1031.7 1646.3 1031.6C1648 1031.6 1649.7 1031.5 1651.4 1031.5C1653 1031.5 1654.7 1031.4 1656.4 1031.4C1658.1 1031.4 1659.7 1031.4 1661.4 1031.3C1663.1 1031.3 1664.8 1031.3 1666.4 1031.3C1668.1 1031.2 1669.8 1031.2 1671.5 1031.2C1673.1 1031.2 1674.8 1031.2 1676.5 1031.1C1678.1 1031.1 1679.8 1031.1 1681.5 1031.1C1683.1 1031.1 1684.8 1031 1686.5 1031C1688.1 1031 1689.8 1030.9 1691.4 1030.9C1693.1 1030.9 1694.8 1030.8 1696.4 1030.8C1698.1 1030.7 1699.7 1030.7 1701.4 1030.6C1703 1030.6 1704.7 1030.5 1706.3 1030.5C1707.9 1030.4 1709.6 1030.3 1711.2 1030.2"/>
<path class="cv b" d="M1002.1 853C1003.7 853.3 1005.3 853.6 1006.9 853.9C1008.5 854.3 1010.1 854.7 1011.6 855.1C1013.2 855.4 1014.8 855.8 1016.4 856.3C1018 856.7 1019.5 857.1 1021.1 857.6C1022.7 858.1 1024.2 858.5 1025.8 859C1027.4 859.5 1028.9 860 1030.5 860.5C1032 861.1 1033.6 861.6 1035.2 862.1C1036.7 862.7 1038.3 863.3 1039.8 863.8C1041.4 864.4 1042.9 865 1044.4 865.6C1046 866.2 1047.5 866.8 1049.1 867.5C1050.6 868.1 1052.1 868.7 1053.7 869.4C1055.2 870 1056.7 870.7 1058.3 871.3C1059.8 872 1061.3 872.7 1062.8 873.4C1064.4 874.1 1065.9 874.8 1067.4 875.5C1068.9 876.2 1070.4 876.9 1071.9 877.6C1073.5 878.3 1075 879 1076.5 879.8C1078 880.5 1079.5 881.2 1081 882C1082.5 882.7 1084.1 883.5 1085.6 884.2C1087.1 885 1088.6 885.7 1090.1 886.5C1091.6 887.2 1093.1 888 1094.6 888.8C1096.1 889.5 1097.6 890.3 1099.1 891.1C1100.6 891.8 1102.1 892.6 1103.6 893.4C1105.1 894.1 1106.6 894.9 1108.1 895.7C1109.6 896.4 1111.1 897.2 1112.6 898C1114.1 898.8 1115.6 899.5 1117.1 900.3C1118.6 901 1120.1 901.8 1121.6 902.6C1123.1 903.3 1124.6 904.1 1126.1 904.8C1127.5 905.6 1129 906.3 1130.5 907.1C1132 907.8 1133.5 908.6 1135 909.3C1136.5 910 1138 910.8 1139.5 911.5C1141 912.2 1142.5 912.9 1144 913.7C1145.5 914.4 1147 915.1 1148.5 915.8C1150 916.5 1151.5 917.2 1153 917.9C1154.5 918.6 1156 919.3 1157.5 920C1159 920.7 1160.5 921.3 1162 922C1163.5 922.7 1165 923.4 1166.5 924C1168 924.7 1169.5 925.3 1171 926C1172.5 926.7 1174.1 927.3 1175.6 928C1177.1 928.6 1178.6 929.2 1180.1 929.9C1181.6 930.5 1183.1 931.1 1184.6 931.8C1186.2 932.4 1187.7 933 1189.2 933.6C1190.7 934.3 1192.2 934.9 1193.8 935.5C1195.3 936.1 1196.8 936.7 1198.3 937.3C1199.9 937.9 1201.4 938.4 1202.9 939C1204.5 939.6 1206 940.2 1207.5 940.8C1209.1 941.3 1210.6 941.9 1212.2 942.5C1213.7 943 1215.2 943.6 1216.8 944.1C1218.3 944.7 1219.9 945.2 1221.4 945.8C1223 946.3 1224.5 946.9 1226.1 947.4C1227.7 947.9 1229.2 948.5 1230.8 949C1232.4 949.5 1233.9 950 1235.5 950.5C1237.1 951 1238.6 951.5 1240.2 952C1241.8 952.5 1243.4 953 1245 953.5C1246.5 954 1248.1 954.5 1249.7 954.9C1251.3 955.4 1252.9 955.9 1254.5 956.4C1256.1 956.8 1257.7 957.3 1259.3 957.7C1260.9 958.2 1262.5 958.6 1264.1 959.1C1265.7 959.5 1267.4 959.9 1269 960.4C1270.6 960.8 1272.2 961.2 1273.8 961.6C1275.5 962.1 1277.1 962.5 1278.7 962.9C1280.3 963.3 1282 963.6 1283.6 964C1285.2 964.4 1286.9 964.8 1288.5 965.2C1290.1 965.5 1291.8 965.9 1293.4 966.2C1295.1 966.6 1296.7 966.9 1298.4 967.3C1300 967.6 1301.7 967.9 1303.3 968.2C1305 968.5 1306.6 968.9 1308.3 969.2C1309.9 969.4 1311.6 969.7 1313.2 970C1314.9 970.3 1316.5 970.6 1318.2 970.8C1319.8 971.1 1321.5 971.3 1323.2 971.6C1324.8 971.8 1326.5 972 1328.1 972.2C1329.8 972.5 1331.5 972.7 1333.1 972.8C1334.8 973 1336.5 973.2 1338.1 973.4C1339.8 973.6 1341.4 973.7 1343.1 973.9C1344.8 974 1346.4 974.2 1348.1 974.3C1349.8 974.4 1351.4 974.5 1353.1 974.6C1354.7 974.7 1356.4 974.8 1358.1 974.9C1359.7 974.9 1361.4 975 1363 975C1364.7 975.1 1366.4 975.1 1368 975.1C1369.7 975.2 1371.3 975.2 1373 975.2C1374.6 975.2 1376.3 975.1 1378 975.1C1379.6 975.1 1381.3 975 1382.9 974.9C1384.6 974.9 1386.2 974.8 1387.9 974.7C1389.5 974.6 1391.1 974.5 1392.8 974.4C1394.4 974.3 1396.1 974.1 1397.7 974C1399.4 973.8 1401 973.6 1402.6 973.4C1404.3 973.2 1405.9 973 1407.5 972.8C1409.1 972.6 1410.7 972.3 1412.4 972C1414 971.8 1415.6 971.5 1417.2 971.1C1418.8 970.8 1420.4 970.5 1422 970.1C1423.6 969.8 1425.1 969.4 1426.7 968.9C1428.3 968.5 1429.9 968.1 1431.4 967.6C1433 967.2 1434.5 966.7 1436.1 966.1C1437.6 965.6 1439.1 965.1 1440.7 964.5C1442.2 963.9 1443.7 963.3 1445.2 962.7C1446.7 962 1448.2 961.3 1449.7 960.6C1451.2 959.9 1452.6 959.2 1454.1 958.4C1455.5 957.7 1457 956.9 1458.4 956C1459.9 955.2 1461.3 954.3 1462.7 953.4C1464.1 952.5 1465.5 951.6 1466.9 950.6C1468.3 949.7 1469.6 948.7 1471 947.7C1472.4 946.7 1473.7 945.7 1475 944.7C1476.4 943.6 1477.7 942.6 1479 941.5C1480.4 940.5 1481.7 939.4 1483 938.3C1484.3 937.2 1485.5 936.1 1486.8 935C1488.1 934 1489.4 932.9 1490.6 931.8C1491.9 930.7 1493.1 929.5 1494.4 928.5C1495.6 927.4 1496.8 926.3 1498.1 925.2C1499.3 924.1 1500.5 923 1501.7 921.9C1502.9 920.9 1504.1 919.8 1505.3 918.8C1506.5 919.9 1507.7 921.2 1508.7 922.4C1509.8 923.7 1510.8 925 1511.7 926.4C1512.5 927.7 1513.4 929.1 1514.1 930.5C1514.8 932 1515.5 933.4 1516.1 934.9C1516.7 936.4 1517.3 937.9 1517.8 939.5C1518.3 941 1518.7 942.6 1519.1 944.1C1519.5 945.7 1519.9 947.3 1520.2 949C1520.6 950.6 1520.9 952.2 1521.2 953.8C1521.4 955.5 1521.7 957.1 1522 958.8C1522.2 960.4 1522.4 962.1 1522.7 963.8C1522.9 965.4 1523.2 967.1 1523.4 968.8C1523.6 970.4 1523.9 972.1 1524.1 973.7C1524.3 975.4 1524.5 977.1 1524.8 978.7C1525 980.4 1525.2 982.1 1525.4 983.7C1525.7 985.4 1525.9 987.1 1526.1 988.8C1526.4 990.4 1526.6 992.1 1526.8 993.8C1527.1 995.4 1527.3 997.1 1527.5 998.8C1527.8 1000.4 1528 1002.1 1528.3 1003.8C1528.5 1005.4 1528.7 1007.1 1529 1008.8C1529.3 1010.4 1529.5 1012.1 1529.8 1013.8C1530.1 1015.4 1530.3 1017.1 1530.6 1018.7C1530.9 1020.4 1531.2 1022.1 1531.5 1023.7C1531.7 1025.4 1532 1027 1532.3 1028.7C1532.6 1030.4 1532.9 1032 1533.2 1033.7C1533.5 1035.3 1533.8 1037 1534.2 1038.6C1534.5 1040.3 1534.8 1041.9 1535.1 1043.6C1535.4 1045.2 1535.7 1046.9 1536.1 1048.5C1536.4 1050.2 1536.7 1051.8 1537 1053.5C1537.3 1055.1 1537.7 1056.8 1538 1058.4C1538.3 1060.1 1538.6 1061.7 1539 1063.4C1539.3 1065 1539.7 1066.6 1540 1068.3C1540.4 1069.9 1540.7 1071.5 1541.1 1073.1C1541.5 1074.7 1541.9 1076.3 1542.4 1077.9C1542.8 1079.5 1543.3 1081 1543.8 1082.6C1544.4 1084.1 1544.9 1085.6 1545.5 1087.1C1546.1 1088.6 1546.8 1090.1 1547.5 1091.5C1548.2 1092.9 1549 1094.3 1549.8 1095.7C1550.7 1097 1551.6 1098.4 1552.6 1099.6C1553.5 1100.9 1554.6 1102.2 1555.7 1103.4C1556.3 1101.7 1557 1100 1557.7 1098.4C1558.4 1096.8 1559.1 1095.2 1559.9 1093.6C1560.7 1092.1 1561.5 1090.6 1562.4 1089.1C1563.2 1087.7 1564.1 1086.2 1565 1084.9C1566 1083.5 1566.9 1082.1 1567.9 1080.8C1568.9 1079.5 1569.9 1078.2 1571 1077C1572 1075.7 1573.1 1074.5 1574.2 1073.4C1575.3 1072.2 1576.5 1071 1577.7 1069.9C1578.8 1068.8 1580 1067.7 1581.3 1066.7C1582.5 1065.6 1583.7 1064.6 1585 1063.6C1586.3 1062.7 1587.6 1061.7 1588.9 1060.8C1590.2 1059.8 1591.6 1058.9 1592.9 1058C1594.3 1057.2 1595.7 1056.3 1597.1 1055.5C1598.5 1054.6 1599.9 1053.8 1601.4 1053.1C1602.8 1052.3 1604.3 1051.5 1605.8 1050.8C1607.2 1050 1608.7 1049.3 1610.2 1048.6C1611.7 1047.9 1613.3 1047.2 1614.8 1046.6C1616.3 1045.9 1617.9 1045.3 1619.4 1044.7C1621 1044 1622.6 1043.4 1624.1 1042.8C1625.7 1042.3 1627.3 1041.7 1628.9 1041.1C1630.5 1040.6 1632.1 1040 1633.7 1039.5C1635.3 1038.9 1636.9 1038.4 1638.6 1037.9C1640.2 1037.4 1641.8 1036.9 1643.5 1036.4C1645.1 1035.9 1646.7 1035.4 1648.4 1035C1650 1034.5 1651.7 1034 1653.3 1033.6C1654.9 1033.1 1656.6 1032.7 1658.2 1032.2C1659.9 1031.8 1661.5 1031.3 1663.2 1030.9C1664.8 1030.4 1666.5 1030 1668.1 1029.6C1669.8 1029.2 1671.4 1028.7 1673.1 1028.3C1674.7 1027.9 1676.4 1027.4 1678 1027C1679.6 1026.6 1681.2 1026.2 1682.9 1025.7C1684.5 1025.3 1686.1 1024.9 1687.7 1024.4C1689.3 1024 1690.9 1023.6 1692.5 1023.1C1694.1 1022.7 1695.7 1022.2 1697.3 1021.8C1698.9 1021.3 1700.4 1020.8 1702 1020.4C1703.6 1019.9 1705.1 1019.4 1706.6 1018.9C1708.2 1018.5 1709.7 1018 1711.2 1017.5"/>
</g>
<text class="yt" transform="translate(995.4 866.35) scale(1 1.1)">1.0</text>
<text class="yt" transform="translate(995.4 915.85) scale(1 1.1)">0.8</text>
<text class="yt" transform="translate(995.4 965.35) scale(1 1.1)">0.6</text>
<text class="yt" transform="translate(995.4 1014.85) scale(1 1.1)">0.4</text>
<text class="yt" transform="translate(995.4 1064.35) scale(1 1.1)">0.2</text>
<text class="yt" transform="translate(995.4 1113.85) scale(1 1.1)">0.0</text>
<text class="lab" x="1017.6" y="1080.3">L=170 μm</text>
</g>
<text class="xt" transform="translate(1119.7 1151.6) scale(1 1.045)">0.3</text>
<text class="xt" transform="translate(1356.5 1151.6) scale(1 1.045)">0.4</text>
<text class="xt" transform="translate(1593.2 1151.6) scale(1 1.045)">0.5</text>
<text class="ttl" style="font-size:36.35px" transform="translate(1357.2 1194.3) scale(1 1.035)">Frequency (THz)</text>
<text class="ttl" transform="translate(919 525.30) rotate(-90) scale(1 1.045)">Transmission coefficients</text>
<text class="tag" x="868" y="44">(b)</text>
<path class="cv r" style="stroke-linecap:round" d="M1555.3 79H1636.8"/>
<text class="lg" x="1646.8" y="91" font-size="48">t</text>
<text class="lg" x="1665.3" y="73.5" font-size="32">f</text>
<text class="lg" x="1659.8" y="104" font-size="32">xx</text>
<path class="cv b" style="stroke-linecap:round" d="M1555.3 152.4H1636.8"/>
<text class="lg" x="1646.8" y="164.4" font-size="48">t</text>
<text class="lg" x="1667.3" y="146.9" font-size="32">b</text>
<text class="lg" x="1659.8" y="177.4" font-size="32">xx</text>
</svg>
</body>
</html>
